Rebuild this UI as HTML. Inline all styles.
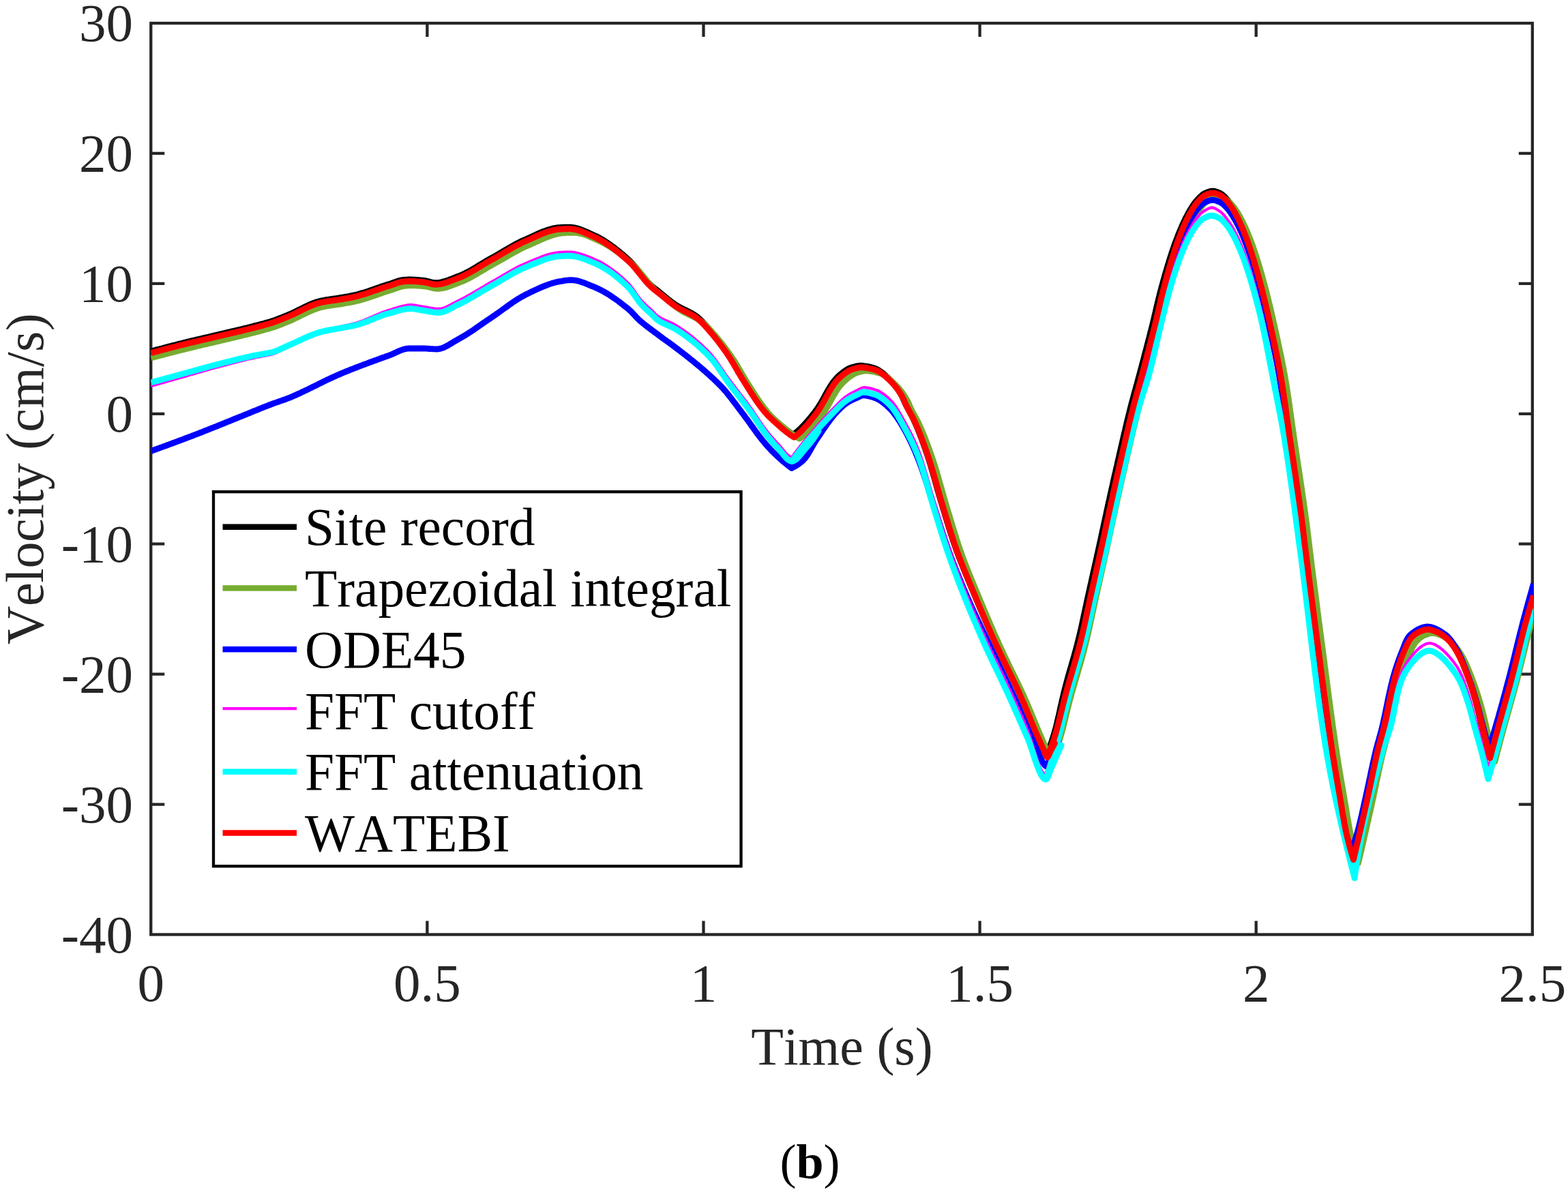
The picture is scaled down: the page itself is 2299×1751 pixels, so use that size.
<!DOCTYPE html>
<html lang="en">
<head>
<meta charset="utf-8">
<title>Velocity comparison (b)</title>
<style>
html,body{margin:0;padding:0;background:#fff}
body{width:2299px;height:1751px;overflow:hidden}
svg{display:block}
</style>
</head>
<body>
<svg xmlns="http://www.w3.org/2000/svg" width="2299" height="1751" viewBox="0 0 2299 1751">
<rect width="2299" height="1751" fill="#fff"/>
<defs><clipPath id="c"><rect x="221.25" y="34.00" width="2027.05" height="1336.50"/></clipPath></defs>
<g fill="none" stroke="#262626" stroke-width="4.3" stroke-linecap="butt">
<rect x="221.25" y="34.00" width="2025.55" height="1336.50"/>
<path d="M626.36 1370.50v-20.0M626.36 34.00v20.0M1031.47 1370.50v-20.0M1031.47 34.00v20.0M1436.58 1370.50v-20.0M1436.58 34.00v20.0M1841.69 1370.50v-20.0M1841.69 34.00v20.0M221.25 224.93h20.0M2246.80 224.93h-20.0M221.25 415.86h20.0M2246.80 415.86h-20.0M221.25 606.79h20.0M2246.80 606.79h-20.0M221.25 797.71h20.0M2246.80 797.71h-20.0M221.25 988.64h20.0M2246.80 988.64h-20.0M221.25 1179.57h20.0M2246.80 1179.57h-20.0"/>
</g>
<g fill="none" stroke-linejoin="round" stroke-linecap="butt" clip-path="url(#c)">
<path stroke="#000000" stroke-width="8.9" d="M221.3 515.2L223.7 514.5L226.1 513.9L228.5 513.2L231 512.6L233.4 512L235.8 511.3L238.2 510.7L240.6 510L243.1 509.4L245.5 508.8L247.9 508.1L250.3 507.5L252.7 506.9L255.2 506.3L257.6 505.7L260 505L262.4 504.4L264.9 503.8L267.3 503.2L269.7 502.6L272.2 502L274.6 501.4L277 500.8L279.4 500.2L281.9 499.7L284.3 499.1L286.7 498.5L289.2 497.9L291.6 497.4L294.1 496.8L296.5 496.2L298.9 495.7L301.4 495.1L303.8 494.5L306.2 494L308.7 493.4L311.1 492.8L313.5 492.2L316 491.7L318.4 491.1L320.9 490.5L323.3 489.9L325.7 489.4L328.2 488.8L330.6 488.2L333 487.7L335.5 487.1L337.9 486.5L340.3 485.9L342.8 485.4L345.2 484.8L347.6 484.2L350.1 483.6L352.5 483.1L354.9 482.5L357.4 481.9L359.8 481.3L362.2 480.7L364.7 480.1L367.1 479.5L369.5 478.9L371.9 478.2L374.4 477.6L376.8 477L379.2 476.4L381.6 475.7L384.1 475.1L386.5 474.5L388.9 473.8L391.3 473.1L393.7 472.4L396.1 471.7L398.5 471L400.8 470.2L403.2 469.4L405.6 468.5L407.9 467.6L410.2 466.7L412.6 465.8L414.9 464.8L417.2 463.9L419.5 463L421.8 462L424.1 461L426.4 460L428.7 459L431 457.9L433.3 456.8L435.6 455.7L437.8 454.5L440.1 453.4L442.4 452.3L444.7 451.2L446.9 450.1L449.2 449L451.5 447.9L453.8 446.9L456.1 445.9L458.4 445L460.7 444.1L463 443.3L465.4 442.6L467.8 441.9L470.1 441.3L472.5 440.7L475 440.3L477.4 439.8L479.9 439.4L482.3 439.1L484.8 438.7L487.3 438.4L489.8 438L492.3 437.7L494.8 437.3L497.3 436.9L499.8 436.5L502.2 436.1L504.7 435.7L507.2 435.2L509.6 434.8L512.1 434.3L514.5 433.8L517 433.3L519.4 432.8L521.9 432.3L524.3 431.7L526.7 431L529.1 430.3L531.5 429.6L533.9 428.9L536.2 428.2L538.6 427.4L541 426.6L543.4 425.8L545.7 424.9L548.1 424.1L550.5 423.3L552.8 422.5L555.2 421.6L557.6 420.8L560 420L562.3 419.2L564.7 418.4L567.1 417.6L569.5 416.9L571.9 416.2L574.3 415.4L576.7 414.5L579.1 413.7L581.4 412.8L583.8 412.1L586.3 411.4L588.7 410.8L591.1 410.4L593.6 410.3L596.1 410.1L598.6 410L601.1 410L603.6 410L606.1 410.1L608.6 410.2L611.1 410.4L613.6 410.6L616.1 410.8L618.6 411.1L621.1 411.3L623.5 411.7L626 412.3L628.5 412.9L630.9 413.5L633.4 414.1L635.8 414.5L638.3 414.7L640.7 414.6L643.1 414.4L645.6 414.1L648 413.6L650.5 412.9L652.9 412.2L655.3 411.4L657.7 410.6L660.1 409.7L662.5 408.8L664.9 407.8L667.3 406.9L669.6 406L671.9 405.2L674.2 404.3L676.5 403.3L678.7 402.3L681 401.2L683.2 400.1L685.4 399L687.6 397.8L689.8 396.6L692 395.4L694.2 394.1L696.3 392.8L698.5 391.5L700.7 390.2L702.8 388.9L705 387.6L707.2 386.3L709.3 385L711.5 383.7L713.6 382.4L715.8 381.2L718 379.9L720.2 378.7L722.4 377.5L724.6 376.3L726.8 375L728.9 373.8L731.1 372.5L733.3 371.2L735.4 370L737.6 368.7L739.8 367.4L741.9 366.1L744.1 364.9L746.3 363.6L748.5 362.3L750.6 361.1L752.8 359.9L755 358.7L757.2 357.5L759.4 356.3L761.7 355.2L763.9 354.1L766.1 353L768.4 352L770.7 351L772.9 350L775.2 349L777.5 348L779.8 346.9L782.1 345.8L784.5 344.8L786.8 343.7L789.1 342.7L791.5 341.7L793.8 340.7L796.2 339.7L798.6 338.8L801 337.9L803.3 337.1L805.7 336.4L808.1 335.7L810.5 335.1L813 334.6L815.4 334.2L817.8 333.8L820.3 333.6L822.7 333.5L825.2 333.4L827.7 333.2L830.3 333.2L832.8 333.1L835.2 333.1L837.7 333.3L840.1 333.6L842.6 334L845 334.6L847.5 335.3L849.9 336L852.3 336.9L854.7 337.8L857.1 338.8L859.4 339.8L861.8 340.9L864.1 341.9L866.4 343L868.6 344L870.9 345L873.1 346L875.3 347.1L877.5 348.2L879.6 349.4L881.8 350.6L884 351.9L886.1 353.2L888.2 354.6L890.4 356L892.5 357.4L894.5 358.8L896.6 360.3L898.7 361.8L900.7 363.4L902.7 364.9L904.7 366.5L906.7 368.1L908.7 369.7L910.6 371.3L912.6 373L914.5 374.6L916.4 376.2L918.2 377.9L920.1 379.5L921.9 381.2L923.6 382.9L925.4 384.6L927.1 386.5L928.7 388.3L930.4 390.2L932 392.1L933.6 394.1L935.2 396L936.7 398L938.3 400L939.9 402L941.5 404L943.1 405.9L944.7 407.9L946.3 409.8L947.9 411.7L949.6 413.5L951.4 415.4L953.1 417.1L954.9 418.8L956.8 420.4L958.7 422L960.7 423.6L962.7 425.1L964.7 426.6L966.6 428.2L968.6 429.8L970.5 431.4L972.5 433L974.4 434.6L976.3 436.2L978.3 437.8L980.2 439.4L982.2 440.9L984.2 442.5L986.2 443.9L988.2 445.4L990.2 446.8L992.3 448.1L994.5 449.4L996.7 450.6L998.9 451.7L1001.2 452.9L1003.5 454L1005.8 455.1L1008 456.2L1010.3 457.3L1012.5 458.5L1014.7 459.7L1016.8 461L1018.9 462.3L1020.9 463.7L1022.8 465.2L1024.7 466.8L1026.5 468.5L1028.3 470.3L1030.1 472L1031.8 473.9L1033.5 475.8L1035.2 477.6L1036.9 479.5L1038.6 481.4L1040.2 483.3L1041.8 485.2L1043.5 487.1L1045.1 489L1046.7 490.9L1048.2 492.9L1049.8 494.8L1051.4 496.8L1052.9 498.8L1054.4 500.8L1055.9 502.8L1057.4 504.8L1058.9 506.8L1060.4 508.9L1061.8 510.9L1063.3 513L1064.7 515L1066.1 517.1L1067.5 519.2L1068.9 521.2L1070.2 523.3L1071.6 525.5L1072.8 527.6L1074.1 529.7L1075.4 531.9L1076.6 534.1L1077.9 536.3L1079.1 538.4L1080.4 540.6L1081.6 542.8L1082.9 544.9L1084.2 547.1L1085.5 549.2L1086.8 551.4L1088.1 553.5L1089.5 555.6L1090.8 557.7L1092.1 559.9L1093.5 562L1094.8 564.1L1096.1 566.3L1097.5 568.4L1098.8 570.5L1100.2 572.7L1101.5 574.7L1102.9 576.8L1104.2 578.9L1105.6 581L1107 583L1108.4 585.1L1109.8 587.1L1111.3 589.1L1112.7 591.1L1114.2 593.1L1115.7 595L1117.2 596.9L1118.7 598.8L1120.3 600.7L1121.9 602.5L1123.5 604.3L1125.2 606.1L1127 607.8L1128.7 609.5L1130.5 611.2L1132.4 612.9L1134.2 614.6L1136.1 616.2L1137.9 617.8L1139.8 619.5L1141.7 621.1L1143.5 622.7L1145.4 624.3L1147.3 625.9L1149.2 627.5L1151.1 629L1153.1 630.5L1155 631.9L1157.1 633.3L1159.1 634.7L1161.2 636L1163.3 637.3L1165.2 635.8L1167.2 634.2L1169.1 632.6L1170.9 631L1172.7 629.4L1174.5 627.7L1176.2 625.9L1177.9 624.2L1179.6 622.4L1181.3 620.6L1182.9 618.7L1184.5 616.8L1186.1 614.9L1187.7 613L1189.3 611.1L1190.8 609.2L1192.4 607.2L1193.9 605.3L1195.4 603.3L1196.8 601.4L1198.3 599.4L1199.7 597.3L1201 595.2L1202.3 593.1L1203.6 590.9L1204.9 588.7L1206.2 586.5L1207.4 584.3L1208.6 582.1L1209.8 579.8L1211.1 577.6L1212.3 575.4L1213.5 573.2L1214.8 571L1216.1 568.9L1217.3 566.7L1218.7 564.7L1220 562.6L1221.4 560.7L1222.9 558.8L1224.4 556.9L1225.9 555.2L1227.5 553.5L1229.2 551.8L1231 550.2L1232.9 548.5L1234.9 546.9L1236.9 545.3L1239 543.8L1241.2 542.4L1243.4 541.1L1245.7 540L1248 539.1L1250.3 538.4L1252.7 537.7L1255.1 537.1L1257.6 536.6L1260.1 536.3L1262.6 536.3L1265.1 536.5L1267.7 536.8L1270.2 537.2L1272.7 537.6L1275.2 538.2L1277.7 538.8L1280 539.4L1282.3 540.1L1284.5 540.9L1286.7 542L1288.8 543.3L1291 544.7L1293 546.3L1295.1 547.9L1297 549.6L1299 551.4L1300.8 553.1L1302.7 554.8L1304.4 556.5L1306.1 558.3L1307.8 560.1L1309.5 562L1311.1 563.9L1312.7 565.9L1314.2 567.9L1315.7 570L1317.2 572.1L1318.6 574.2L1319.9 576.3L1321.2 578.4L1322.3 580.6L1323.4 582.9L1324.4 585.1L1325.4 587.5L1326.4 589.8L1327.5 592.1L1328.6 594.3L1329.7 596.5L1330.9 598.7L1332.1 600.9L1333.3 603.1L1334.5 605.3L1335.7 607.5L1336.9 609.7L1338 612L1339.1 614.2L1340.1 616.5L1341.1 618.7L1342.1 621L1343.1 623.3L1344.1 625.6L1345.1 627.9L1346 630.2L1347 632.6L1347.9 634.9L1348.8 637.2L1349.7 639.6L1350.6 641.9L1351.5 644.2L1352.4 646.6L1353.2 648.9L1354.1 651.3L1354.9 653.7L1355.8 656L1356.6 658.4L1357.4 660.7L1358.3 663.1L1359.1 665.5L1359.9 667.8L1360.6 670.2L1361.4 672.6L1362.2 674.9L1362.9 677.3L1363.7 679.7L1364.4 682.1L1365.1 684.5L1365.8 686.9L1366.5 689.3L1367.2 691.7L1367.9 694.1L1368.6 696.5L1369.3 698.9L1370 701.3L1370.7 703.7L1371.3 706.1L1372 708.5L1372.7 711L1373.4 713.4L1374 715.8L1374.7 718.2L1375.4 720.6L1376.1 723L1376.8 725.4L1377.5 727.8L1378.2 730.2L1378.9 732.6L1379.6 735L1380.4 737.4L1381.1 739.8L1381.8 742.2L1382.5 744.6L1383.2 747L1384 749.4L1384.7 751.8L1385.4 754.2L1386.1 756.6L1386.8 759L1387.6 761.3L1388.3 763.7L1389 766.1L1389.8 768.5L1390.5 770.9L1391.2 773.3L1392 775.7L1392.7 778.1L1393.5 780.5L1394.2 782.9L1395 785.2L1395.8 787.6L1396.6 790L1397.3 792.4L1398.1 794.7L1398.9 797.1L1399.8 799.4L1400.6 801.8L1401.4 804.2L1402.2 806.5L1403.1 808.9L1404 811.2L1404.8 813.5L1405.7 815.9L1406.6 818.2L1407.5 820.5L1408.4 822.9L1409.3 825.2L1410.3 827.5L1411.2 829.8L1412.1 832.2L1413.1 834.5L1414 836.8L1414.9 839.1L1415.9 841.4L1416.9 843.7L1417.8 846.1L1418.8 848.4L1419.7 850.7L1420.7 853L1421.7 855.3L1422.6 857.6L1423.6 859.9L1424.6 862.2L1425.5 864.5L1426.5 866.8L1427.5 869.1L1428.4 871.5L1429.4 873.8L1430.4 876.1L1431.3 878.4L1432.3 880.7L1433.3 883L1434.2 885.3L1435.2 887.6L1436.2 889.9L1437.1 892.2L1438.1 894.5L1439.1 896.8L1440.1 899.1L1441.1 901.4L1442 903.7L1443 906L1444 908.3L1445 910.6L1446 912.9L1447 915.2L1448 917.5L1449 919.8L1450 922.1L1451 924.3L1452.1 926.6L1453.1 928.9L1454.1 931.2L1455.1 933.5L1456.1 935.8L1457.2 938L1458.2 940.3L1459.2 942.6L1460.3 944.9L1461.4 947.1L1462.4 949.4L1463.5 951.6L1464.6 953.9L1465.6 956.2L1466.7 958.4L1467.8 960.7L1468.9 962.9L1470 965.2L1471.1 967.4L1472.2 969.7L1473.3 971.9L1474.4 974.2L1475.5 976.4L1476.6 978.7L1477.7 980.9L1478.8 983.2L1479.9 985.4L1481 987.7L1482.1 989.9L1483.2 992.2L1484.2 994.4L1485.3 996.7L1486.4 998.9L1487.5 1001.2L1488.5 1003.4L1489.6 1005.7L1490.7 1008L1491.7 1010.2L1492.7 1012.5L1493.8 1014.8L1494.8 1017.1L1495.8 1019.4L1496.8 1021.6L1497.8 1023.9L1498.8 1026.2L1499.8 1028.4L1500.9 1030.6L1501.9 1032.7L1502.9 1034.9L1503.9 1037L1504.9 1039.2L1505.9 1041.4L1506.9 1043.5L1507.9 1045.7L1508.9 1047.9L1510 1050L1511 1052.2L1512 1054.4L1513 1056.5L1514 1058.7L1515 1060.9L1516 1063L1517.1 1065.2L1518.1 1067.3L1519.1 1069.5L1520.2 1071.6L1521.2 1073.7L1522.3 1075.9L1523.4 1078L1524.5 1080.1L1525.5 1082.2L1526.6 1084.4L1527.7 1086.5L1528.9 1088.6L1530 1090.7L1531.1 1093L1532.2 1095.8L1533.4 1098.6L1534.5 1100.9L1535.7 1102.3L1536.8 1102.4L1537.9 1101.3L1538.9 1099.2L1539.9 1096.5L1540.9 1094L1541.9 1091.9L1543 1090L1544 1088L1545 1086.1L1546.1 1084.2L1537.4 1100.3L1538.2 1098.1L1538.9 1096L1539.7 1093.8L1540.5 1091.6L1541.3 1089.5L1542 1087.3L1542.7 1085.1L1543.4 1082.9L1544.1 1080.7L1544.8 1078.5L1545.5 1076.3L1546.1 1074.1L1546.8 1071.8L1547.4 1069.6L1548 1067.3L1548.6 1065L1549.1 1062.8L1549.7 1060.5L1550.2 1058.2L1550.8 1055.9L1551.3 1053.6L1551.8 1051.3L1552.4 1049L1552.9 1046.7L1553.4 1044.4L1553.9 1042.1L1554.4 1039.7L1554.9 1037.4L1555.4 1035.1L1556 1032.8L1556.5 1030.5L1557 1028.2L1557.5 1025.9L1558.1 1023.6L1558.6 1021.3L1559.2 1019L1559.7 1016.7L1560.3 1014.4L1560.9 1012.2L1561.4 1009.9L1562 1007.6L1562.6 1005.3L1563.2 1003.1L1563.8 1000.8L1564.4 998.5L1565 996.3L1565.6 994L1566.2 991.8L1566.9 989.4L1567.6 987L1568.3 984.6L1569 982.2L1569.7 979.8L1570.4 977.4L1571.1 975L1571.8 972.6L1572.5 970.2L1573.2 967.8L1573.9 965.4L1574.6 963L1575.3 960.6L1575.9 958.2L1576.6 955.7L1577.3 953.3L1577.9 950.9L1578.6 948.5L1579.2 946.1L1579.8 943.7L1580.4 941.2L1581 938.8L1581.6 936.4L1582.2 934L1582.8 931.5L1583.4 929.1L1583.9 926.7L1584.5 924.2L1585.1 921.8L1585.6 919.3L1586.2 916.9L1586.7 914.5L1587.2 912L1587.8 909.6L1588.3 907.1L1588.8 904.7L1589.3 902.2L1589.9 899.8L1590.4 897.3L1590.9 894.9L1591.4 892.4L1592 890L1592.5 887.5L1593 885.1L1593.5 882.6L1594.1 880.2L1594.6 877.7L1595.1 875.3L1595.7 872.8L1596.2 870.4L1596.7 868L1597.3 865.5L1597.8 863.1L1598.4 860.6L1598.9 858.2L1599.5 855.7L1600 853.3L1600.6 850.9L1601.1 848.4L1601.6 846L1602.2 843.5L1602.7 841.1L1603.3 838.6L1603.8 836.2L1604.4 833.8L1604.9 831.3L1605.5 828.9L1606 826.4L1606.6 824L1607.1 821.6L1607.7 819.1L1608.2 816.7L1608.7 814.2L1609.3 811.8L1609.8 809.3L1610.4 806.9L1610.9 804.4L1611.4 802L1612 799.6L1612.5 797.1L1613 794.7L1613.6 792.2L1614.1 789.8L1614.6 787.3L1615.2 784.9L1615.7 782.4L1616.2 780L1616.7 777.5L1617.3 775.1L1617.8 772.6L1618.3 770.2L1618.8 767.8L1619.4 765.3L1619.9 762.9L1620.4 760.4L1620.9 758L1621.5 755.5L1622 753.1L1622.5 750.6L1623.1 748.2L1623.6 745.7L1624.1 743.3L1624.7 740.8L1625.2 738.4L1625.7 736L1626.3 733.5L1626.8 731.1L1627.4 728.6L1627.9 726.2L1628.4 723.7L1629 721.3L1629.5 718.9L1630.1 716.4L1630.6 714L1631.2 711.5L1631.7 709.1L1632.2 706.6L1632.8 704.2L1633.3 701.8L1633.9 699.3L1634.4 696.9L1635 694.4L1635.6 692L1636.1 689.6L1636.7 687.1L1637.2 684.7L1637.8 682.2L1638.3 679.8L1638.9 677.4L1639.4 674.9L1640 672.5L1640.6 670L1641.1 667.6L1641.7 665.2L1642.2 662.7L1642.8 660.3L1643.4 657.8L1643.9 655.4L1644.5 653L1645 650.5L1645.6 648.1L1646.2 645.6L1646.7 643.2L1647.3 640.8L1647.8 638.3L1648.4 635.9L1649 633.5L1649.6 631L1650.1 628.6L1650.7 626.1L1651.3 623.7L1651.8 621.3L1652.4 618.8L1653 616.4L1653.6 614L1654.2 611.5L1654.8 609.1L1655.4 606.7L1656 604.2L1656.6 601.8L1657.2 599.4L1657.8 597L1658.4 594.5L1659.1 592.1L1659.7 589.7L1660.4 587.3L1661 584.9L1661.7 582.5L1662.3 580L1663 577.6L1663.6 575.2L1664.3 572.8L1665 570.4L1665.6 568L1666.3 565.6L1667 563.2L1667.6 560.7L1668.3 558.3L1668.9 555.9L1669.6 553.5L1670.2 551.1L1670.9 548.7L1671.5 546.2L1672.2 543.8L1672.8 541.4L1673.5 539L1674.1 536.6L1674.7 534.1L1675.4 531.7L1676 529.3L1676.7 526.9L1677.3 524.5L1677.9 522L1678.6 519.6L1679.2 517.2L1679.8 514.8L1680.5 512.4L1681.1 509.9L1681.7 507.5L1682.4 505.1L1683 502.7L1683.6 500.2L1684.2 497.8L1684.9 495.4L1685.5 493L1686.1 490.5L1686.7 488.1L1687.3 485.7L1688 483.3L1688.6 480.8L1689.2 478.4L1689.8 476L1690.4 473.6L1691 471.1L1691.6 468.7L1692.2 466.3L1692.7 463.8L1693.3 461.4L1693.9 459L1694.4 456.5L1695 454.1L1695.6 451.6L1696.1 449.2L1696.7 446.8L1697.3 444.3L1697.9 441.8L1698.5 439.4L1699.1 436.9L1699.7 434.5L1700.3 432.1L1700.9 429.6L1701.5 427.2L1702.2 424.7L1702.8 422.3L1703.5 419.8L1704.2 417.4L1704.8 415L1705.5 412.5L1706.2 410.1L1706.9 407.7L1707.5 405.2L1708.2 402.8L1708.9 400.4L1709.6 398L1710.4 395.5L1711.1 393.1L1711.8 390.7L1712.5 388.3L1713.3 385.8L1714 383.4L1714.8 381L1715.5 378.6L1716.3 376.2L1717.1 373.8L1717.8 371.4L1718.6 369L1719.5 366.6L1720.3 364.2L1721.1 361.8L1721.9 359.4L1722.8 357L1723.7 354.6L1724.6 352.2L1725.5 349.9L1726.4 347.5L1727.3 345.1L1728.2 342.8L1729.2 340.4L1730.2 338.1L1731.2 335.7L1732.2 333.4L1733.2 331.1L1734.2 328.7L1735.3 326.4L1736.4 324.1L1737.5 321.8L1738.6 319.5L1739.8 317.3L1741 315L1742.2 312.8L1743.4 310.5L1744.7 308.3L1746.1 306.1L1747.4 304L1748.8 301.8L1750.3 299.7L1751.8 297.6L1753.4 295.6L1755.1 293.6L1756.8 291.7L1758.6 289.8L1760.5 288L1762.5 286.2L1764.6 284.7L1766.8 283.4L1769.2 282.4L1771.7 281.4L1774.3 280.6L1776.8 280.1L1779.3 280.1L1781.8 280.6L1784.2 281.4L1786.6 282.4L1788.9 283.4L1791 284.6L1793 286.2L1794.9 287.9L1796.7 289.8L1798.4 291.6L1800.1 293.5L1801.6 295.5L1803.2 297.5L1804.6 299.6L1806 301.7L1807.4 303.8L1808.7 305.9L1809.9 308.1L1811.2 310.3L1812.4 312.5L1813.5 314.8L1814.7 317L1815.8 319.3L1816.8 321.5L1817.9 323.8L1818.9 326.1L1820 328.4L1821 330.7L1821.9 333.1L1822.9 335.4L1823.8 337.7L1824.8 340L1825.7 342.4L1826.6 344.7L1827.5 347.1L1828.4 349.4L1829.2 351.8L1830.1 354.2L1830.9 356.6L1831.7 358.9L1832.5 361.3L1833.3 363.7L1834.1 366.1L1834.9 368.5L1835.6 370.9L1836.4 373.3L1837.1 375.7L1837.9 378.1L1838.6 380.5L1839.3 382.9L1840 385.3L1840.7 387.7L1841.4 390.1L1842.1 392.5L1842.8 394.9L1843.5 397.4L1844.1 399.8L1844.8 402.2L1845.5 404.6L1846.1 407L1846.8 409.5L1847.4 411.9L1848.1 414.3L1848.7 416.8L1849.4 419.2L1850 421.6L1850.6 424L1851.2 426.5L1851.8 428.9L1852.4 431.3L1853 433.7L1853.6 436.2L1854.2 438.6L1854.8 441L1855.4 443.5L1855.9 445.9L1856.5 448.3L1857.1 450.8L1857.6 453.2L1858.2 455.7L1858.8 458.1L1859.3 460.5L1859.8 463L1860.4 465.4L1860.9 467.9L1861.5 470.3L1862 472.7L1862.5 475.2L1863.1 477.6L1863.6 480.1L1864.2 482.5L1864.7 485L1865.2 487.4L1865.8 489.8L1866.3 492.3L1866.8 494.7L1867.4 497.2L1867.9 499.6L1868.4 502.1L1868.9 504.5L1869.5 507L1870 509.4L1870.5 511.9L1871 514.3L1871.5 516.8L1872 519.2L1872.5 521.7L1873 524.1L1873.5 526.6L1873.9 529L1874.4 531.5L1874.9 533.9L1875.3 536.4L1875.8 538.9L1876.2 541.3L1876.7 543.8L1877.1 546.2L1877.5 548.7L1877.9 551.2L1878.4 553.6L1878.8 556.1L1879.2 558.6L1879.6 561L1880 563.5L1880.3 566L1880.7 568.4L1881.1 570.9L1881.5 573.4L1881.8 575.9L1882.2 578.3L1882.6 580.8L1882.9 583.3L1883.3 585.8L1883.6 588.2L1884 590.7L1884.3 593.2L1884.7 595.7L1885 598.1L1885.4 600.6L1885.7 603.1L1886.1 605.6L1886.4 608.1L1886.8 610.5L1887.1 613L1887.4 615.5L1887.8 618L1888.1 620.5L1888.5 622.9L1888.8 625.4L1889.2 627.9L1889.5 630.4L1889.9 632.8L1890.2 635.3L1890.6 637.8L1891 640.3L1891.3 642.8L1891.7 645.2L1892.1 647.7L1892.4 650.2L1892.8 652.6L1893.2 655.1L1893.5 657.6L1893.9 660.1L1894.3 662.5L1894.7 665L1895 667.5L1895.4 670L1895.8 672.4L1896.2 674.9L1896.5 677.4L1896.9 679.9L1897.3 682.3L1897.7 684.8L1898 687.3L1898.4 689.8L1898.8 692.2L1899.1 694.7L1899.5 697.2L1899.9 699.6L1900.2 702.1L1900.6 704.6L1901 707.1L1901.3 709.5L1901.7 712L1902.1 714.5L1902.4 717L1902.8 719.4L1903.1 721.9L1903.5 724.4L1903.9 726.9L1904.2 729.4L1904.6 731.8L1904.9 734.3L1905.3 736.8L1905.6 739.3L1906 741.7L1906.3 744.2L1906.7 746.7L1907 749.2L1907.4 751.6L1907.7 754.1L1908 756.6L1908.3 759.1L1908.7 761.6L1909 764L1909.3 766.5L1909.6 769L1909.9 771.5L1910.2 774L1910.5 776.5L1910.8 778.9L1911.1 781.4L1911.4 783.9L1911.7 786.4L1912 788.9L1912.3 791.4L1912.6 793.9L1912.9 796.3L1913.2 798.8L1913.5 801.3L1913.8 803.8L1914.1 806.3L1914.4 808.7L1914.7 811.2L1915 813.7L1915.4 816.2L1915.7 818.7L1916 821.2L1916.3 823.6L1916.6 826.1L1916.9 828.6L1917.2 831.1L1917.5 833.6L1917.9 836.1L1918.2 838.5L1918.5 841L1918.8 843.5L1919.1 846L1919.4 848.5L1919.7 850.9L1920.1 853.4L1920.4 855.9L1920.7 858.4L1921 860.9L1921.3 863.4L1921.6 865.8L1922 868.3L1922.3 870.8L1922.6 873.3L1922.9 875.8L1923.2 878.2L1923.6 880.7L1923.9 883.2L1924.2 885.7L1924.5 888.2L1924.8 890.6L1925.2 893.1L1925.5 895.6L1925.8 898.1L1926.1 900.6L1926.4 903.1L1926.8 905.5L1927.1 908L1927.4 910.5L1927.7 913L1928.1 915.5L1928.4 917.9L1928.7 920.4L1929 922.9L1929.4 925.4L1929.7 927.9L1930 930.3L1930.3 932.8L1930.7 935.3L1931 937.8L1931.3 940.3L1931.6 942.7L1932 945.2L1932.3 947.7L1932.6 950.2L1932.9 952.7L1933.3 955.1L1933.6 957.6L1933.9 960.1L1934.2 962.6L1934.6 965.1L1934.9 967.5L1935.2 970L1935.5 972.5L1935.9 975L1936.2 977.5L1936.5 980L1936.8 982.4L1937.1 984.9L1937.5 987.4L1937.8 989.9L1938.1 992.4L1938.4 994.8L1938.8 997.3L1939.1 999.8L1939.4 1002.3L1939.7 1004.8L1940.1 1007.2L1940.4 1009.7L1940.7 1012.2L1941.1 1014.7L1941.4 1017.2L1941.7 1019.6L1942 1022.1L1942.4 1024.6L1942.7 1027.1L1943 1029.6L1943.4 1032L1943.7 1034.5L1944 1037L1944.4 1039.5L1944.7 1042L1945.1 1044.4L1945.4 1046.9L1945.7 1049.4L1946.1 1051.9L1946.4 1054.3L1946.8 1056.8L1947.1 1059.3L1947.5 1061.8L1947.8 1064.3L1948.2 1066.7L1948.5 1069.2L1948.9 1071.7L1949.2 1074.2L1949.6 1076.6L1949.9 1079.1L1950.3 1081.6L1950.7 1084.1L1951 1086.5L1951.4 1089L1951.8 1091.5L1952.1 1094L1952.5 1096.4L1952.9 1098.9L1953.3 1101.4L1953.7 1103.8L1954 1106.3L1954.4 1108.8L1954.8 1111.3L1955.2 1113.7L1955.6 1116.2L1956 1118.7L1956.4 1121.1L1956.8 1123.6L1957.2 1126.1L1957.7 1128.5L1958.1 1131L1958.5 1133.5L1958.9 1135.9L1959.3 1138.4L1959.7 1140.9L1960.2 1143.3L1960.6 1145.8L1961 1148.3L1961.4 1150.7L1961.9 1153.2L1962.3 1155.7L1962.7 1158.1L1963.1 1160.6L1963.6 1163.1L1964 1165.5L1964.4 1168L1964.8 1170.5L1965.2 1172.9L1965.6 1175.4L1966 1177.9L1966.5 1180.3L1966.9 1182.8L1967.3 1185.3L1967.7 1187.7L1968.1 1190.2L1968.5 1192.7L1968.9 1195.2L1969.3 1197.6L1969.8 1200.1L1970.2 1202.5L1970.7 1205L1971.1 1207.5L1971.6 1209.9L1972.1 1212.4L1972.6 1214.8L1973.1 1217.2L1973.6 1219.7L1974.2 1222.1L1974.7 1224.6L1975.3 1227L1975.9 1229.4L1976.5 1231.8L1977.1 1234.3L1977.7 1236.7L1978.4 1239.1L1979 1241.5L1979.7 1243.9L1980.4 1246.3L1981.1 1248.8L1981.8 1251.2L1982.5 1253.6L1983.2 1256L1983.9 1258.4L1984.5 1255.9L1985.1 1253.5L1985.6 1251L1986.2 1248.6L1986.8 1246.2L1987.3 1243.7L1987.9 1241.3L1988.5 1238.8L1989.1 1236.4L1989.6 1233.9L1990.2 1231.5L1990.8 1229.1L1991.3 1226.6L1991.9 1224.2L1992.4 1221.7L1993 1219.3L1993.6 1216.8L1994.1 1214.4L1994.7 1211.9L1995.2 1209.5L1995.8 1207.1L1996.3 1204.6L1996.9 1202.2L1997.4 1199.7L1998 1197.3L1998.5 1194.8L1999.1 1192.4L1999.6 1189.9L2000.2 1187.5L2000.7 1185L2001.3 1182.6L2001.8 1180.1L2002.4 1177.7L2002.9 1175.2L2003.4 1172.8L2004 1170.3L2004.5 1167.9L2005 1165.4L2005.6 1163L2006.1 1160.5L2006.6 1158.1L2007.1 1155.6L2007.7 1153.2L2008.2 1150.7L2008.7 1148.3L2009.2 1145.8L2009.7 1143.3L2010.2 1140.9L2010.7 1138.4L2011.2 1136L2011.7 1133.5L2012.3 1131.1L2012.8 1128.6L2013.3 1126.2L2013.8 1123.7L2014.3 1121.3L2014.9 1118.8L2015.4 1116.3L2015.9 1113.9L2016.5 1111.5L2017 1109L2017.6 1106.6L2018.1 1104.1L2018.7 1101.7L2019.3 1099.2L2019.8 1096.8L2020.5 1094.4L2021.1 1091.9L2021.7 1089.5L2022.4 1087.1L2023 1084.7L2023.7 1082.2L2024.3 1079.8L2025 1077.4L2025.7 1075L2026.3 1072.6L2026.9 1070.1L2027.5 1067.7L2028.1 1065.3L2028.7 1062.8L2029.3 1060.4L2029.9 1057.9L2030.4 1055.5L2030.9 1053L2031.5 1050.6L2032 1048.1L2032.5 1045.7L2033 1043.2L2033.5 1040.7L2034 1038.3L2034.5 1035.8L2035 1033.4L2035.5 1030.9L2036 1028.4L2036.5 1026L2037.1 1023.5L2037.6 1021.1L2038.1 1018.6L2038.6 1016.1L2039.1 1013.7L2039.7 1011.2L2040.2 1008.8L2040.8 1006.4L2041.4 1003.9L2042 1001.5L2042.6 999.1L2043.2 996.6L2043.8 994.2L2044.4 991.8L2045.1 989.4L2045.8 987L2046.5 984.6L2047.2 982.2L2047.9 979.8L2048.7 977.4L2049.5 975L2050.3 972.6L2051.1 970.2L2051.9 967.8L2052.8 965.4L2053.6 963.1L2054.5 960.7L2055.4 958.4L2056.4 956.1L2057.3 953.8L2058.3 951.5L2059.3 949.2L2060.4 946.9L2061.5 944.5L2062.6 942.2L2063.8 939.9L2065 937.7L2066.4 935.6L2067.8 933.7L2069.3 931.9L2071.1 930.2L2073 928.5L2075.1 926.9L2077.2 925.5L2079.4 924.3L2081.7 923.3L2084 922.4L2086.4 921.5L2088.9 920.8L2091.4 920.5L2093.8 920.4L2096.3 920.8L2098.7 921.4L2101.1 922.3L2103.5 923.1L2105.8 924L2108 925.1L2110.3 926.3L2112.5 927.6L2114.6 929L2116.6 930.6L2118.5 932.1L2120.3 933.7L2122.1 935.4L2123.8 937.2L2125.4 939.2L2127 941.1L2128.6 943.2L2130.1 945.3L2131.5 947.4L2132.8 949.5L2134.1 951.6L2135.4 953.7L2136.6 955.8L2137.7 958L2138.9 960.2L2140 962.5L2141 964.8L2142.1 967L2143.1 969.4L2144.1 971.7L2145.1 974L2146 976.4L2147 978.7L2147.9 981.1L2148.8 983.4L2149.7 985.8L2150.6 988.1L2151.5 990.4L2152.3 992.8L2153.2 995.1L2154 997.5L2154.8 999.8L2155.7 1002.2L2156.5 1004.6L2157.2 1007L2158 1009.4L2158.8 1011.8L2159.5 1014.2L2160.3 1016.6L2161 1019L2161.7 1021.4L2162.4 1023.8L2163.1 1026.2L2163.8 1028.6L2164.4 1031L2165.1 1033.4L2165.7 1035.8L2166.3 1038.2L2166.9 1040.7L2167.5 1043.1L2168.1 1045.5L2168.7 1048L2169.3 1050.4L2169.9 1052.9L2170.5 1055.3L2171 1057.7L2171.6 1060.2L2172.2 1062.6L2172.8 1065L2173.4 1067.5L2174 1069.9L2174.6 1072.3L2175.2 1074.8L2175.8 1077.2L2176.4 1079.6L2177 1082.1L2177.6 1084.5L2178.2 1086.9L2178.7 1089.4L2179.3 1091.8L2179.9 1094.3L2180.5 1096.7L2181.1 1099.1L2181.7 1101.6L2182.3 1104L2182.9 1106.4L2183.4 1108.9L2184.1 1106.4L2184.7 1104L2185.3 1101.5L2186 1099.1L2186.6 1096.7L2187.3 1094.2L2187.9 1091.8L2188.5 1089.3L2189.2 1086.9L2189.8 1084.5L2190.5 1082L2191.1 1079.6L2191.8 1077.1L2192.4 1074.7L2193.1 1072.3L2193.7 1069.8L2194.4 1067.4L2195 1065L2195.7 1062.5L2196.3 1060.1L2197 1057.7L2197.7 1055.2L2198.3 1052.8L2199 1050.4L2199.7 1047.9L2200.3 1045.5L2201 1043.1L2201.7 1040.6L2202.4 1038.2L2203.1 1035.8L2203.7 1033.3L2204.4 1030.9L2205.1 1028.5L2205.8 1026.1L2206.4 1023.6L2207.1 1021.2L2207.8 1018.8L2208.5 1016.3L2209.1 1013.9L2209.8 1011.5L2210.5 1009L2211.1 1006.6L2211.8 1004.2L2212.5 1001.7L2213.1 999.3L2213.8 996.9L2214.4 994.4L2215.1 992L2215.7 989.6L2216.3 987.1L2217 984.7L2217.6 982.2L2218.2 979.8L2218.8 977.3L2219.4 974.9L2220 972.4L2220.6 970L2221.2 967.5L2221.8 965.1L2222.4 962.6L2223 960.2L2223.6 957.7L2224.2 955.3L2224.8 952.8L2225.4 950.4L2226 947.9L2226.5 945.5L2227.1 943L2227.7 940.6L2228.3 938.1L2228.9 935.7L2229.5 933.2L2230.1 930.8L2230.8 928.3L2231.4 925.9L2232 923.4L2232.6 921L2233.3 918.5L2233.9 916.1L2234.5 913.7L2235.2 911.2L2235.9 908.8L2236.5 906.4L2237.2 903.9L2237.9 901.5L2238.5 899.1L2239.2 896.6L2239.9 894.2L2240.6 891.8L2241.3 889.4L2242 886.9L2242.7 884.5L2243.4 882.1L2244.1 879.7L2244.8 877.3L2245.6 874.8L2246.3 872.4L2247 870.0"/>
<path stroke="#77AC30" stroke-width="8.9" d="M221.3 525L223.7 524.3L226.2 523.7L228.6 523L231 522.4L233.5 521.7L235.9 521.1L238.3 520.4L240.8 519.8L243.2 519.1L245.6 518.5L248.1 517.9L250.5 517.2L253 516.6L255.4 516L257.8 515.4L260.3 514.7L262.7 514.1L265.2 513.5L267.6 512.9L270.1 512.3L272.5 511.7L274.9 511.1L277.4 510.5L279.8 509.9L282.3 509.3L284.7 508.7L287.2 508.1L289.6 507.5L292.1 507L294.6 506.4L297 505.8L299.5 505.2L301.9 504.7L304.4 504.1L306.8 503.5L309.3 502.9L311.7 502.4L314.2 501.8L316.6 501.2L319.1 500.6L321.5 500.1L324 499.5L326.4 498.9L328.9 498.3L331.3 497.7L333.8 497.1L336.2 496.6L338.7 496L341.2 495.4L343.6 494.8L346.1 494.3L348.5 493.7L351 493.1L353.4 492.5L355.9 491.9L358.3 491.3L360.8 490.7L363.2 490.1L365.6 489.5L368.1 488.9L370.5 488.3L373 487.6L375.4 487L377.8 486.4L380.3 485.7L382.7 485.1L385.2 484.5L387.6 483.8L390 483.1L392.5 482.4L394.9 481.7L397.3 481L399.7 480.3L402.1 479.5L404.5 478.7L406.8 477.8L409.2 476.9L411.5 476L413.9 475.1L416.2 474.1L418.5 473.2L420.9 472.2L423.2 471.3L425.5 470.3L427.8 469.3L430.2 468.2L432.5 467.1L434.7 466L437 464.9L439.3 463.8L441.6 462.6L443.9 461.5L446.2 460.4L448.5 459.3L450.8 458.2L453.1 457.1L455.4 456.1L457.7 455.1L460 454.2L462.4 453.3L464.7 452.5L467.1 451.7L469.4 451L471.8 450.4L474.2 449.9L476.7 449.4L479.1 448.9L481.6 448.5L484.1 448.1L486.6 447.8L489.1 447.4L491.6 447.1L494.2 446.7L496.7 446.4L499.2 446L501.7 445.6L504.1 445.1L506.6 444.7L509.1 444.2L511.6 443.8L514.1 443.3L516.6 442.8L519 442.3L521.5 441.8L523.9 441.2L526.3 440.6L528.8 440L531.2 439.3L533.6 438.6L536 437.9L538.4 437.1L540.8 436.3L543.2 435.5L545.6 434.7L548 433.9L550.3 433L552.7 432.2L555.1 431.4L557.5 430.5L559.9 429.7L562.3 428.9L564.7 428.1L567.1 427.3L569.5 426.5L571.9 425.7L574.3 425L576.7 424.2L579.1 423.4L581.5 422.5L583.9 421.7L586.3 420.9L588.8 420.2L591.2 419.6L593.6 419.2L596.1 419L598.6 418.9L601.2 418.8L603.7 418.8L606.2 418.8L608.7 418.8L611.2 419L613.8 419.1L616.3 419.3L618.8 419.6L621.3 419.8L623.8 420L626.3 420.4L628.8 421L631.2 421.6L633.7 422.2L636.2 422.8L638.7 423.2L641.1 423.4L643.6 423.3L646 423.1L648.5 422.7L650.9 422.2L653.4 421.6L655.9 420.9L658.3 420.1L660.7 419.2L663.2 418.3L665.6 417.4L667.9 416.4L670.3 415.5L672.7 414.6L675 413.7L677.3 412.8L679.6 411.9L681.8 410.8L684.1 409.8L686.3 408.7L688.6 407.5L690.8 406.3L693 405.1L695.2 403.9L697.4 402.6L699.6 401.3L701.8 400L704 398.7L706.2 397.4L708.4 396.1L710.6 394.8L712.8 393.5L715 392.2L717.3 390.9L719.5 389.6L721.7 388.3L724 387.1L726.2 385.9L728.4 384.7L730.7 383.4L732.9 382.2L735.1 380.9L737.3 379.6L739.6 378.3L741.8 377L744 375.8L746.2 374.5L748.4 373.2L750.7 371.9L752.9 370.7L755.1 369.4L757.4 368.2L759.6 367L761.9 365.8L764.1 364.6L766.4 363.5L768.7 362.4L771 361.3L773.3 360.3L775.6 359.3L778 358.3L780.3 357.3L782.7 356.2L785 355.1L787.4 354.1L789.8 353L792.1 351.9L794.5 350.9L796.9 349.9L799.4 348.9L801.8 347.9L804.2 347L806.6 346.1L809.1 345.3L811.5 344.5L814 343.8L816.5 343.2L818.9 342.7L821.4 342.3L823.9 341.9L826.4 341.7L828.9 341.6L831.5 341.4L834.1 341.3L836.7 341.2L839.2 341.2L841.7 341.2L844.2 341.3L846.8 341.6L849.3 342L851.8 342.6L854.3 343.3L856.7 344L859.2 344.9L861.6 345.8L864 346.8L866.3 347.8L868.7 348.8L871 349.9L873.3 350.9L875.6 352L877.8 353L880 354L882.2 355L884.4 356.2L886.6 357.3L888.8 358.6L890.9 359.8L893.1 361.1L895.2 362.5L897.3 363.9L899.4 365.3L901.5 366.7L903.6 368.2L905.6 369.7L907.7 371.3L909.7 372.8L911.7 374.4L913.7 376L915.7 377.6L917.6 379.2L919.6 380.8L921.5 382.5L923.4 384.1L925.3 385.7L927.1 387.4L928.9 389L930.7 390.7L932.4 392.5L934.1 394.3L935.8 396.2L937.4 398L939 400L940.6 401.9L942.2 403.9L943.8 405.9L945.4 407.8L947 409.8L948.6 411.8L950.2 413.8L951.8 415.7L953.4 417.6L955.1 419.5L956.7 421.3L958.5 423.1L960.2 424.9L962 426.6L963.9 428.2L965.9 429.8L967.8 431.3L969.8 432.9L971.8 434.4L973.8 436L975.8 437.5L977.7 439.1L979.6 440.7L981.6 442.3L983.5 443.9L985.5 445.5L987.4 447.1L989.4 448.7L991.4 450.2L993.4 451.7L995.4 453.1L997.4 454.5L999.5 455.8L1001.7 457.1L1003.9 458.3L1006.2 459.4L1008.4 460.6L1010.7 461.7L1013 462.8L1015.3 463.9L1017.6 465L1019.8 466.2L1022 467.4L1024.1 468.6L1026.2 470L1028.2 471.4L1030.1 472.9L1032 474.5L1033.8 476.2L1035.6 477.9L1037.4 479.7L1039.1 481.5L1040.9 483.4L1042.6 485.3L1044.2 487.2L1045.9 489.1L1047.6 491L1049.2 492.8L1050.8 494.7L1052.4 496.6L1054 498.5L1055.6 500.5L1057.2 502.4L1058.7 504.4L1060.3 506.4L1061.8 508.4L1063.3 510.4L1064.8 512.4L1066.3 514.4L1067.8 516.5L1069.2 518.5L1070.7 520.5L1072.1 522.6L1073.5 524.7L1074.9 526.7L1076.3 528.8L1077.7 530.9L1079 533L1080.3 535.1L1081.6 537.3L1082.8 539.5L1084.1 541.6L1085.3 543.8L1086.6 546L1087.8 548.1L1089.1 550.3L1090.4 552.5L1091.6 554.6L1092.9 556.8L1094.3 558.9L1095.6 561L1096.9 563.1L1098.3 565.2L1099.6 567.4L1100.9 569.5L1102.3 571.6L1103.6 573.8L1105 575.9L1106.3 578L1107.7 580.1L1109.1 582.2L1110.4 584.3L1111.8 586.3L1113.2 588.3L1114.7 590.4L1116.1 592.4L1117.6 594.4L1119 596.3L1120.5 598.3L1122 600.2L1123.6 602.1L1125.1 604L1126.7 605.9L1128.3 607.7L1129.9 609.5L1131.6 611.3L1133.3 613L1135.1 614.7L1136.9 616.4L1138.8 618L1140.6 619.6L1142.5 621.2L1144.4 622.8L1146.3 624.4L1148.2 626L1150.1 627.6L1152 629.2L1154 630.7L1155.9 632.3L1157.8 633.8L1159.8 635.3L1161.8 636.7L1163.8 638.1L1165.9 639.5L1168 640.8L1170.1 642.1L1172.3 643.3L1174.2 641.8L1176.1 640.3L1178 638.7L1179.9 637.2L1181.7 635.6L1183.4 633.9L1185.1 632.2L1186.8 630.5L1188.5 628.7L1190.1 627L1191.8 625.1L1193.4 623.3L1195 621.5L1196.5 619.6L1198.1 617.7L1199.6 615.8L1201.1 613.9L1202.6 612L1204.1 610.1L1205.6 608.1L1207 606.2L1208.4 604.2L1209.7 602.1L1211 600L1212.3 597.9L1213.6 595.7L1214.8 593.5L1216.1 591.3L1217.3 589.1L1218.5 586.9L1219.7 584.7L1220.9 582.5L1222.1 580.3L1223.4 578.2L1224.6 576.1L1225.9 574L1227.2 571.9L1228.6 569.9L1230 568L1231.4 566.1L1232.9 564.3L1234.4 562.6L1236 560.9L1237.7 559.3L1239.5 557.7L1241.4 556L1243.4 554.4L1245.4 552.8L1247.5 551.3L1249.7 549.9L1251.9 548.6L1254.2 547.5L1256.4 546.6L1258.7 545.9L1261.1 545.2L1263.6 544.6L1266.1 544.1L1268.6 543.8L1271.1 543.8L1273.6 544L1276.1 544.3L1278.6 544.7L1281.2 545.2L1283.6 545.7L1286.1 546.3L1288.4 546.9L1290.7 547.6L1292.9 548.5L1295.1 549.5L1297.2 550.8L1299.3 552.3L1301.4 553.8L1303.4 555.5L1305.4 557.2L1307.3 558.9L1309.2 560.7L1311 562.4L1312.8 564.1L1314.5 565.8L1316.2 567.7L1317.8 569.5L1319.5 571.5L1321.1 573.5L1322.6 575.5L1324.1 577.5L1325.5 579.6L1326.9 581.7L1328.2 583.9L1329.5 586L1330.7 588.2L1331.7 590.4L1332.8 592.7L1333.7 595L1334.7 597.3L1335.8 599.6L1336.9 601.8L1338 604.1L1339.2 606.3L1340.4 608.5L1341.6 610.7L1342.8 612.9L1344 615.1L1345.2 617.3L1346.3 619.5L1347.4 621.8L1348.4 624L1349.4 626.3L1350.4 628.6L1351.4 630.9L1352.4 633.2L1353.4 635.5L1354.3 637.8L1355.2 640.1L1356.2 642.4L1357.1 644.8L1358 647.1L1358.9 649.5L1359.8 651.8L1360.6 654.2L1361.5 656.5L1362.4 658.9L1363.2 661.2L1364 663.6L1364.9 665.9L1365.7 668.3L1366.5 670.7L1367.3 673L1368.1 675.4L1368.9 677.8L1369.7 680.1L1370.4 682.5L1371.2 684.9L1371.9 687.3L1372.6 689.7L1373.4 692.1L1374.1 694.5L1374.8 696.9L1375.5 699.3L1376.2 701.7L1376.9 704.1L1377.5 706.5L1378.2 708.9L1378.9 711.3L1379.6 713.7L1380.2 716.1L1380.9 718.5L1381.6 720.9L1382.3 723.3L1383 725.8L1383.6 728.2L1384.3 730.6L1385 733L1385.7 735.4L1386.4 737.8L1387.1 740.2L1387.8 742.6L1388.6 745L1389.3 747.4L1390 749.8L1390.7 752.1L1391.5 754.5L1392.2 756.9L1392.9 759.3L1393.6 761.7L1394.3 764.1L1395.1 766.5L1395.8 768.9L1396.5 771.3L1397.2 773.7L1398 776.1L1398.7 778.5L1399.4 780.9L1400.2 783.3L1400.9 785.7L1401.7 788.1L1402.4 790.4L1403.2 792.8L1404 795.2L1404.7 797.6L1405.5 799.9L1406.3 802.3L1407.1 804.7L1407.9 807L1408.8 809.4L1409.6 811.7L1410.4 814.1L1411.3 816.4L1412.1 818.8L1413 821.1L1413.9 823.5L1414.8 825.8L1415.7 828.1L1416.6 830.5L1417.5 832.8L1418.4 835.1L1419.3 837.4L1420.3 839.8L1421.2 842.1L1422.2 844.4L1423.1 846.7L1424.1 849L1425 851.3L1426 853.7L1426.9 856L1427.9 858.3L1428.8 860.6L1429.8 862.9L1430.8 865.2L1431.7 867.5L1432.7 869.8L1433.7 872.1L1434.6 874.4L1435.6 876.7L1436.6 879.1L1437.5 881.4L1438.5 883.7L1439.4 886L1440.4 888.3L1441.4 890.6L1442.3 892.9L1443.3 895.2L1444.3 897.5L1445.3 899.8L1446.2 902.1L1447.2 904.4L1448.2 906.7L1449.2 909L1450.2 911.3L1451.1 913.6L1452.1 915.9L1453.1 918.2L1454.1 920.5L1455.1 922.8L1456.1 925.1L1457.1 927.4L1458.1 929.7L1459.1 932L1460.1 934.2L1461.2 936.5L1462.2 938.8L1463.2 941.1L1464.2 943.4L1465.2 945.7L1466.3 947.9L1467.3 950.2L1468.4 952.5L1469.4 954.7L1470.5 957L1471.6 959.3L1472.6 961.5L1473.7 963.8L1474.8 966L1475.9 968.3L1477 970.5L1478 972.8L1479.1 975L1480.2 977.3L1481.3 979.5L1482.4 981.8L1483.5 984L1484.6 986.3L1485.7 988.5L1486.8 990.8L1487.9 993L1489 995.3L1490.1 997.5L1491.2 999.8L1492.3 1002L1493.3 1004.3L1494.4 1006.5L1495.5 1008.8L1496.6 1011.1L1497.6 1013.3L1498.7 1015.6L1499.7 1017.9L1500.8 1020.1L1501.8 1022.4L1502.8 1024.7L1503.8 1027L1504.8 1029.3L1505.8 1031.6L1506.8 1033.9L1507.8 1036.2L1508.8 1038.5L1509.7 1040.8L1510.7 1043.1L1511.7 1045.4L1512.6 1047.7L1513.6 1050L1514.5 1052.3L1515.5 1054.6L1516.4 1056.9L1517.4 1059.3L1518.3 1061.6L1519.3 1063.9L1520.2 1066.2L1521.2 1068.5L1522.2 1070.8L1523.1 1073.1L1524.1 1075.4L1525.1 1077.7L1526.1 1080L1527.1 1082.3L1528.1 1084.6L1529.1 1086.9L1530.1 1089.2L1531.1 1091.5L1532.2 1093.7L1533.2 1096L1534.2 1098.3L1535.3 1100.5L1536.3 1102.8L1537.4 1105.3L1538.5 1108.3L1539.5 1111.2L1540.6 1113.7L1541.7 1115.3L1542.8 1115.6L1544 1114.3L1545.1 1111.9L1546.3 1109L1547.5 1106.2L1548.7 1103.9L1549.9 1101.7L1551.1 1099.5L1552.3 1097.3L1553.5 1095.2L1543.4 1113.3L1544.3 1111L1545.2 1108.6L1546.1 1106.3L1547 1104L1547.9 1101.6L1548.8 1099.3L1549.6 1096.9L1550.4 1094.5L1551.2 1092.2L1552 1089.8L1552.8 1087.4L1553.5 1085L1554.3 1082.7L1555 1080.3L1555.6 1077.9L1556.3 1075.5L1557 1073.1L1557.6 1070.6L1558.3 1068.2L1558.9 1065.8L1559.5 1063.4L1560.1 1060.9L1560.7 1058.5L1561.3 1056.1L1561.9 1053.6L1562.5 1051.2L1563.1 1048.8L1563.7 1046.3L1564.3 1043.9L1564.9 1041.5L1565.4 1039L1566.1 1036.6L1566.7 1034.2L1567.3 1031.7L1567.9 1029.3L1568.5 1026.9L1569.2 1024.5L1569.8 1022.1L1570.5 1019.7L1571.2 1017.2L1571.8 1014.8L1572.5 1012.4L1573.2 1010L1573.9 1007.6L1574.6 1005.2L1575.3 1002.8L1576 1000.4L1576.7 998L1577.4 995.6L1578.1 993.2L1578.8 990.8L1579.5 988.4L1580.2 986L1580.9 983.6L1581.6 981.2L1582.3 978.8L1583 976.4L1583.7 974L1584.4 971.6L1585.1 969.1L1585.8 966.7L1586.4 964.3L1587.1 961.9L1587.8 959.5L1588.4 957.1L1589.1 954.7L1589.7 952.3L1590.3 949.8L1590.9 947.4L1591.5 945L1592.1 942.6L1592.7 940.1L1593.3 937.7L1593.9 935.3L1594.4 932.8L1595 930.4L1595.6 928L1596.1 925.5L1596.7 923.1L1597.2 920.6L1597.7 918.2L1598.3 915.7L1598.8 913.3L1599.3 910.8L1599.8 908.4L1600.4 905.9L1600.9 903.5L1601.4 901.1L1601.9 898.6L1602.5 896.2L1603 893.7L1603.5 891.3L1604 888.8L1604.6 886.4L1605.1 883.9L1605.6 881.5L1606.2 879L1606.7 876.6L1607.2 874.1L1607.8 871.7L1608.3 869.3L1608.9 866.8L1609.4 864.4L1610 861.9L1610.5 859.5L1611.1 857L1611.6 854.6L1612.1 852.2L1612.7 849.7L1613.2 847.3L1613.8 844.8L1614.3 842.4L1614.9 839.9L1615.4 837.5L1616 835.1L1616.5 832.6L1617.1 830.2L1617.6 827.7L1618.2 825.3L1618.7 822.9L1619.2 820.4L1619.8 818L1620.3 815.5L1620.9 813.1L1621.4 810.6L1621.9 808.2L1622.5 805.7L1623 803.3L1623.5 800.9L1624.1 798.4L1624.6 796L1625.1 793.5L1625.7 791.1L1626.2 788.6L1626.7 786.2L1627.2 783.7L1627.8 781.3L1628.3 778.8L1628.8 776.4L1629.3 773.9L1629.9 771.5L1630.4 769.1L1630.9 766.6L1631.4 764.2L1632 761.7L1632.5 759.3L1633 756.8L1633.6 754.4L1634.1 751.9L1634.6 749.5L1635.2 747L1635.7 744.6L1636.2 742.2L1636.8 739.7L1637.3 737.3L1637.9 734.8L1638.4 732.4L1638.9 729.9L1639.5 727.5L1640 725.1L1640.6 722.6L1641.1 720.2L1641.7 717.7L1642.2 715.3L1642.7 712.8L1643.3 710.4L1643.8 708L1644.4 705.5L1644.9 703.1L1645.5 700.6L1646.1 698.2L1646.6 695.8L1647.2 693.3L1647.7 690.9L1648.3 688.4L1648.8 686L1649.4 683.6L1649.9 681.1L1650.5 678.7L1651.1 676.2L1651.6 673.8L1652.2 671.4L1652.7 668.9L1653.3 666.5L1653.9 664L1654.4 661.6L1655 659.2L1655.5 656.7L1656.1 654.3L1656.7 651.8L1657.2 649.4L1657.8 647L1658.3 644.5L1658.9 642.1L1659.5 639.7L1660.1 637.2L1660.6 634.8L1661.2 632.3L1661.8 629.9L1662.3 627.5L1662.9 625L1663.5 622.6L1664.1 620.2L1664.7 617.7L1665.3 615.3L1665.9 612.9L1666.5 610.5L1667.1 608L1667.7 605.6L1668.3 603.2L1668.9 600.8L1669.6 598.3L1670.2 595.9L1670.9 593.5L1671.5 591.1L1672.2 588.7L1672.8 586.3L1673.5 583.8L1674.1 581.4L1674.8 579L1675.5 576.6L1676.1 574.2L1676.8 571.8L1677.5 569.4L1678.1 567L1678.8 564.5L1679.4 562.1L1680.1 559.7L1680.7 557.3L1681.4 554.9L1682 552.5L1682.7 550L1683.3 547.6L1684 545.2L1684.6 542.8L1685.2 540.4L1685.9 537.9L1686.5 535.5L1687.2 533.1L1687.8 530.7L1688.4 528.3L1689.1 525.8L1689.7 523.4L1690.3 521L1691 518.6L1691.6 516.2L1692.2 513.7L1692.9 511.3L1693.5 508.9L1694.1 506.5L1694.7 504L1695.4 501.6L1696 499.2L1696.6 496.8L1697.2 494.3L1697.8 491.9L1698.5 489.5L1699.1 487.1L1699.7 484.6L1700.3 482.2L1700.9 479.8L1701.5 477.4L1702.1 474.9L1702.7 472.5L1703.2 470.1L1703.8 467.6L1704.4 465.2L1704.9 462.8L1705.5 460.3L1706.1 457.9L1706.6 455.4L1707.2 453L1707.7 450.6L1708.3 448.1L1708.9 445.7L1709.4 443.2L1710 440.8L1710.6 438.4L1711.2 435.9L1711.8 433.5L1712.4 431.1L1713.1 428.7L1713.7 426.3L1714.3 423.8L1715 421.4L1715.6 419L1716.3 416.6L1716.9 414.2L1717.6 411.7L1718.2 409.3L1718.9 406.9L1719.6 404.5L1720.3 402.1L1721 399.7L1721.6 397.3L1722.3 394.9L1723.1 392.5L1723.8 390.1L1724.5 387.7L1725.2 385.3L1725.9 382.9L1726.7 380.5L1727.4 378.1L1728.2 375.7L1729 373.4L1729.8 371L1730.5 368.6L1731.4 366.2L1732.2 363.9L1733 361.5L1733.9 359.2L1734.7 356.8L1735.6 354.5L1736.5 352.1L1737.4 349.8L1738.3 347.5L1739.2 345.1L1740.2 342.8L1741.1 340.5L1742.1 338.2L1743.1 335.9L1744.1 333.6L1745.2 331.3L1746.2 329.1L1747.3 326.8L1748.4 324.6L1749.6 322.4L1750.7 320.1L1751.9 317.9L1753.2 315.7L1754.4 313.6L1755.7 311.5L1757.1 309.4L1758.5 307.3L1760 305.2L1761.5 303.2L1763.1 301.3L1764.7 299.4L1766.4 297.6L1768.2 295.8L1770.2 294.1L1772.2 292.6L1774.3 291.4L1776.5 290.4L1778.9 289.5L1781.4 288.7L1783.9 288.3L1786.3 288.3L1788.8 288.8L1791.2 289.6L1793.6 290.5L1795.9 291.5L1798 292.7L1800 294.2L1801.9 296L1803.7 297.8L1805.4 299.6L1807.1 301.4L1808.6 303.4L1810.2 305.4L1811.6 307.5L1813 309.6L1814.4 311.6L1815.7 313.8L1816.9 315.9L1818.2 318.1L1819.4 320.3L1820.5 322.6L1821.7 324.8L1822.8 327L1823.8 329.3L1824.9 331.6L1825.9 333.8L1827 336.1L1828 338.4L1828.9 340.7L1829.9 343L1830.8 345.4L1831.8 347.7L1832.7 350L1833.6 352.3L1834.5 354.7L1835.4 357L1836.2 359.4L1837.1 361.8L1837.9 364.1L1838.7 366.5L1839.5 368.8L1840.3 371.2L1841.1 373.6L1841.9 376L1842.6 378.4L1843.4 380.7L1844.1 383.1L1844.9 385.5L1845.6 387.9L1846.3 390.3L1847 392.7L1847.7 395.1L1848.4 397.5L1849.1 399.9L1849.8 402.3L1850.5 404.8L1851.1 407.2L1851.8 409.6L1852.5 412L1853.1 414.4L1853.8 416.8L1854.4 419.2L1855.1 421.7L1855.7 424.1L1856.4 426.5L1857 428.9L1857.6 431.4L1858.2 433.8L1858.8 436.2L1859.4 438.6L1860 441.1L1860.6 443.5L1861.2 445.9L1861.8 448.4L1862.4 450.8L1863 453.2L1863.5 455.7L1864.1 458.1L1864.7 460.5L1865.2 463L1865.8 465.4L1866.3 467.9L1866.9 470.3L1867.4 472.7L1868 475.2L1868.5 477.6L1869.1 480.1L1869.6 482.5L1870.1 485L1870.7 487.4L1871.2 489.9L1871.8 492.3L1872.3 494.7L1872.8 497.2L1873.4 499.6L1873.9 502.1L1874.4 504.5L1875 507L1875.5 509.4L1876 511.9L1876.5 514.3L1877 516.8L1877.6 519.2L1878.1 521.7L1878.6 524.1L1879.1 526.6L1879.6 529L1880.1 531.5L1880.5 534L1881 536.4L1881.5 538.9L1882 541.3L1882.4 543.8L1882.9 546.2L1883.3 548.7L1883.8 551.2L1884.2 553.6L1884.6 556.1L1885.1 558.6L1885.5 561L1885.9 563.5L1886.3 566L1886.7 568.4L1887.1 570.9L1887.5 573.4L1887.8 575.8L1888.2 578.3L1888.6 580.8L1889 583.3L1889.3 585.7L1889.7 588.2L1890.1 590.7L1890.4 593.2L1890.8 595.6L1891.1 598.1L1891.5 600.6L1891.8 603.1L1892.2 605.6L1892.5 608L1892.9 610.5L1893.2 613L1893.5 615.5L1893.9 618L1894.2 620.4L1894.6 622.9L1894.9 625.4L1895.3 627.9L1895.6 630.4L1896 632.8L1896.3 635.3L1896.7 637.8L1897 640.3L1897.4 642.8L1897.7 645.2L1898.1 647.7L1898.5 650.2L1898.8 652.7L1899.2 655.1L1899.6 657.6L1900 660.1L1900.3 662.6L1900.7 665L1901.1 667.5L1901.5 670L1901.8 672.5L1902.2 674.9L1902.6 677.4L1903 679.9L1903.3 682.4L1903.7 684.8L1904.1 687.3L1904.5 689.8L1904.8 692.3L1905.2 694.7L1905.6 697.2L1906 699.7L1906.3 702.2L1906.7 704.6L1907.1 707.1L1907.4 709.6L1907.8 712.1L1908.2 714.5L1908.5 717L1908.9 719.5L1909.3 722L1909.6 724.4L1910 726.9L1910.3 729.4L1910.7 731.9L1911.1 734.3L1911.4 736.8L1911.8 739.3L1912.1 741.8L1912.5 744.3L1912.8 746.7L1913.2 749.2L1913.5 751.7L1913.9 754.2L1914.2 756.6L1914.6 759.1L1914.9 761.6L1915.2 764.1L1915.6 766.6L1915.9 769L1916.2 771.5L1916.5 774L1916.8 776.5L1917.1 779L1917.4 781.5L1917.7 784L1918 786.4L1918.3 788.9L1918.6 791.4L1918.9 793.9L1919.2 796.4L1919.5 798.9L1919.8 801.3L1920.1 803.8L1920.4 806.3L1920.7 808.8L1921 811.3L1921.4 813.8L1921.7 816.2L1922 818.7L1922.3 821.2L1922.6 823.7L1922.9 826.2L1923.2 828.7L1923.5 831.1L1923.9 833.6L1924.2 836.1L1924.5 838.6L1924.8 841.1L1925.1 843.6L1925.4 846L1925.7 848.5L1926.1 851L1926.4 853.5L1926.7 856L1927 858.5L1927.3 860.9L1927.6 863.4L1928 865.9L1928.3 868.4L1928.6 870.9L1928.9 873.4L1929.2 875.8L1929.6 878.3L1929.9 880.8L1930.2 883.3L1930.5 885.8L1930.8 888.2L1931.2 890.7L1931.5 893.2L1931.8 895.7L1932.1 898.2L1932.4 900.7L1932.8 903.1L1933.1 905.6L1933.4 908.1L1933.7 910.6L1934.1 913.1L1934.4 915.5L1934.7 918L1935 920.5L1935.4 923L1935.7 925.5L1936 928L1936.3 930.4L1936.7 932.9L1937 935.4L1937.3 937.9L1937.6 940.4L1938 942.8L1938.3 945.3L1938.6 947.8L1939 950.3L1939.3 952.8L1939.6 955.2L1939.9 957.7L1940.3 960.2L1940.6 962.7L1940.9 965.2L1941.2 967.7L1941.6 970.1L1941.9 972.6L1942.2 975.1L1942.5 977.6L1942.9 980.1L1943.2 982.6L1943.5 985L1943.8 987.5L1944.1 990L1944.5 992.5L1944.8 995L1945.1 997.4L1945.4 999.9L1945.8 1002.4L1946.1 1004.9L1946.4 1007.4L1946.8 1009.9L1947.1 1012.3L1947.4 1014.8L1947.7 1017.3L1948.1 1019.8L1948.4 1022.3L1948.7 1024.7L1949.1 1027.2L1949.4 1029.7L1949.7 1032.2L1950.1 1034.7L1950.4 1037.1L1950.7 1039.6L1951.1 1042.1L1951.4 1044.6L1951.7 1047.1L1952.1 1049.5L1952.4 1052L1952.8 1054.5L1953.1 1057L1953.4 1059.5L1953.8 1061.9L1954.1 1064.4L1954.5 1066.9L1954.8 1069.4L1955.2 1071.9L1955.5 1074.3L1955.9 1076.8L1956.2 1079.3L1956.6 1081.8L1957 1084.2L1957.3 1086.7L1957.7 1089.2L1958.1 1091.7L1958.4 1094.1L1958.8 1096.6L1959.2 1099.1L1959.5 1101.6L1959.9 1104L1960.3 1106.5L1960.7 1109L1961 1111.5L1961.4 1113.9L1961.8 1116.4L1962.2 1118.9L1962.6 1121.3L1963 1123.8L1963.4 1126.3L1963.8 1128.8L1964.2 1131.2L1964.6 1133.7L1965.1 1136.2L1965.5 1138.6L1965.9 1141.1L1966.3 1143.6L1966.7 1146L1967.2 1148.5L1967.6 1151L1968 1153.4L1968.4 1155.9L1968.9 1158.4L1969.3 1160.8L1969.7 1163.3L1970.1 1165.8L1970.6 1168.2L1971 1170.7L1971.4 1173.2L1971.8 1175.6L1972.2 1178.1L1972.7 1180.6L1973.1 1183L1973.5 1185.5L1973.9 1188L1974.3 1190.5L1974.7 1192.9L1975.1 1195.4L1975.5 1197.9L1975.9 1200.3L1976.4 1202.8L1976.8 1205.3L1977.2 1207.7L1977.7 1210.2L1978.1 1212.7L1978.6 1215.1L1979 1217.6L1979.5 1220L1980 1222.5L1980.6 1224.9L1981.1 1227.4L1981.6 1229.8L1982.2 1232.2L1982.8 1234.7L1983.4 1237.1L1984 1239.5L1984.6 1241.9L1985.2 1244.4L1985.9 1246.8L1986.5 1249.2L1987.2 1251.6L1987.9 1254L1988.6 1256.4L1989.3 1258.9L1990 1261.3L1990.7 1263.7L1991.4 1266.1L1992 1263.6L1992.6 1261.2L1993.1 1258.8L1993.7 1256.3L1994.3 1253.9L1994.9 1251.4L1995.4 1249L1996 1246.6L1996.6 1244.1L1997.1 1241.7L1997.7 1239.2L1998.3 1236.8L1998.9 1234.3L1999.4 1231.9L2000 1229.5L2000.5 1227L2001.1 1224.6L2001.7 1222.1L2002.2 1219.7L2002.8 1217.2L2003.3 1214.8L2003.9 1212.4L2004.4 1209.9L2005 1207.5L2005.5 1205L2006.1 1202.6L2006.6 1200.1L2007.2 1197.7L2007.7 1195.2L2008.3 1192.8L2008.8 1190.3L2009.4 1187.9L2009.9 1185.4L2010.5 1183L2011 1180.6L2011.6 1178.1L2012.1 1175.7L2012.6 1173.2L2013.2 1170.8L2013.7 1168.3L2014.2 1165.9L2014.7 1163.4L2015.3 1161L2015.8 1158.5L2016.3 1156L2016.8 1153.6L2017.3 1151.1L2017.8 1148.7L2018.3 1146.2L2018.8 1143.8L2019.3 1141.3L2019.9 1138.9L2020.4 1136.4L2020.9 1134L2021.4 1131.5L2021.9 1129L2022.5 1126.6L2023 1124.1L2023.5 1121.7L2024.1 1119.3L2024.6 1116.8L2025.2 1114.4L2025.8 1111.9L2026.3 1109.5L2026.9 1107L2027.5 1104.6L2028.1 1102.2L2028.7 1099.8L2029.4 1097.3L2030 1094.9L2030.7 1092.5L2031.3 1090.1L2032 1087.7L2032.7 1085.2L2033.3 1082.8L2034 1080.4L2034.6 1078L2035.2 1075.5L2035.8 1073.1L2036.4 1070.7L2037 1068.2L2037.5 1065.8L2038.1 1063.3L2038.6 1060.9L2039.2 1058.4L2039.7 1056L2040.2 1053.5L2040.7 1051.1L2041.2 1048.6L2041.7 1046.1L2042.2 1043.7L2042.7 1041.2L2043.2 1038.8L2043.7 1036.3L2044.3 1033.8L2044.8 1031.4L2045.3 1028.9L2045.8 1026.5L2046.3 1024L2046.9 1021.6L2047.4 1019.1L2047.9 1016.7L2048.5 1014.2L2049.1 1011.8L2049.7 1009.4L2050.3 1006.9L2050.9 1004.5L2051.5 1002.1L2052.2 999.7L2052.8 997.3L2053.5 994.9L2054.2 992.5L2055 990.1L2055.7 987.7L2056.4 985.3L2057.2 982.9L2058 980.5L2058.8 978.1L2059.7 975.7L2060.5 973.4L2061.4 971L2062.3 968.7L2063.2 966.3L2064.2 964L2065.1 961.7L2066.1 959.4L2067.1 957.1L2068.2 954.8L2069.3 952.5L2070.4 950.1L2071.6 947.9L2072.9 945.7L2074.2 943.6L2075.6 941.7L2077.2 939.9L2078.9 938.1L2080.9 936.4L2082.9 934.8L2085.1 933.4L2087.3 932.2L2089.5 931.3L2091.9 930.4L2094.3 929.5L2096.8 928.9L2099.3 928.5L2101.7 928.5L2104.2 928.8L2106.6 929.5L2109.1 930.3L2111.5 931.2L2113.7 932.1L2116 933.2L2118.3 934.4L2120.4 935.7L2122.6 937.1L2124.6 938.7L2126.5 940.2L2128.3 941.8L2130.1 943.5L2131.8 945.4L2133.5 947.3L2135.1 949.3L2136.6 951.3L2138.1 953.4L2139.5 955.5L2140.9 957.6L2142.2 959.7L2143.4 961.9L2144.6 964L2145.8 966.2L2147 968.4L2148.1 970.7L2149.1 972.9L2150.2 975.2L2151.2 977.5L2152.2 979.9L2153.2 982.2L2154.1 984.5L2155.1 986.9L2156 989.3L2156.9 991.6L2157.8 994L2158.7 996.3L2159.6 998.6L2160.5 1001L2161.3 1003.3L2162.2 1005.7L2163 1008.1L2163.8 1010.4L2164.6 1012.8L2165.4 1015.2L2166.2 1017.6L2166.9 1020L2167.7 1022.4L2168.4 1024.8L2169.1 1027.2L2169.9 1029.6L2170.6 1032L2171.3 1034.4L2171.9 1036.8L2172.6 1039.2L2173.3 1041.7L2173.9 1044.1L2174.5 1046.5L2175.1 1048.9L2175.7 1051.4L2176.3 1053.8L2176.9 1056.2L2177.5 1058.7L2178.1 1061.1L2178.7 1063.6L2179.2 1066L2179.8 1068.4L2180.4 1070.9L2181 1073.3L2181.6 1075.8L2182.2 1078.2L2182.8 1080.6L2183.4 1083.1L2184 1085.5L2184.6 1087.9L2185.2 1090.4L2185.8 1092.8L2186.4 1095.2L2187 1097.7L2187.6 1100.1L2188.2 1102.5L2188.8 1105L2189.3 1107.4L2189.9 1109.9L2190.5 1112.3L2191.1 1114.7L2191.7 1117.2L2192.3 1114.7L2193 1112.3L2193.6 1109.8L2194.2 1107.4L2194.9 1105L2195.5 1102.5L2196.2 1100.1L2196.8 1097.7L2197.5 1095.2L2198.1 1092.8L2198.7 1090.3L2199.4 1087.9L2200 1085.5L2200.7 1083L2201.3 1080.6L2202 1078.2L2202.7 1075.7L2203.3 1073.3L2204 1070.9L2204.6 1068.4L2205.3 1066L2206 1063.6L2206.6 1061.1L2207.3 1058.7L2208 1056.3L2208.7 1053.9L2209.3 1051.4L2210 1049L2210.7 1046.6L2211.4 1044.1L2212.1 1041.7L2212.7 1039.3L2213.4 1036.9L2214.1 1034.4L2214.8 1032L2215.5 1029.6L2216.1 1027.1L2216.8 1024.7L2217.5 1022.3L2218.2 1019.9L2218.8 1017.4L2219.5 1015L2220.2 1012.6L2220.8 1010.1L2221.5 1007.7L2222.1 1005.3L2222.8 1002.8L2223.4 1000.4L2224.1 998L2224.7 995.5L2225.3 993.1L2226 990.6L2226.6 988.2L2227.2 985.7L2227.8 983.3L2228.4 980.8L2229 978.4L2229.6 976L2230.2 973.5L2230.8 971.1L2231.4 968.6L2232 966.1L2232.6 963.7L2233.2 961.2L2233.8 958.8L2234.4 956.3L2235 953.9L2235.6 951.4L2236.2 949L2236.8 946.5L2237.4 944.1L2238 941.6L2238.6 939.2L2239.2 936.8L2239.8 934.3L2240.4 931.9L2241.1 929.4L2241.7 927L2242.3 924.6L2243 922.1L2243.6 919.7L2244.3 917.3L2245 914.8L2245.6 912.4L2246.3 910L2247 907.5L2247.7 905.1L2248.4 902.7L2249.1 900.3L2249.8 897.8L2250.5 895.4L2251.2 893L2251.9 890.6L2252.6 888.2L2253.3 885.7L2254.1 883.3L2254.8 880.9L2255.5 878.5"/>
<path stroke="#0000FF" stroke-width="8.9" d="M221.3 661.5L223.7 660.7L226 659.8L228.4 659L230.7 658.1L233.1 657.3L235.4 656.4L237.8 655.6L240.1 654.7L242.5 653.9L244.8 653L247.2 652.1L249.5 651.3L251.9 650.4L254.2 649.5L256.5 648.7L258.9 647.8L261.2 646.9L263.6 646L265.9 645.2L268.3 644.3L270.6 643.4L272.9 642.5L275.3 641.6L277.6 640.7L280 639.9L282.3 639L284.6 638.1L287 637.2L289.3 636.3L291.6 635.4L294 634.5L296.3 633.6L298.6 632.7L300.9 631.7L303.3 630.8L305.6 629.9L307.9 629L310.2 628L312.6 627.1L314.9 626.2L317.2 625.3L319.5 624.3L321.8 623.4L324.2 622.5L326.5 621.5L328.8 620.6L331.1 619.6L333.4 618.7L335.7 617.8L338.1 616.8L340.4 615.9L342.7 614.9L345 614L347.3 613.1L349.7 612.1L352 611.2L354.3 610.3L356.6 609.3L358.9 608.4L361.3 607.5L363.6 606.5L365.9 605.6L368.2 604.6L370.5 603.7L372.8 602.7L375.2 601.8L377.5 600.9L379.8 599.9L382.1 599L384.4 598L386.7 597.1L389.1 596.2L391.4 595.3L393.7 594.4L396.1 593.5L398.4 592.6L400.7 591.7L403.1 590.9L405.5 590.1L407.8 589.3L410.2 588.4L412.6 587.6L414.9 586.8L417.3 586L419.6 585.1L422 584.2L424.3 583.3L426.6 582.3L428.9 581.4L431.2 580.4L433.5 579.4L435.7 578.4L438 577.3L440.3 576.3L442.5 575.2L444.8 574.2L447.1 573.1L449.3 572L451.6 570.9L453.8 569.8L456.1 568.7L458.3 567.6L460.6 566.5L462.8 565.4L465.1 564.3L467.3 563.1L469.6 562L471.8 560.9L474 559.8L476.3 558.7L478.6 557.6L480.8 556.5L483.1 555.5L485.3 554.4L487.6 553.4L489.9 552.3L492.2 551.3L494.4 550.3L496.7 549.3L499 548.3L501.3 547.3L503.6 546.4L506 545.4L508.3 544.5L510.6 543.6L512.9 542.6L515.2 541.7L517.6 540.8L519.9 539.9L522.2 539L524.5 538.1L526.9 537.2L529.2 536.3L531.6 535.4L533.9 534.5L536.2 533.7L538.6 532.8L540.9 531.9L543.3 531L545.6 530.2L548 529.3L550.3 528.5L552.7 527.6L555 526.8L557.4 525.9L559.7 525L562.1 524.2L564.4 523.4L566.8 522.5L569.2 521.7L571.5 520.8L573.9 519.9L576.2 518.9L578.5 517.8L580.9 516.7L583.2 515.7L585.6 514.6L587.9 513.7L590.3 512.8L592.7 512.1L595 511.5L597.5 511.1L599.9 511L602.3 511L604.8 511L607.3 511L609.8 511L612.3 511L614.8 511L617.4 511L619.9 511L622.4 511L624.9 511.1L627.4 511.3L630 511.5L632.5 511.6L635 511.8L637.4 511.9L639.9 512L642.2 511.9L644.6 511.5L647 510.9L649.3 510.1L651.6 509.1L653.9 508L656.2 506.8L658.4 505.5L660.7 504.1L662.9 502.8L665.1 501.4L667.3 500.1L669.6 498.8L671.7 497.6L673.9 496.4L676.1 495.2L678.2 493.9L680.4 492.7L682.5 491.4L684.6 490L686.7 488.7L688.8 487.3L690.9 486L693 484.6L695.1 483.2L697.1 481.7L699.2 480.3L701.3 478.9L703.3 477.4L705.4 476L707.4 474.6L709.5 473.1L711.6 471.7L713.6 470.3L715.7 468.9L717.8 467.5L719.8 466.1L721.9 464.7L724 463.3L726.1 461.9L728.1 460.4L730.2 459L732.2 457.5L734.3 456L736.3 454.5L738.4 453L740.4 451.6L742.5 450.1L744.5 448.6L746.5 447.1L748.6 445.7L750.7 444.3L752.7 442.8L754.8 441.5L756.9 440.1L759 438.8L761.1 437.5L763.2 436.2L765.4 435L767.6 433.8L769.7 432.6L771.9 431.5L774.2 430.4L776.4 429.3L778.6 428.2L780.9 427.2L783.2 426.1L785.5 425L787.8 423.9L790.1 422.9L792.4 421.9L794.7 420.9L797.1 419.9L799.4 419L801.8 418.1L804.2 417.2L806.6 416.4L808.9 415.6L811.3 414.9L813.7 414.3L816.2 413.7L818.6 413.2L821 412.7L823.4 412.3L825.9 411.8L828.4 411.4L830.9 411.1L833.4 410.9L835.9 410.7L838.3 410.7L840.8 410.9L843.2 411.2L845.7 411.7L848.1 412.2L850.6 412.9L853 413.7L855.4 414.5L857.8 415.4L860.2 416.4L862.6 417.3L864.9 418.3L867.3 419.3L869.5 420.2L871.8 421.1L874.1 422.1L876.3 423.1L878.5 424.2L880.7 425.3L882.9 426.4L885.1 427.6L887.3 428.9L889.5 430.2L891.7 431.5L893.8 432.8L895.9 434.2L898 435.6L900.1 437.1L902.2 438.5L904.3 440L906.4 441.5L908.4 443L910.4 444.6L912.4 446.1L914.4 447.7L916.3 449.2L918.3 450.8L920.2 452.3L922.1 453.9L923.9 455.6L925.7 457.3L927.4 459.1L929.2 461L930.9 462.8L932.6 464.7L934.3 466.5L936.1 468.2L937.9 469.9L939.8 471.6L941.7 473.2L943.6 474.8L945.6 476.3L947.5 477.9L949.5 479.4L951.5 480.9L953.5 482.4L955.5 483.9L957.5 485.4L959.5 486.9L961.6 488.4L963.6 489.9L965.6 491.4L967.6 492.9L969.6 494.4L971.6 495.9L973.6 497.3L975.7 498.8L977.7 500.3L979.7 501.7L981.8 503.2L983.8 504.6L985.8 506.1L987.8 507.6L989.8 509.1L991.8 510.6L993.8 512.1L995.8 513.6L997.8 515.2L999.7 516.7L1001.7 518.2L1003.7 519.8L1005.7 521.3L1007.6 522.9L1009.6 524.4L1011.5 526L1013.5 527.6L1015.4 529.1L1017.4 530.7L1019.3 532.3L1021.2 533.9L1023.2 535.5L1025.1 537.1L1027 538.7L1028.9 540.3L1030.8 541.9L1032.7 543.6L1034.6 545.2L1036.4 546.9L1038.3 548.5L1040.2 550.2L1042 551.9L1043.8 553.6L1045.7 555.3L1047.5 557L1049.3 558.7L1051.1 560.5L1052.9 562.2L1054.7 564L1056.5 565.8L1058.2 567.6L1059.9 569.4L1061.5 571.3L1063.2 573.1L1064.8 575L1066.4 577L1067.9 578.9L1069.5 580.8L1071 582.8L1072.6 584.8L1074.1 586.8L1075.6 588.8L1077.1 590.8L1078.7 592.8L1080.2 594.8L1081.7 596.8L1083.2 598.8L1084.7 600.8L1086.2 602.8L1087.7 604.8L1089.2 606.8L1090.7 608.7L1092.2 610.8L1093.7 612.8L1095.2 614.8L1096.7 616.8L1098.1 618.9L1099.6 620.9L1101 623L1102.5 625L1104 627L1105.4 629.1L1106.9 631.1L1108.4 633.1L1109.8 635.2L1111.3 637.2L1112.8 639.2L1114.4 641.1L1115.9 643.1L1117.4 645.1L1119 647L1120.6 648.9L1122.2 650.8L1123.8 652.7L1125.5 654.6L1127.2 656.4L1128.9 658.2L1130.6 660.1L1132.3 661.9L1134.1 663.6L1135.9 665.4L1137.7 667.1L1139.5 668.8L1141.3 670.5L1143.2 672.2L1145.1 673.9L1146.9 675.5L1148.8 677.1L1150.8 678.8L1152.7 680.3L1154.6 681.9L1156.6 683.5L1158.6 685L1160.6 686.5L1162.9 685.3L1165.2 684.1L1167.4 682.8L1169.6 681.4L1171.6 680L1173.6 678.5L1175.5 676.9L1177.3 675.3L1178.9 673.6L1180.5 671.8L1181.9 669.9L1183.4 667.9L1184.7 665.8L1186 663.7L1187.3 661.5L1188.6 659.3L1189.8 657L1191.1 654.8L1192.4 652.5L1193.6 650.3L1195 648.1L1196.3 646L1197.7 643.9L1199.1 641.9L1200.5 639.8L1201.9 637.7L1203.3 635.6L1204.7 633.5L1206.1 631.4L1207.5 629.3L1208.9 627.2L1210.4 625.1L1211.8 623.1L1213.2 621L1214.7 619L1216.2 617L1217.7 615L1219.2 613L1220.8 611.1L1222.4 609.2L1224 607.3L1225.7 605.5L1227.3 603.7L1229.1 601.9L1230.8 600.1L1232.7 598.3L1234.5 596.6L1236.4 594.9L1238.4 593.3L1240.4 591.8L1242.4 590.4L1244.4 589.1L1246.6 587.9L1248.8 586.8L1251.1 585.7L1253.4 584.7L1255.7 583.7L1258 582.7L1260.3 581.6L1262.6 580.4L1265 579.7L1267.4 579.8L1269.8 580.1L1272.4 580.6L1274.9 581.1L1277.4 581.8L1279.8 582.5L1282.1 583.3L1284.4 584.1L1286.6 585.1L1288.8 586.2L1290.9 587.6L1293 589L1295.1 590.6L1297.1 592.2L1299.1 593.9L1301 595.6L1302.8 597.4L1304.6 599.1L1306.3 600.8L1307.9 602.6L1309.5 604.5L1311.1 606.5L1312.6 608.5L1314.1 610.5L1315.5 612.6L1316.9 614.7L1318.3 616.9L1319.7 619L1321 621.2L1322.3 623.3L1323.6 625.4L1324.8 627.6L1326 629.7L1327.2 631.9L1328.4 634.1L1329.6 636.3L1330.8 638.6L1331.9 640.8L1333 643L1334.1 645.3L1335.2 647.6L1336.3 649.8L1337.3 652.1L1338.4 654.4L1339.4 656.7L1340.4 659L1341.4 661.3L1342.4 663.6L1343.3 665.9L1344.3 668.2L1345.2 670.5L1346.1 672.9L1347 675.2L1347.9 677.5L1348.8 679.8L1349.7 682.2L1350.5 684.5L1351.3 686.9L1352.2 689.2L1353 691.6L1353.8 694L1354.6 696.3L1355.4 698.7L1356.1 701.1L1356.9 703.5L1357.7 705.9L1358.5 708.3L1359.2 710.6L1360 713L1360.7 715.4L1361.5 717.8L1362.2 720.2L1363 722.6L1363.8 725L1364.5 727.4L1365.3 729.8L1366.1 732.1L1366.8 734.5L1367.6 736.9L1368.4 739.3L1369.2 741.6L1370 744L1370.8 746.4L1371.5 748.8L1372.3 751.2L1373.1 753.5L1373.8 755.9L1374.6 758.3L1375.3 760.7L1376.1 763.1L1376.9 765.5L1377.6 767.9L1378.4 770.2L1379.1 772.6L1379.9 775L1380.7 777.4L1381.4 779.8L1382.2 782.1L1383 784.5L1383.8 786.9L1384.6 789.3L1385.3 791.6L1386.2 794L1387 796.4L1387.8 798.7L1388.6 801.1L1389.4 803.4L1390.3 805.8L1391.1 808.1L1392 810.5L1392.9 812.8L1393.7 815.2L1394.6 817.5L1395.5 819.9L1396.4 822.2L1397.3 824.5L1398.2 826.9L1399.1 829.2L1400 831.5L1400.9 833.8L1401.9 836.2L1402.8 838.5L1403.7 840.8L1404.7 843.1L1405.6 845.5L1406.6 847.8L1407.5 850.1L1408.5 852.4L1409.4 854.7L1410.4 857L1411.3 859.3L1412.3 861.6L1413.3 863.9L1414.3 866.2L1415.2 868.5L1416.2 870.8L1417.2 873.1L1418.2 875.4L1419.2 877.7L1420.2 880L1421.2 882.3L1422.2 884.6L1423.2 886.9L1424.2 889.2L1425.3 891.4L1426.3 893.7L1427.3 896L1428.4 898.3L1429.4 900.5L1430.5 902.8L1431.5 905.1L1432.6 907.3L1433.7 909.6L1434.7 911.9L1435.8 914.1L1436.9 916.4L1437.9 918.7L1439 920.9L1440.1 923.2L1441.1 925.4L1442.2 927.7L1443.3 930L1444.4 932.2L1445.4 934.5L1446.5 936.8L1447.5 939L1448.6 941.3L1449.7 943.6L1450.7 945.8L1451.8 948.1L1452.9 950.3L1453.9 952.6L1455 954.9L1456.1 957.1L1457.2 959.4L1458.2 961.6L1459.3 963.9L1460.4 966.1L1461.5 968.4L1462.6 970.6L1463.7 972.9L1464.7 975.2L1465.8 977.4L1466.9 979.7L1468 981.9L1469.1 984.2L1470.2 986.4L1471.2 988.7L1472.3 990.9L1473.4 993.2L1474.5 995.5L1475.5 997.7L1476.6 1000L1477.7 1002.2L1478.8 1004.5L1479.8 1006.8L1480.9 1009L1481.9 1011.3L1483 1013.6L1484.1 1015.8L1485.1 1018.1L1486.2 1020.4L1487.2 1022.6L1488.2 1024.9L1489.3 1027.2L1490.3 1029.5L1491.3 1031.7L1492.3 1034L1493.4 1036.3L1494.4 1038.6L1495.4 1040.9L1496.4 1043.2L1497.4 1045.5L1498.4 1047.8L1499.4 1050L1500.4 1052.3L1501.4 1054.6L1502.5 1056.9L1503.5 1059.2L1504.5 1061.5L1505.5 1063.8L1506.5 1066L1507.6 1068.3L1508.6 1070.6L1509.7 1072.9L1510.7 1075.1L1511.8 1077.4L1512.8 1079.7L1513.9 1082L1515 1084.5L1516.1 1087.2L1517.2 1090L1518.4 1092.9L1519.5 1095.9L1520.7 1098.9L1521.8 1101.8L1523 1104.8L1524.1 1107.6L1525.3 1110.3L1526.4 1112.9L1527.5 1115.3L1528.7 1117.5L1529.8 1119.4L1530.9 1121L1532 1122.3L1533.1 1123.3L1534.1 1123.9L1535.2 1124L1536.2 1123.1L1537.2 1121.1L1538.2 1118.4L1539.1 1115.3L1540.1 1112.4L1541.1 1109.8L1542.1 1107.5L1543.1 1105.2L1544 1102.9L1545 1100.6L1546 1098.3L1547 1096L1535.9 1121.6L1536.7 1119.3L1537.6 1116.9L1538.4 1114.6L1539.2 1112.2L1540.1 1109.8L1540.9 1107.5L1541.7 1105.1L1542.5 1102.7L1543.3 1100.4L1544 1098L1544.8 1095.6L1545.6 1093.2L1546.3 1090.8L1547 1088.4L1547.8 1086L1548.5 1083.6L1549.1 1081.2L1549.8 1078.8L1550.5 1076.4L1551.1 1074L1551.8 1071.6L1552.4 1069.2L1553 1066.8L1553.6 1064.3L1554.2 1061.9L1554.7 1059.5L1555.3 1057L1555.9 1054.6L1556.4 1052.1L1557 1049.7L1557.6 1047.3L1558.1 1044.8L1558.7 1042.4L1559.2 1039.9L1559.8 1037.5L1560.3 1035.1L1560.9 1032.6L1561.5 1030.2L1562.1 1027.7L1562.7 1025.3L1563.3 1022.9L1563.9 1020.5L1564.5 1018L1565.1 1015.6L1565.8 1013.2L1566.4 1010.8L1567.1 1008.4L1567.7 1006L1568.4 1003.5L1569.1 1001.1L1569.8 998.7L1570.4 996.3L1571.1 993.9L1571.8 991.5L1572.5 989.1L1573.2 986.7L1573.9 984.3L1574.5 981.9L1575.2 979.5L1575.9 977.1L1576.6 974.7L1577.3 972.2L1578 969.8L1578.7 967.4L1579.3 965L1580 962.6L1580.7 960.2L1581.3 957.8L1582 955.4L1582.6 953L1583.3 950.5L1583.9 948.1L1584.6 945.7L1585.2 943.3L1585.8 940.9L1586.4 938.4L1587 936L1587.6 933.6L1588.2 931.1L1588.8 928.7L1589.3 926.3L1589.9 923.9L1590.5 921.4L1591.1 919L1591.6 916.5L1592.2 914.1L1592.8 911.7L1593.3 909.2L1593.9 906.8L1594.4 904.4L1595 901.9L1595.5 899.5L1596.1 897L1596.6 894.6L1597.1 892.2L1597.7 889.7L1598.2 887.3L1598.8 884.8L1599.3 882.4L1599.8 879.9L1600.4 877.5L1600.9 875L1601.4 872.6L1601.9 870.1L1602.5 867.7L1603 865.3L1603.5 862.8L1604 860.4L1604.6 857.9L1605.1 855.5L1605.6 853L1606.1 850.6L1606.7 848.1L1607.2 845.7L1607.7 843.2L1608.2 840.8L1608.8 838.3L1609.3 835.9L1609.8 833.4L1610.3 831L1610.9 828.5L1611.4 826.1L1611.9 823.7L1612.4 821.2L1613 818.8L1613.5 816.3L1614 813.9L1614.6 811.4L1615.1 809L1615.7 806.5L1616.2 804.1L1616.7 801.7L1617.3 799.2L1617.8 796.8L1618.4 794.3L1618.9 791.9L1619.5 789.4L1620 787L1620.5 784.6L1621.1 782.1L1621.6 779.7L1622.2 777.2L1622.7 774.8L1623.2 772.3L1623.8 769.9L1624.3 767.5L1624.9 765L1625.4 762.6L1625.9 760.1L1626.5 757.7L1627 755.2L1627.6 752.8L1628.1 750.4L1628.6 747.9L1629.2 745.5L1629.7 743L1630.3 740.6L1630.8 738.1L1631.3 735.7L1631.9 733.3L1632.4 730.8L1633 728.4L1633.5 725.9L1634 723.5L1634.6 721L1635.1 718.6L1635.7 716.2L1636.2 713.7L1636.8 711.3L1637.3 708.8L1637.8 706.4L1638.4 704L1638.9 701.5L1639.5 699.1L1640 696.6L1640.6 694.2L1641.1 691.7L1641.7 689.3L1642.2 686.9L1642.8 684.4L1643.3 682L1643.9 679.5L1644.4 677.1L1645 674.7L1645.5 672.2L1646.1 669.8L1646.6 667.3L1647.1 664.9L1647.7 662.5L1648.2 660L1648.8 657.6L1649.3 655.1L1649.9 652.7L1650.4 650.2L1650.9 647.8L1651.5 645.3L1652 642.9L1652.6 640.5L1653.1 638L1653.6 635.6L1654.2 633.1L1654.7 630.7L1655.3 628.2L1655.8 625.8L1656.4 623.4L1657 620.9L1657.5 618.5L1658.1 616.1L1658.7 613.6L1659.3 611.2L1659.8 608.8L1660.4 606.3L1661 603.9L1661.6 601.5L1662.2 599.1L1662.9 596.6L1663.5 594.2L1664.1 591.8L1664.8 589.4L1665.4 587L1666.1 584.6L1666.8 582.1L1667.4 579.7L1668.1 577.3L1668.8 574.9L1669.5 572.5L1670.2 570.1L1670.9 567.7L1671.5 565.3L1672.2 562.9L1672.9 560.5L1673.6 558.1L1674.2 555.6L1674.9 553.2L1675.6 550.8L1676.2 548.4L1676.9 546L1677.5 543.6L1678.2 541.2L1678.8 538.8L1679.5 536.3L1680.2 533.9L1680.8 531.5L1681.5 529.1L1682.1 526.7L1682.8 524.3L1683.4 521.8L1684.1 519.4L1684.7 517L1685.3 514.6L1686 512.2L1686.6 509.8L1687.3 507.3L1687.9 504.9L1688.6 502.5L1689.2 500.1L1689.8 497.7L1690.5 495.2L1691.1 492.8L1691.7 490.4L1692.4 488L1693 485.6L1693.6 483.1L1694.3 480.7L1694.9 478.3L1695.5 475.9L1696.1 473.4L1696.7 471L1697.4 468.6L1698 466.2L1698.6 463.7L1699.2 461.3L1699.7 458.9L1700.3 456.4L1700.9 454L1701.5 451.6L1702.1 449.1L1702.7 446.7L1703.2 444.3L1703.8 441.8L1704.4 439.4L1705 437L1705.6 434.6L1706.2 432.1L1706.9 429.7L1707.5 427.3L1708.1 424.9L1708.8 422.5L1709.4 420L1710.1 417.6L1710.7 415.2L1711.4 412.8L1712.1 410.4L1712.7 408L1713.4 405.6L1714.1 403.2L1714.8 400.8L1715.5 398.4L1716.2 396L1716.9 393.6L1717.7 391.2L1718.4 388.8L1719.2 386.4L1719.9 384L1720.7 381.6L1721.5 379.3L1722.3 376.9L1723.1 374.5L1723.9 372.1L1724.7 369.8L1725.5 367.4L1726.4 365.1L1727.2 362.7L1728.1 360.4L1729 358L1729.9 355.7L1730.8 353.3L1731.7 351L1732.6 348.7L1733.6 346.4L1734.5 344.1L1735.5 341.8L1736.5 339.5L1737.6 337.2L1738.6 334.9L1739.7 332.7L1740.8 330.4L1742 328.2L1743.1 326L1744.3 323.8L1745.6 321.6L1746.8 319.5L1748.1 317.3L1749.5 315.2L1750.9 313.1L1752.3 311L1753.8 309L1755.4 307.1L1757 305.2L1758.7 303.3L1760.5 301.4L1762.3 299.7L1764.3 298.2L1766.4 297L1768.6 295.9L1771 294.9L1773.5 294L1775.9 293.5L1778.3 293.3L1780.8 293.6L1783.2 294.3L1785.7 295.2L1788 296.2L1790.2 297.4L1792.3 298.6L1794.2 300.2L1796.1 302L1797.8 303.9L1799.5 305.8L1801.1 307.6L1802.6 309.6L1804.1 311.6L1805.5 313.7L1806.9 315.8L1808.3 317.9L1809.5 320.1L1810.8 322.2L1812 324.4L1813.2 326.6L1814.4 328.8L1815.5 331.1L1816.6 333.3L1817.7 335.6L1818.7 337.9L1819.8 340.1L1820.8 342.4L1821.8 344.7L1822.7 347L1823.7 349.3L1824.6 351.7L1825.5 354L1826.4 356.3L1827.3 358.7L1828.2 361L1829 363.4L1829.9 365.7L1830.7 368.1L1831.5 370.5L1832.4 372.8L1833.2 375.2L1834 377.6L1834.7 379.9L1835.5 382.3L1836.3 384.7L1837.1 387.1L1837.8 389.5L1838.5 391.9L1839.3 394.3L1840 396.6L1840.7 399L1841.4 401.4L1842.1 403.8L1842.8 406.3L1843.5 408.7L1844.1 411.1L1844.8 413.5L1845.5 415.9L1846.1 418.3L1846.8 420.7L1847.4 423.2L1848 425.6L1848.7 428L1849.3 430.4L1849.9 432.8L1850.6 435.3L1851.2 437.7L1851.8 440.1L1852.4 442.5L1853 445L1853.6 447.4L1854.2 449.8L1854.8 452.2L1855.4 454.7L1856 457.1L1856.6 459.5L1857.2 462L1857.7 464.4L1858.3 466.9L1858.8 469.3L1859.4 471.7L1859.9 474.2L1860.5 476.6L1861 479.1L1861.6 481.5L1862.1 483.9L1862.7 486.4L1863.2 488.8L1863.7 491.3L1864.3 493.7L1864.8 496.2L1865.3 498.6L1865.9 501.1L1866.4 503.5L1866.9 505.9L1867.4 508.4L1867.9 510.8L1868.4 513.3L1868.9 515.8L1869.4 518.2L1869.9 520.7L1870.4 523.1L1870.9 525.6L1871.4 528L1871.9 530.5L1872.4 532.9L1872.8 535.4L1873.3 537.8L1873.7 540.3L1874.2 542.8L1874.6 545.2L1875.1 547.7L1875.5 550.1L1876 552.6L1876.4 555.1L1876.8 557.5L1877.2 560L1877.6 562.5L1878 564.9L1878.4 567.4L1878.8 569.9L1879.2 572.3L1879.6 574.8L1880 577.3L1880.4 579.8L1880.8 582.2L1881.2 584.7L1881.5 587.2L1881.9 589.6L1882.3 592.1L1882.7 594.6L1883 597.1L1883.4 599.5L1883.8 602L1884.1 604.5L1884.5 607L1884.8 609.5L1885.2 611.9L1885.6 614.4L1885.9 616.9L1886.3 619.4L1886.6 621.8L1887 624.3L1887.3 626.8L1887.7 629.3L1888.1 631.7L1888.4 634.2L1888.8 636.7L1889.1 639.2L1889.5 641.7L1889.9 644.1L1890.2 646.6L1890.6 649.1L1891 651.6L1891.3 654L1891.7 656.5L1892.1 659L1892.4 661.5L1892.8 663.9L1893.1 666.4L1893.5 668.9L1893.9 671.4L1894.2 673.8L1894.6 676.3L1894.9 678.8L1895.3 681.3L1895.6 683.7L1896 686.2L1896.4 688.7L1896.7 691.2L1897.1 693.6L1897.4 696.1L1897.8 698.6L1898.1 701.1L1898.5 703.5L1898.8 706L1899.2 708.5L1899.6 711L1899.9 713.5L1900.3 715.9L1900.6 718.4L1901 720.9L1901.3 723.4L1901.7 725.8L1902 728.3L1902.4 730.8L1902.7 733.3L1903.1 735.8L1903.4 738.2L1903.8 740.7L1904.1 743.2L1904.4 745.7L1904.8 748.1L1905.1 750.6L1905.5 753.1L1905.8 755.6L1906.2 758L1906.5 760.5L1906.9 763L1907.2 765.5L1907.6 768L1907.9 770.4L1908.3 772.9L1908.6 775.4L1908.9 777.9L1909.3 780.4L1909.6 782.8L1910 785.3L1910.3 787.8L1910.7 790.3L1911 792.7L1911.3 795.2L1911.7 797.7L1912 800.2L1912.4 802.7L1912.7 805.1L1913 807.6L1913.4 810.1L1913.7 812.6L1914.1 815.1L1914.4 817.5L1914.7 820L1915.1 822.5L1915.4 825L1915.7 827.4L1916.1 829.9L1916.4 832.4L1916.7 834.9L1917 837.4L1917.4 839.9L1917.7 842.3L1918 844.8L1918.3 847.3L1918.7 849.8L1919 852.3L1919.3 854.7L1919.6 857.2L1920 859.7L1920.3 862.2L1920.6 864.7L1920.9 867.1L1921.2 869.6L1921.6 872.1L1921.9 874.6L1922.2 877.1L1922.5 879.6L1922.8 882L1923.2 884.5L1923.5 887L1923.8 889.5L1924.1 892L1924.4 894.4L1924.7 896.9L1925.1 899.4L1925.4 901.9L1925.7 904.4L1926 906.9L1926.3 909.3L1926.6 911.8L1926.9 914.3L1927.3 916.8L1927.6 919.3L1927.9 921.8L1928.2 924.2L1928.5 926.7L1928.8 929.2L1929.1 931.7L1929.5 934.2L1929.8 936.6L1930.1 939.1L1930.4 941.6L1930.7 944.1L1931 946.6L1931.4 949.1L1931.7 951.5L1932 954L1932.3 956.5L1932.6 959L1932.9 961.5L1933.3 964L1933.6 966.4L1933.9 968.9L1934.2 971.4L1934.5 973.9L1934.9 976.4L1935.2 978.8L1935.5 981.3L1935.8 983.8L1936.1 986.3L1936.5 988.8L1936.8 991.2L1937.1 993.7L1937.4 996.2L1937.8 998.7L1938.1 1001.2L1938.4 1003.7L1938.8 1006.1L1939.1 1008.6L1939.4 1011.1L1939.7 1013.6L1940.1 1016L1940.4 1018.5L1940.7 1021L1941.1 1023.5L1941.4 1026L1941.7 1028.4L1942.1 1030.9L1942.4 1033.4L1942.8 1035.9L1943.1 1038.4L1943.4 1040.8L1943.8 1043.3L1944.1 1045.8L1944.5 1048.3L1944.8 1050.7L1945.2 1053.2L1945.5 1055.7L1945.9 1058.2L1946.2 1060.7L1946.6 1063.1L1946.9 1065.6L1947.3 1068.1L1947.6 1070.6L1948 1073L1948.4 1075.5L1948.7 1078L1949.1 1080.5L1949.4 1082.9L1949.8 1085.4L1950.2 1087.9L1950.5 1090.4L1950.9 1092.8L1951.3 1095.3L1951.7 1097.8L1952 1100.2L1952.4 1102.7L1952.8 1105.2L1953.1 1107.7L1953.5 1110.1L1953.9 1112.6L1954.2 1115.1L1954.6 1117.6L1955 1120.1L1955.3 1122.6L1955.7 1125L1956 1127.5L1956.4 1130L1956.7 1132.5L1957.1 1135L1957.5 1137.5L1957.8 1140L1958.2 1142.5L1958.5 1144.9L1958.9 1147.4L1959.3 1149.9L1959.7 1152.4L1960 1154.9L1960.4 1157.4L1960.8 1159.8L1961.2 1162.3L1961.6 1164.8L1962 1167.3L1962.4 1169.7L1962.8 1172.2L1963.2 1174.7L1963.6 1177.2L1964.1 1179.6L1964.5 1182.1L1965 1184.5L1965.4 1187L1965.9 1189.5L1966.3 1191.9L1966.8 1194.4L1967.3 1196.8L1967.8 1199.2L1968.3 1201.7L1968.8 1204.1L1969.4 1206.5L1969.9 1209L1970.5 1211.4L1971 1213.8L1971.6 1216.2L1972.2 1218.6L1972.8 1221L1973.5 1223.4L1974.2 1225.8L1975 1228.2L1975.8 1230.5L1976.7 1232.9L1977.5 1235.3L1978.4 1237.6L1979.3 1240L1980.2 1242.3L1981.1 1244.7L1982 1247L1982.8 1244.6L1983.6 1242.3L1984.4 1239.9L1985.2 1237.5L1985.9 1235.1L1986.7 1232.7L1987.4 1230.3L1988.1 1227.9L1988.9 1225.5L1989.5 1223.1L1990.2 1220.7L1990.9 1218.3L1991.5 1215.9L1992.2 1213.5L1992.8 1211.1L1993.4 1208.6L1994 1206.2L1994.6 1203.8L1995.1 1201.3L1995.7 1198.9L1996.3 1196.5L1996.8 1194L1997.4 1191.6L1997.9 1189.1L1998.4 1186.7L1999 1184.2L1999.5 1181.8L2000.1 1179.4L2000.6 1176.9L2001.2 1174.5L2001.7 1172L2002.3 1169.6L2002.8 1167.1L2003.3 1164.7L2003.9 1162.3L2004.4 1159.8L2004.9 1157.4L2005.5 1154.9L2006 1152.5L2006.5 1150L2007 1147.6L2007.5 1145.1L2008 1142.7L2008.6 1140.2L2009.1 1137.8L2009.6 1135.3L2010.1 1132.9L2010.6 1130.4L2011.1 1128L2011.7 1125.5L2012.2 1123.1L2012.7 1120.6L2013.3 1118.2L2013.8 1115.8L2014.4 1113.3L2014.9 1110.9L2015.5 1108.4L2016.1 1106L2016.6 1103.6L2017.2 1101.2L2017.8 1098.7L2018.4 1096.3L2019.1 1093.9L2019.7 1091.5L2020.4 1089.1L2021.1 1086.6L2021.8 1084.2L2022.4 1081.8L2023.1 1079.4L2023.8 1077L2024.4 1074.6L2025.1 1072.2L2025.7 1069.8L2026.3 1067.3L2026.9 1064.9L2027.5 1062.5L2028 1060L2028.6 1057.6L2029.1 1055.1L2029.7 1052.7L2030.2 1050.2L2030.7 1047.8L2031.2 1045.3L2031.7 1042.9L2032.2 1040.4L2032.7 1038L2033.2 1035.5L2033.7 1033L2034.2 1030.6L2034.7 1028.1L2035.2 1025.7L2035.7 1023.2L2036.2 1020.8L2036.8 1018.3L2037.3 1015.9L2037.8 1013.4L2038.4 1011L2038.9 1008.6L2039.5 1006.1L2040.1 1003.7L2040.7 1001.3L2041.3 998.9L2041.9 996.4L2042.6 994L2043.2 991.6L2043.9 989.2L2044.6 986.8L2045.3 984.4L2046 982L2046.8 979.6L2047.6 977.3L2048.4 974.9L2049.2 972.5L2050 970.1L2050.8 967.8L2051.7 965.4L2052.6 963.1L2053.4 960.7L2054.4 958.4L2055.3 956.1L2056.2 953.8L2057.2 951.4L2058.1 948.9L2059.1 946.5L2060.1 944L2061.1 941.5L2062.2 939.2L2063.4 937L2064.6 935L2066 933.1L2067.4 931.6L2069.1 930L2071 928.5L2073 926.9L2075.3 925.4L2077.6 924L2080 922.7L2082.5 921.5L2085 920.6L2087.5 919.8L2089.9 919.3L2092.3 919L2094.5 919.1L2096.9 919.4L2099.3 920L2101.7 920.8L2104.1 921.7L2106.5 922.8L2108.9 924.1L2111.3 925.4L2113.5 926.8L2115.7 928.2L2117.7 929.7L2119.6 931.1L2121.4 932.5L2123.1 934.2L2124.8 936L2126.4 938L2128 940L2129.5 942.2L2130.9 944.3L2132.3 946.5L2133.6 948.7L2134.9 950.9L2136.1 953L2137.3 955.1L2138.4 957.3L2139.6 959.6L2140.6 961.8L2141.7 964.1L2142.7 966.4L2143.7 968.7L2144.7 971L2145.6 973.4L2146.6 975.7L2147.5 978.1L2148.4 980.4L2149.3 982.8L2150.2 985.1L2151.1 987.5L2151.9 989.8L2152.8 992.2L2153.7 994.5L2154.5 996.9L2155.3 999.2L2156.2 1001.6L2157 1004L2157.8 1006.3L2158.5 1008.7L2159.3 1011.1L2160.1 1013.5L2160.8 1015.9L2161.6 1018.3L2162.3 1020.7L2163 1023.1L2163.8 1025.5L2164.5 1027.9L2165.2 1030.3L2165.8 1032.7L2166.5 1035.1L2167.1 1037.5L2167.8 1039.9L2168.4 1042.3L2169.1 1044.7L2169.7 1047.2L2170.3 1049.6L2170.9 1052L2171.5 1054.4L2172.1 1056.9L2172.8 1059.3L2173.4 1061.7L2174 1064.1L2174.6 1066.6L2175.3 1069L2175.9 1071.4L2176.6 1073.8L2177.2 1076.2L2177.9 1078.7L2178.5 1081.1L2179.1 1083.5L2179.8 1085.9L2180.4 1088.3L2181.1 1090.7L2181.7 1093.2L2182.4 1095.6L2183 1098L2183.8 1095.6L2184.5 1093.2L2185.3 1090.8L2186 1088.4L2186.7 1086L2187.5 1083.6L2188.2 1081.2L2188.9 1078.8L2189.7 1076.4L2190.4 1074L2191.1 1071.6L2191.8 1069.2L2192.5 1066.8L2193.2 1064.4L2193.9 1062L2194.6 1059.6L2195.3 1057.2L2196 1054.8L2196.7 1052.4L2197.4 1050L2198 1047.5L2198.7 1045.1L2199.4 1042.7L2200.1 1040.3L2200.7 1037.9L2201.4 1035.5L2202.1 1033.1L2202.8 1030.6L2203.4 1028.2L2204.1 1025.8L2204.7 1023.4L2205.4 1021L2206.1 1018.5L2206.7 1016.1L2207.4 1013.7L2208 1011.3L2208.7 1008.8L2209.3 1006.4L2209.9 1004L2210.6 1001.6L2211.2 999.2L2211.9 996.7L2212.5 994.3L2213.1 991.9L2213.8 989.5L2214.4 987L2215 984.6L2215.6 982.2L2216.2 979.7L2216.9 977.3L2217.5 974.9L2218.1 972.4L2218.7 970L2219.3 967.6L2219.9 965.1L2220.5 962.7L2221.1 960.3L2221.6 957.8L2222.2 955.4L2222.8 952.9L2223.4 950.5L2224 948.1L2224.6 945.6L2225.2 943.2L2225.8 940.8L2226.4 938.3L2227 935.9L2227.6 933.5L2228.2 931L2228.8 928.6L2229.4 926.2L2230.1 923.7L2230.7 921.3L2231.3 918.9L2231.9 916.5L2232.6 914L2233.2 911.6L2233.8 909.2L2234.5 906.8L2235.1 904.3L2235.8 901.9L2236.4 899.5L2237.1 897.1L2237.7 894.7L2238.4 892.2L2239.1 889.8L2239.7 887.4L2240.4 885L2241 882.6L2241.7 880.1L2242.4 877.7L2243.1 875.3L2243.7 872.9L2244.4 870.5L2245.1 868.1L2245.8 865.7L2246.4 863.2L2247.1 860.8L2247.8 858.4L2248.5 856.0"/>
<path stroke="#FF00FF" stroke-width="4.2" d="M221.3 566.2L223.7 565.5L226.1 564.8L228.5 564.1L231 563.4L233.4 562.7L235.8 562L238.2 561.4L240.6 560.7L243 560L245.4 559.3L247.9 558.6L250.3 557.9L252.7 557.2L255.1 556.5L257.5 555.8L259.9 555.1L262.3 554.5L264.8 553.8L267.2 553.1L269.6 552.4L272 551.7L274.4 551L276.8 550.3L279.2 549.6L281.7 548.9L284.1 548.2L286.5 547.5L288.9 546.8L291.3 546.1L293.7 545.4L296.1 544.7L298.5 544L301 543.3L303.4 542.7L305.8 542L308.2 541.3L310.6 540.6L313 539.9L315.5 539.3L317.9 538.6L320.3 538L322.7 537.3L325.2 536.7L327.6 536L330 535.4L332.4 534.7L334.9 534.1L337.3 533.4L339.7 532.8L342.2 532.2L344.6 531.6L347 530.9L349.5 530.3L351.9 529.7L354.3 529.1L356.8 528.5L359.2 527.9L361.7 527.3L364.1 526.7L366.5 526.2L369 525.6L371.4 525.1L373.9 524.5L376.4 524L378.8 523.6L381.3 523.1L383.8 522.7L386.3 522.2L388.8 521.8L391.2 521.3L393.7 520.8L396.1 520.2L398.5 519.6L400.9 518.9L403.3 518L405.6 517L407.9 515.9L410.2 514.8L412.5 513.6L414.8 512.4L417.1 511.2L419.4 510L421.7 508.9L424 507.8L426.3 506.6L428.6 505.5L430.9 504.3L433.2 503.1L435.5 501.9L437.7 500.7L440 499.5L442.3 498.3L444.6 497.1L446.9 495.9L449.2 494.7L451.5 493.6L453.8 492.5L456.1 491.5L458.4 490.4L460.8 489.5L463.1 488.5L465.5 487.7L467.8 486.8L470.2 486L472.6 485.3L475 484.7L477.4 484L479.9 483.4L482.3 482.8L484.8 482.2L487.3 481.7L489.8 481.1L492.2 480.6L494.7 480.1L497.2 479.5L499.7 478.9L502.1 478.4L504.6 477.8L507.1 477.3L509.5 476.7L512 476.2L514.5 475.6L516.9 475L519.4 474.4L521.8 473.8L524.2 473.1L526.6 472.3L528.9 471.5L531.3 470.6L533.7 469.7L536 468.8L538.4 467.8L540.7 466.8L543 465.8L545.4 464.8L547.7 463.7L550 462.7L552.4 461.7L554.7 460.7L557.1 459.7L559.4 458.8L561.8 457.8L564.1 457L566.5 456.1L568.9 455.3L571.3 454.6L573.7 453.9L576.2 453.1L578.6 452.3L581 451.6L583.5 450.8L585.9 450.1L588.4 449.4L590.8 448.8L593.3 448.2L595.8 447.8L598.2 447.4L600.7 447.2L603.2 447.2L605.6 447.4L608.1 447.7L610.6 448.1L613.1 448.5L615.6 449L618 449.4L620.5 449.8L623 450.2L625.5 450.6L628 451L630.5 451.5L633 451.9L635.5 452.3L638 452.6L640.4 452.8L642.8 452.9L645.2 452.7L647.6 452.3L650 451.7L652.3 450.9L654.7 450L657 448.9L659.3 447.7L661.6 446.5L663.9 445.2L666.2 444L668.5 442.8L670.7 441.7L673 440.6L675.2 439.5L677.4 438.4L679.6 437.2L681.9 436.1L684 434.9L686.2 433.7L688.4 432.4L690.6 431.2L692.8 429.9L694.9 428.7L697.1 427.4L699.3 426.1L701.4 424.8L703.6 423.5L705.7 422.2L707.9 421L710 419.7L712.2 418.4L714.4 417.1L716.5 415.9L718.7 414.6L720.9 413.4L723.1 412.2L725.3 411L727.5 409.7L729.6 408.4L731.8 407.2L734 405.9L736.1 404.6L738.3 403.3L740.5 402L742.7 400.7L744.8 399.5L747 398.2L749.2 397L751.4 395.7L753.6 394.5L755.8 393.3L758 392.2L760.2 391L762.5 389.9L764.7 388.9L767 387.9L769.2 386.9L771.5 385.9L773.8 385L776.1 384L778.4 383L780.8 382L783.1 381L785.5 380L787.8 379.1L790.2 378.1L792.6 377.2L794.9 376.3L797.3 375.4L799.7 374.6L802.1 373.8L804.6 373.1L807 372.4L809.4 371.8L811.8 371.3L814.3 370.8L816.7 370.5L819.2 370.2L821.6 370L824.1 369.9L826.6 369.8L829.1 369.7L831.7 369.6L834.1 369.6L836.6 369.6L839.1 369.8L841.6 370.1L844 370.6L846.5 371.1L849 371.7L851.4 372.5L853.9 373.2L856.3 374.1L858.7 375L861.1 375.9L863.4 376.8L865.8 377.8L868.1 378.7L870.3 379.7L872.5 380.6L874.8 381.6L877 382.6L879.2 383.7L881.4 384.9L883.6 386.1L885.7 387.4L887.9 388.7L890 390L892.2 391.5L894.3 392.9L896.4 394.4L898.5 395.9L900.5 397.4L902.5 399L904.6 400.6L906.5 402.3L908.5 403.9L910.4 405.6L912.3 407.2L914.2 408.9L916 410.6L917.8 412.3L919.6 414L921.3 415.7L923 417.5L924.6 419.4L926.2 421.3L927.7 423.3L929.1 425.3L930.6 427.4L932 429.5L933.5 431.6L934.9 433.7L936.4 435.7L937.9 437.7L939.5 439.7L941.2 441.5L942.9 443.3L944.6 445.1L946.4 446.8L948.3 448.5L950.2 450.2L952 451.9L953.9 453.6L955.7 455.3L957.5 457.1L959.3 458.9L961.1 460.7L962.9 462.3L964.8 463.9L966.9 465.2L969 466.5L971.2 467.6L973.4 468.7L975.7 469.8L978 470.8L980.4 471.8L982.7 472.9L985 473.9L987.3 475L989.5 476.2L991.6 477.5L993.7 478.8L995.7 480.1L997.8 481.5L999.9 482.9L1002 484.3L1004 485.7L1006.1 487.2L1008.1 488.7L1010.1 490.2L1012.1 491.8L1014.1 493.3L1016.1 494.9L1018.1 496.5L1020 498.2L1022 499.8L1023.9 501.5L1025.8 503.1L1027.7 504.8L1029.5 506.5L1031.3 508.3L1033.1 510L1034.9 511.8L1036.7 513.5L1038.4 515.3L1040.1 517.1L1041.7 518.9L1043.4 520.7L1044.9 522.6L1046.5 524.5L1048 526.5L1049.5 528.4L1051 530.5L1052.4 532.5L1053.9 534.6L1055.3 536.7L1056.7 538.7L1058.1 540.8L1059.6 542.9L1061 545L1062.4 547.1L1063.8 549.2L1065.3 551.3L1066.7 553.3L1068.2 555.3L1069.7 557.3L1071.2 559.3L1072.7 561.3L1074.2 563.3L1075.8 565.3L1077.3 567.3L1078.8 569.3L1080.3 571.3L1081.9 573.2L1083.4 575.2L1084.9 577.2L1086.5 579.2L1088 581.2L1089.5 583.2L1091 585.1L1092.5 587.1L1094 589.1L1095.5 591.1L1097 593.1L1098.5 595.2L1100 597.2L1101.5 599.2L1102.9 601.2L1104.3 603.3L1105.7 605.4L1107.1 607.4L1108.5 609.5L1109.9 611.6L1111.3 613.7L1112.7 615.8L1114.1 617.9L1115.5 620L1116.9 622L1118.3 624.1L1119.7 626.1L1121.2 628.1L1122.7 630.1L1124.3 632.1L1125.8 634L1127.4 636L1129 637.9L1130.6 639.8L1132.3 641.7L1133.9 643.6L1135.6 645.5L1137.3 647.3L1139 649.2L1140.7 651L1142.4 652.8L1144.2 654.8L1146 657L1147.8 659.3L1149.7 661.6L1151.5 663.7L1153.4 665.7L1155.2 667.4L1157.1 668.8L1159 669.7L1160.8 670.2L1162.7 670L1164.6 669.3L1166.5 668.1L1168.4 666.5L1170.3 664.6L1172.2 662.5L1174.1 660.3L1175.9 658L1177.7 655.8L1179.4 653.7L1181.1 651.8L1182.7 650L1184.4 648.1L1186 646.1L1187.5 644.2L1189.1 642.2L1190.6 640.2L1192.1 638.2L1193.6 636.2L1195 634.1L1196.5 632L1197.8 629.8L1199.2 627.7L1200.5 625.5L1162.8 668.1L1164.3 666.1L1165.8 664.1L1167.3 662L1168.8 660L1170.3 658L1171.9 656L1173.4 654L1175 652L1176.6 650.1L1178.1 648.1L1179.7 646.2L1181.3 644.2L1182.9 642.3L1184.5 640.3L1186.2 638.4L1187.8 636.5L1189.4 634.6L1191.1 632.7L1192.7 630.8L1194.4 628.9L1196 627L1197.7 625.1L1199.4 623.2L1201 621.4L1202.7 619.5L1204.4 617.7L1206.1 615.8L1207.8 614L1209.5 612.1L1211.2 610.3L1213 608.5L1214.7 606.7L1216.4 604.8L1218.1 603L1219.9 601.2L1221.6 599.4L1223.4 597.6L1225.1 595.8L1226.9 594L1228.6 592.1L1230.4 590.3L1232.2 588.5L1234 586.8L1235.9 585.1L1237.8 583.5L1239.8 582L1241.8 580.6L1243.9 579.2L1246 577.9L1248.2 576.7L1250.4 575.5L1252.7 574.3L1255 573.2L1257.3 572.1L1259.5 571L1261.8 569.9L1264.1 568.6L1266.4 568.2L1268.9 568.3L1271.4 568.6L1273.9 569.1L1276.5 569.6L1279 570.3L1281.4 571L1283.7 571.7L1286 572.5L1288.2 573.5L1290.4 574.7L1292.6 576L1294.7 577.5L1296.8 579L1298.9 580.6L1300.9 582.3L1302.7 584.1L1304.6 585.8L1306.3 587.5L1307.9 589.2L1309.5 591.1L1311 593L1312.5 595L1313.9 597L1315.2 599.1L1316.6 601.3L1317.9 603.5L1319.2 605.7L1320.4 607.9L1321.7 610.1L1322.9 612.3L1324.2 614.5L1325.4 616.6L1326.6 618.8L1327.8 621L1329 623.2L1330.2 625.4L1331.4 627.6L1332.5 629.8L1333.7 632L1334.8 634.2L1336 636.5L1337.1 638.7L1338.2 641L1339.2 643.2L1340.3 645.5L1341.3 647.8L1342.4 650L1343.4 652.3L1344.3 654.6L1345.3 656.9L1346.2 659.2L1347.1 661.5L1348 663.8L1348.9 666.2L1349.7 668.5L1350.5 670.8L1351.3 673.2L1352.1 675.5L1352.9 677.9L1353.6 680.3L1354.4 682.7L1355.1 685L1355.8 687.4L1356.5 689.8L1357.2 692.2L1357.9 694.6L1358.6 697L1359.3 699.4L1360 701.9L1360.6 704.3L1361.3 706.7L1362 709.1L1362.7 711.5L1363.3 713.9L1364 716.3L1364.7 718.7L1365.4 721.1L1366.1 723.5L1366.8 725.9L1367.6 728.3L1368.3 730.7L1369 733.1L1369.8 735.5L1370.5 737.9L1371.2 740.2L1372 742.6L1372.7 745L1373.4 747.4L1374.1 749.8L1374.9 752.2L1375.6 754.6L1376.3 757L1377.1 759.3L1377.8 761.7L1378.5 764.1L1379.3 766.5L1380 768.9L1380.8 771.3L1381.5 773.6L1382.3 776L1383 778.4L1383.8 780.8L1384.6 783.1L1385.3 785.5L1386.1 787.9L1386.9 790.2L1387.7 792.6L1388.5 795L1389.3 797.3L1390.1 799.7L1390.9 802L1391.7 804.4L1392.6 806.7L1393.4 809.1L1394.2 811.5L1395.1 813.8L1395.9 816.1L1396.8 818.5L1397.6 820.8L1398.5 823.2L1399.3 825.5L1400.2 827.9L1401.1 830.2L1402 832.5L1402.8 834.9L1403.7 837.2L1404.6 839.5L1405.5 841.9L1406.4 844.2L1407.3 846.5L1408.2 848.8L1409.1 851.2L1410 853.5L1410.9 855.8L1411.8 858.1L1412.7 860.5L1413.7 862.8L1414.6 865.1L1415.5 867.4L1416.4 869.7L1417.4 872L1418.3 874.3L1419.2 876.7L1420.2 879L1421.1 881.3L1422.1 883.6L1423 885.9L1424 888.2L1425 890.5L1425.9 892.8L1426.9 895.1L1427.9 897.4L1428.9 899.7L1429.8 902L1430.8 904.2L1431.8 906.5L1432.8 908.8L1433.8 911.1L1434.8 913.4L1435.8 915.7L1436.8 918L1437.8 920.2L1438.8 922.5L1439.8 924.8L1440.8 927.1L1441.9 929.4L1442.9 931.6L1443.9 933.9L1444.9 936.2L1446 938.4L1447 940.7L1448 943L1449.1 945.2L1450.1 947.5L1451.2 949.8L1452.3 952L1453.3 954.3L1454.4 956.5L1455.5 958.8L1456.5 961L1457.6 963.3L1458.7 965.5L1459.8 967.8L1460.9 970L1461.9 972.3L1463 974.5L1464.1 976.7L1465.2 979L1466.3 981.2L1467.4 983.5L1468.4 985.7L1469.5 988L1470.6 990.2L1471.7 992.5L1472.7 994.7L1473.8 997L1474.9 999.2L1475.9 1001.5L1477 1003.8L1478 1006L1479.1 1008.3L1480.1 1010.5L1481.2 1012.8L1482.2 1015.1L1483.2 1017.3L1484.3 1019.6L1485.3 1021.9L1486.3 1024.2L1487.3 1026.4L1488.4 1028.7L1489.4 1031L1490.4 1033.3L1491.4 1035.5L1492.4 1037.8L1493.4 1040.1L1494.4 1042.4L1495.5 1044.7L1496.5 1046.9L1497.5 1049.2L1498.5 1051.5L1499.5 1053.8L1500.5 1056.1L1501.5 1058.3L1502.5 1060.7L1503.4 1063L1504.4 1065.4L1505.3 1067.7L1506.3 1070L1507.2 1072.4L1508.2 1074.9L1509.1 1077.5L1510.1 1080.3L1511 1083.1L1512 1086L1512.9 1089L1513.9 1092.1L1514.8 1095.2L1515.7 1098.3L1516.7 1101.4L1517.6 1104.5L1518.6 1107.5L1519.5 1110.4L1520.5 1113.3L1521.4 1116.1L1522.4 1118.8L1523.3 1121.4L1524.3 1123.8L1525.2 1126L1526.2 1128.1L1527.1 1129.9L1528.1 1131.5L1529.1 1132.9L1530 1134L1531 1134.9L1532 1135.4L1533 1135.7L1534 1135.2L1535 1133.8L1536 1131.7L1537 1129L1538 1126.1L1539 1123.2L1540 1120.5L1541 1118.2L1542 1115.9L1542.9 1113.7L1543.9 1111.5L1544.8 1109.2L1545.8 1107L1546.7 1104.8L1547.7 1102.5L1548.6 1100.3L1549.6 1098L1550.5 1095.8L1551.4 1093.5L1552.4 1091.3L1553.3 1089L1554.2 1086.8L1533.8 1133.3L1534.5 1131L1535.2 1128.6L1536 1126.3L1536.7 1124L1537.4 1121.6L1538.1 1119.3L1538.8 1116.9L1539.5 1114.6L1540.2 1112.2L1540.9 1109.8L1541.6 1107.5L1542.3 1105.1L1543 1102.8L1543.6 1100.4L1544.3 1098L1545 1095.7L1545.6 1093.3L1546.3 1090.9L1546.9 1088.6L1547.6 1086.2L1548.2 1083.8L1548.9 1081.5L1549.5 1079.1L1550.1 1076.7L1550.8 1074.3L1551.4 1071.9L1552 1069.6L1552.6 1067.2L1553.2 1064.8L1553.8 1062.4L1554.3 1060L1554.9 1057.6L1555.5 1055.2L1556 1052.8L1556.6 1050.4L1557.1 1048L1557.7 1045.6L1558.3 1043.2L1558.8 1040.7L1559.4 1038.3L1560 1035.8L1560.6 1033.4L1561.2 1031L1561.8 1028.5L1562.4 1026.1L1563 1023.7L1563.6 1021.2L1564.3 1018.8L1564.9 1016.4L1565.5 1013.9L1566.2 1011.5L1566.8 1009.1L1567.5 1006.7L1568.2 1004.3L1568.9 1001.8L1569.6 999.4L1570.2 997L1570.9 994.6L1571.6 992.2L1572.4 989.8L1573.1 987.4L1573.8 985L1574.5 982.6L1575.2 980.2L1575.9 977.7L1576.6 975.3L1577.4 972.9L1578.1 970.5L1578.8 968.1L1579.5 965.7L1580.2 963.3L1580.9 960.9L1581.6 958.5L1582.3 956.1L1583 953.7L1583.7 951.2L1584.4 948.8L1585.1 946.4L1585.7 944L1586.4 941.6L1587 939.1L1587.7 936.7L1588.3 934.3L1588.9 931.9L1589.5 929.4L1590.1 927L1590.7 924.6L1591.3 922.1L1591.9 919.7L1592.5 917.2L1593.1 914.8L1593.6 912.4L1594.2 909.9L1594.8 907.5L1595.3 905L1595.9 902.6L1596.4 900.1L1597 897.7L1597.5 895.2L1598.1 892.8L1598.6 890.3L1599.2 887.9L1599.7 885.4L1600.3 883L1600.8 880.5L1601.4 878.1L1601.9 875.6L1602.5 873.2L1603.1 870.8L1603.6 868.3L1604.2 865.9L1604.8 863.4L1605.3 861L1605.9 858.5L1606.5 856.1L1607.1 853.7L1607.7 851.2L1608.3 848.8L1608.9 846.3L1609.4 843.9L1610 841.5L1610.6 839L1611.2 836.6L1611.8 834.1L1612.4 831.7L1613 829.3L1613.6 826.8L1614.2 824.4L1614.8 822L1615.4 819.5L1615.9 817.1L1616.5 814.6L1617.1 812.2L1617.7 809.8L1618.3 807.3L1618.8 804.9L1619.4 802.4L1620 800L1620.5 797.5L1621.1 795.1L1621.6 792.6L1622.2 790.2L1622.7 787.7L1623.2 785.3L1623.8 782.8L1624.3 780.4L1624.8 777.9L1625.4 775.5L1625.9 773L1626.4 770.6L1626.9 768.1L1627.5 765.7L1628 763.2L1628.5 760.8L1629 758.3L1629.6 755.9L1630.1 753.4L1630.6 751L1631.1 748.5L1631.7 746L1632.2 743.6L1632.7 741.1L1633.3 738.7L1633.8 736.2L1634.3 733.8L1634.9 731.3L1635.4 728.9L1636 726.4L1636.5 724L1637 721.5L1637.6 719.1L1638.1 716.7L1638.7 714.2L1639.2 711.8L1639.8 709.3L1640.3 706.9L1640.9 704.4L1641.4 702L1642 699.5L1642.5 697.1L1643.1 694.6L1643.6 692.2L1644.2 689.7L1644.8 687.3L1645.3 684.8L1645.9 682.4L1646.4 679.9L1647 677.5L1647.6 675.1L1648.1 672.6L1648.7 670.2L1649.3 667.7L1649.9 665.3L1650.4 662.8L1651 660.4L1651.6 658L1652.1 655.5L1652.7 653.1L1653.3 650.6L1653.9 648.2L1654.4 645.7L1655 643.3L1655.6 640.8L1656.1 638.4L1656.7 636L1657.3 633.5L1657.9 631.1L1658.5 628.6L1659 626.2L1659.6 623.8L1660.2 621.3L1660.8 618.9L1661.4 616.4L1662 614L1662.6 611.6L1663.3 609.1L1663.9 606.7L1664.5 604.3L1665.1 601.9L1665.8 599.4L1666.4 597L1667.1 594.6L1667.8 592.2L1668.4 589.8L1669.2 587.4L1669.9 584.9L1670.6 582.5L1671.4 580.2L1672.1 577.8L1672.9 575.4L1673.7 573L1674.5 570.6L1675.2 568.2L1676 565.8L1676.8 563.4L1677.6 561L1678.4 558.6L1679.1 556.2L1679.9 553.8L1680.6 551.4L1681.3 549L1682 546.6L1682.7 544.2L1683.4 541.8L1684 539.4L1684.7 537L1685.3 534.5L1685.9 532.1L1686.5 529.7L1687.2 527.2L1687.8 524.8L1688.3 522.4L1688.9 519.9L1689.5 517.5L1690.1 515.1L1690.7 512.6L1691.2 510.2L1691.8 507.7L1692.3 505.3L1692.9 502.8L1693.5 500.4L1694 497.9L1694.6 495.5L1695.1 493L1695.7 490.6L1696.2 488.1L1696.8 485.7L1697.3 483.2L1697.9 480.8L1698.5 478.3L1699 475.9L1699.6 473.5L1700.2 471L1700.8 468.6L1701.4 466.1L1702 463.7L1702.6 461.3L1703.2 458.8L1703.8 456.4L1704.4 453.9L1705 451.5L1705.6 449.1L1706.2 446.6L1706.8 444.2L1707.4 441.8L1708 439.3L1708.6 436.9L1709.3 434.5L1709.9 432.1L1710.5 429.6L1711.2 427.2L1711.9 424.8L1712.5 422.4L1713.2 419.9L1713.9 417.5L1714.5 415.1L1715.2 412.7L1715.9 410.3L1716.6 407.9L1717.3 405.5L1718.1 403.1L1718.8 400.6L1719.5 398.2L1720.3 395.8L1721 393.5L1721.8 391.1L1722.6 388.7L1723.4 386.3L1724.2 383.9L1725 381.5L1725.8 379.2L1726.7 376.8L1727.5 374.4L1728.4 372.1L1729.3 369.7L1730.2 367.4L1731.1 365L1732 362.7L1733 360.4L1733.9 358.1L1734.9 355.7L1735.9 353.4L1737 351.1L1738 348.8L1739.1 346.6L1740.2 344.3L1741.3 342L1742.5 339.8L1743.6 337.6L1744.9 335.4L1746.1 333.2L1747.4 331.1L1748.7 328.9L1750.2 326.6L1751.7 324.4L1753.2 322.1L1754.8 320L1756.5 317.9L1758.3 315.7L1760.2 313.6L1762.1 311.7L1764.2 310.2L1766.5 308.7L1769 307.3L1771.5 306L1774 305L1776.5 304.4L1779 304.6L1781.6 305.7L1784.1 307.1L1786.6 308.7L1788.9 310.2L1791 311.9L1793 313.9L1794.9 316L1796.7 318.3L1798.4 320.4L1800 322.7L1801.5 324.8L1803 326.9L1804.3 328.9L1805.7 331L1806.9 333.1L1808.2 335.2L1809.4 337.4L1810.5 339.5L1811.7 341.7L1812.8 344L1813.9 346.2L1814.9 348.4L1816 350.7L1817 352.9L1818 355.2L1818.9 357.5L1819.9 359.7L1820.8 362L1821.8 364.3L1822.7 366.6L1823.6 368.9L1824.4 371.2L1825.3 373.6L1826.1 375.9L1827 378.2L1827.8 380.6L1828.6 382.9L1829.4 385.3L1830.2 387.6L1830.9 390L1831.7 392.3L1832.4 394.7L1833.2 397L1833.9 399.4L1834.6 401.8L1835.3 404.2L1836 406.5L1836.7 408.9L1837.4 411.3L1838.1 413.7L1838.8 416.1L1839.5 418.5L1840.1 420.9L1840.8 423.2L1841.4 425.6L1842.1 428L1842.7 430.4L1843.4 432.8L1844 435.2L1844.6 437.6L1845.3 440L1845.9 442.4L1846.5 444.8L1847.1 447.3L1847.7 449.7L1848.3 452.1L1848.9 454.5L1849.4 456.9L1850 459.3L1850.5 461.7L1851.1 464.2L1851.6 466.6L1852.2 469L1852.7 471.4L1853.2 473.9L1853.7 476.3L1854.2 478.7L1854.7 481.2L1855.2 483.6L1855.7 486L1856.2 488.5L1856.7 490.9L1857.2 493.4L1857.7 495.8L1858.1 498.2L1858.6 500.7L1859.1 503.1L1859.6 505.6L1860 508L1860.5 510.5L1861 512.9L1861.4 515.3L1861.9 517.8L1862.4 520.2L1862.8 522.7L1863.3 525.1L1863.8 527.6L1864.2 530L1864.7 532.4L1865.2 534.9L1865.7 537.3L1866.1 539.8L1866.6 542.2L1867.1 544.7L1867.6 547.1L1868 549.5L1868.5 552L1869 554.4L1869.5 556.8L1870 559.3L1870.5 561.7L1870.9 564.2L1871.4 566.6L1871.9 569L1872.4 571.5L1872.9 573.9L1873.4 576.4L1873.8 578.8L1874.3 581.2L1874.8 583.7L1875.3 586.1L1875.8 588.6L1876.2 591L1876.7 593.5L1877.2 595.9L1877.6 598.3L1878.1 600.8L1878.6 603.2L1879 605.7L1879.5 608.1L1879.9 610.6L1880.4 613L1880.8 615.5L1881.2 617.9L1881.7 620.4L1882.1 622.8L1882.5 625.3L1883 627.7L1883.4 630.2L1883.8 632.6L1884.2 635.1L1884.6 637.5L1885 640L1885.4 642.4L1885.8 644.9L1886.1 647.4L1886.5 649.8L1886.9 652.3L1887.3 654.7L1887.7 657.2L1888 659.7L1888.4 662.1L1888.8 664.6L1889.1 667L1889.5 669.5L1889.9 672L1890.2 674.4L1890.6 676.9L1890.9 679.4L1891.3 681.8L1891.6 684.3L1892 686.8L1892.3 689.2L1892.7 691.7L1893 694.2L1893.4 696.6L1893.7 699.1L1894.1 701.6L1894.4 704L1894.7 706.5L1895.1 709L1895.4 711.4L1895.8 713.9L1896.1 716.4L1896.4 718.8L1896.8 721.3L1897.1 723.8L1897.4 726.3L1897.7 728.7L1898.1 731.2L1898.4 733.7L1898.7 736.1L1899.1 738.6L1899.4 741.1L1899.7 743.5L1900 746L1900.4 748.5L1900.7 751L1901 753.4L1901.4 755.9L1901.7 758.4L1902 760.8L1902.3 763.3L1902.7 765.8L1903 768.3L1903.3 770.7L1903.7 773.2L1904 775.7L1904.3 778.1L1904.7 780.6L1905 783.1L1905.3 785.5L1905.7 788L1906 790.5L1906.3 793L1906.7 795.4L1907 797.9L1907.3 800.4L1907.6 802.8L1908 805.3L1908.3 807.8L1908.6 810.2L1908.9 812.7L1909.2 815.2L1909.6 817.7L1909.9 820.1L1910.2 822.6L1910.5 825.1L1910.8 827.6L1911.1 830L1911.4 832.5L1911.7 835L1912 837.5L1912.4 839.9L1912.7 842.4L1913 844.9L1913.3 847.4L1913.6 849.8L1913.9 852.3L1914.2 854.8L1914.5 857.3L1914.8 859.8L1915.1 862.2L1915.4 864.7L1915.7 867.2L1916 869.7L1916.2 872.1L1916.5 874.6L1916.8 877.1L1917.1 879.6L1917.4 882.1L1917.7 884.5L1918 887L1918.3 889.5L1918.6 892L1918.9 894.4L1919.2 896.9L1919.5 899.4L1919.8 901.9L1920.1 904.4L1920.4 906.8L1920.6 909.3L1920.9 911.8L1921.2 914.3L1921.5 916.8L1921.8 919.2L1922.1 921.7L1922.4 924.2L1922.7 926.7L1923 929.1L1923.3 931.6L1923.6 934.1L1923.9 936.6L1924.2 939.1L1924.5 941.5L1924.8 944L1925.1 946.5L1925.4 949L1925.7 951.4L1926 953.9L1926.3 956.4L1926.6 958.9L1926.9 961.3L1927.2 963.8L1927.5 966.3L1927.8 968.8L1928.1 971.2L1928.4 973.7L1928.7 976.2L1929 978.7L1929.4 981.1L1929.7 983.6L1930 986.1L1930.3 988.6L1930.6 991L1930.9 993.5L1931.3 996L1931.6 998.4L1931.9 1000.9L1932.2 1003.4L1932.6 1005.8L1932.9 1008.3L1933.2 1010.8L1933.6 1013.2L1933.9 1015.7L1934.2 1018.2L1934.6 1020.6L1934.9 1023.1L1935.3 1025.6L1935.6 1028L1936 1030.5L1936.3 1033L1936.7 1035.4L1937 1037.9L1937.4 1040.4L1937.7 1042.8L1938.1 1045.3L1938.5 1047.7L1938.8 1050.2L1939.2 1052.6L1939.6 1055.1L1940 1057.6L1940.3 1060L1940.7 1062.5L1941.1 1064.9L1941.5 1067.4L1941.9 1069.8L1942.3 1072.3L1942.6 1074.7L1943 1077.2L1943.4 1079.6L1943.8 1082.1L1944.3 1084.5L1944.7 1087L1945.1 1089.4L1945.5 1091.9L1945.9 1094.3L1946.3 1096.8L1946.8 1099.2L1947.2 1101.7L1947.6 1104.1L1948.1 1106.5L1948.5 1109L1949 1111.4L1949.4 1113.9L1949.9 1116.3L1950.4 1118.7L1950.8 1121.2L1951.3 1123.6L1951.8 1126.1L1952.2 1128.5L1952.7 1130.9L1953.2 1133.4L1953.7 1135.8L1954.2 1138.2L1954.7 1140.7L1955.2 1143.1L1955.7 1145.5L1956.2 1148L1956.7 1150.4L1957.2 1152.8L1957.7 1155.3L1958.3 1157.7L1958.8 1160.1L1959.3 1162.6L1959.8 1165L1960.4 1167.4L1960.9 1169.8L1961.4 1172.3L1962 1174.7L1962.5 1177.1L1963.1 1179.5L1963.6 1182L1964.2 1184.4L1964.7 1186.8L1965.3 1189.2L1965.8 1191.7L1966.4 1194.1L1967 1196.5L1967.5 1198.9L1968.1 1201.3L1968.7 1203.8L1969.2 1206.2L1969.8 1208.6L1970.4 1211L1971 1213.4L1971.6 1215.9L1972.2 1218.3L1972.7 1220.7L1973.3 1223.1L1973.9 1225.5L1974.5 1227.9L1975.1 1230.4L1975.7 1232.8L1976.3 1235.2L1976.9 1237.6L1977.5 1240L1978.1 1242.4L1978.7 1244.8L1979.3 1247.3L1979.9 1249.7L1980.5 1252.1L1981.2 1254.5L1981.8 1256.9L1982.4 1259.3L1983 1261.7L1983.6 1264.1L1984.2 1266.5L1984.9 1268.9L1985.4 1271.5L1986 1274.2L1986.3 1271.8L1986.6 1269.4L1986.9 1267L1987.3 1264.6L1987.6 1262.2L1987.9 1259.8L1988.3 1257.4L1988.6 1255.1L1989 1252.7L1989.3 1250.3L1989.7 1248L1990.1 1245.6L1990.4 1243.3L1990.8 1240.9L1991.2 1238.6L1991.6 1236.2L1992 1233.9L1992.4 1231.6L1992.9 1229.2L1993.3 1226.9L1993.7 1224.6L1994.1 1222.3L1994.6 1220L1995 1217.6L1995.5 1215.3L1995.9 1213L1996.4 1210.7L1996.8 1208.4L1997.3 1206.1L1997.8 1203.9L1998.3 1201.6L1998.8 1199.3L1999.2 1197L1999.7 1194.7L2000.2 1192.5L2000.7 1190.2L2001.3 1187.9L2001.8 1185.6L2002.3 1183.4L2002.8 1181.1L2003.3 1178.9L2003.9 1176.6L2004.4 1174.4L2004.9 1172.1L2005.5 1169.9L2006 1167.6L2006.6 1165.4L2007.1 1163.1L2007.7 1160.9L2008.2 1158.6L2008.9 1156.1L2009.5 1153.6L2010.1 1151.2L2010.8 1148.7L2011.4 1146.3L2012 1143.8L2012.7 1141.3L2013.3 1138.9L2014 1136.4L2014.6 1134L2015.3 1131.5L2015.9 1129.1L2016.6 1126.6L2017.3 1124.2L2017.9 1121.7L2018.6 1119.3L2019.3 1116.8L2019.9 1114.4L2020.6 1111.9L2021.3 1109.5L2022 1107L2022.7 1104.6L2023.3 1102.1L2024 1099.7L2024.7 1097.2L2025.4 1094.8L2026.1 1092.4L2026.8 1089.9L2027.6 1087.5L2028.4 1085.1L2029.2 1082.7L2030.1 1080.2L2030.9 1077.8L2031.8 1075.4L2032.7 1073L2033.5 1070.6L2034.4 1068.2L2035.2 1065.7L2035.9 1063.3L2036.7 1060.9L2037.4 1058.4L2038.1 1055.9L2038.7 1053.4L2039.3 1050.9L2039.9 1048.4L2040.5 1045.8L2041 1043.2L2041.6 1040.7L2042.1 1038.1L2042.6 1035.5L2043.1 1032.9L2043.6 1030.3L2044.1 1027.7L2044.6 1025.1L2045.1 1022.5L2045.6 1020L2046.2 1017.4L2046.7 1014.9L2047.2 1012.3L2047.8 1009.8L2048.4 1007.3L2049 1004.9L2049.6 1002.4L2050.3 1000L2050.9 997.7L2051.7 995.3L2052.4 993L2053.2 990.8L2054 988.6L2054.9 986.4L2055.8 984.3L2056.8 982.2L2057.9 979.9L2059.2 977.6L2060.6 975.3L2062.1 972.8L2063.7 970.4L2065.5 967.9L2067.3 965.4L2069.1 963L2071.1 960.6L2073.1 958.3L2075.1 956.1L2077.2 954L2079.3 952L2081.4 950.2L2083.5 948.5L2085.6 947L2087.7 945.8L2089.7 944.8L2091.7 944L2093.6 943.5L2095.5 943.3L2097.3 943.3L2099.3 943.7L2101.2 944.2L2103.2 945L2105.2 946L2107.2 947.2L2109.3 948.5L2111.4 950L2113.4 951.6L2115.5 953.4L2117.5 955.3L2119.5 957.2L2121.5 959.2L2123.4 961.3L2125.3 963.5L2127.1 965.6L2128.9 967.8L2130.6 970L2132.2 972.1L2133.7 974.2L2135.2 976.2L2136.5 978.2L2137.7 980.2L2138.9 982.1L2140 984.2L2141.1 986.3L2142.1 988.5L2143.2 990.7L2144.1 993L2145.1 995.3L2146 997.7L2146.9 1000L2147.7 1002.4L2148.6 1004.8L2149.4 1007.2L2150.2 1009.6L2151 1012L2151.8 1014.3L2152.5 1016.7L2153.3 1019L2154 1021.4L2154.7 1023.7L2155.4 1026.1L2156.1 1028.5L2156.7 1030.8L2157.4 1033.2L2158 1035.6L2158.6 1038L2159.3 1040.4L2159.9 1042.8L2160.5 1045.2L2161.1 1047.6L2161.8 1050L2162.4 1052.4L2163.1 1054.8L2163.8 1057.1L2164.4 1059.5L2165.1 1061.9L2165.8 1064.3L2166.5 1066.6L2167.1 1069L2167.8 1071.4L2168.5 1073.8L2169.2 1076.1L2169.8 1078.5L2170.5 1080.9L2171.2 1083.3L2171.8 1085.7L2172.5 1088L2173.1 1090.4L2173.7 1092.8L2174.3 1095.2L2174.9 1097.6L2175.5 1100L2176.1 1102.4L2176.7 1104.8L2177.3 1107.2L2177.9 1109.6L2178.5 1112L2179.1 1114.4L2179.7 1116.8L2180.2 1119.2L2180.8 1121.6L2181.3 1124L2181.9 1126.5L2182.6 1124L2183.3 1121.8L2183.9 1119.7L2184.5 1117.6L2185.2 1115.5L2185.8 1113.5L2186.4 1111.4L2187 1109.3L2187.7 1107.2L2188.3 1105.2L2188.9 1103.1L2189.5 1101L2190.1 1098.9L2190.7 1096.8L2191.3 1094.7L2191.9 1092.6L2192.5 1090.5L2193.1 1088.4L2193.7 1086.3L2194.3 1084.2L2194.9 1082.1L2195.4 1080L2196 1077.9L2196.6 1075.8L2197.2 1073.7L2197.8 1071.6L2198.4 1069.3L2199.1 1066.8L2199.7 1064.4L2200.4 1062L2201.1 1059.5L2201.7 1057.1L2202.4 1054.6L2203.1 1052.2L2203.8 1049.7L2204.4 1047.3L2205.1 1044.9L2205.8 1042.4L2206.5 1040L2207.2 1037.5L2207.8 1035.1L2208.5 1032.7L2209.2 1030.2L2209.9 1027.8L2210.6 1025.3L2211.2 1022.9L2211.9 1020.5L2212.6 1018L2213.3 1015.6L2213.9 1013.1L2214.6 1010.7L2215.3 1008.2L2215.9 1005.8L2216.6 1003.4L2217.2 1000.9L2217.9 998.5L2218.5 996L2219.2 993.6L2219.8 991.1L2220.5 988.7L2221.1 986.2L2221.7 983.8L2222.3 981.3L2222.9 978.9L2223.5 976.4L2224.1 973.9L2224.7 971.5L2225.3 969L2225.9 966.6L2226.4 964.1L2227 961.6L2227.6 959.2L2228.1 956.7L2228.7 954.2L2229.3 951.8L2229.8 949.3L2230.4 946.8L2230.9 944.4L2231.5 941.9L2232 939.4L2232.6 937L2233.1 934.5L2233.7 932L2234.3 929.6L2234.9 927.1L2235.4 924.6L2236 922.2L2236.6 919.7L2237.2 917.3L2237.8 914.8L2238.4 912.4L2239 909.9L2239.7 907.4L2240.3 905L2241 902.6L2241.6 900.1L2242.3 897.7L2243 895.2L2243.7 892.8L2244.4 890.4L2245.1 887.9L2245.8 885.5L2246.5 883.1"/>
<path stroke="#00FFFF" stroke-width="8.9" d="M221.3 561L223.7 560.3L226.1 559.7L228.5 559L231 558.4L233.4 557.7L235.8 557L238.2 556.4L240.6 555.7L243 555L245.4 554.4L247.9 553.7L250.3 553.1L252.7 552.4L255.1 551.7L257.5 551.1L259.9 550.4L262.3 549.8L264.8 549.1L267.2 548.4L269.6 547.8L272 547.1L274.4 546.5L276.8 545.8L279.2 545.1L281.7 544.5L284.1 543.8L286.5 543.1L288.9 542.5L291.3 541.8L293.7 541.1L296.1 540.5L298.5 539.8L301 539.1L303.4 538.5L305.8 537.8L308.2 537.2L310.6 536.5L313 535.9L315.5 535.2L317.9 534.6L320.3 534L322.7 533.4L325.2 532.7L327.6 532.1L330 531.5L332.4 530.9L334.9 530.3L337.3 529.7L339.7 529.1L342.2 528.5L344.6 527.9L347 527.3L349.5 526.7L351.9 526.1L354.3 525.5L356.8 525L359.2 524.4L361.7 523.8L364.1 523.3L366.5 522.8L369 522.2L371.4 521.7L373.9 521.2L376.4 520.8L378.8 520.3L381.3 519.9L383.8 519.5L386.3 519.1L388.8 518.6L391.2 518.2L393.7 517.7L396.1 517.2L398.5 516.6L400.9 515.9L403.3 515.2L405.6 514.3L407.9 513.4L410.2 512.4L412.5 511.3L414.8 510.3L417.1 509.2L419.4 508.2L421.7 507.2L424 506.2L426.3 505.2L428.6 504.2L430.9 503.1L433.2 502.1L435.5 501L437.7 499.9L440 498.9L442.3 497.8L444.6 496.7L446.9 495.7L449.2 494.7L451.5 493.7L453.8 492.7L456.1 491.7L458.4 490.8L460.8 489.9L463.1 489.1L465.5 488.3L467.8 487.6L470.2 486.9L472.6 486.3L475 485.7L477.4 485.2L479.9 484.7L482.3 484.2L484.8 483.7L487.3 483.3L489.8 482.9L492.2 482.4L494.7 482L497.2 481.5L499.7 481.1L502.1 480.6L504.6 480.2L507.1 479.7L509.5 479.3L512 478.8L514.5 478.4L516.9 477.9L519.4 477.4L521.8 476.8L524.2 476.2L526.6 475.5L528.9 474.7L531.3 474L533.7 473.1L536 472.3L538.4 471.4L540.7 470.4L543 469.5L545.4 468.6L547.7 467.6L550 466.6L552.4 465.7L554.7 464.8L557.1 463.9L559.4 463L561.8 462.1L564.1 461.3L566.5 460.6L568.9 459.9L571.3 459.2L573.7 458.6L576.2 457.9L578.6 457.2L581 456.5L583.5 455.8L585.9 455.1L588.4 454.5L590.8 454L593.3 453.5L595.8 453.1L598.2 452.9L600.7 452.7L603.2 452.7L605.6 452.9L608.1 453.2L610.6 453.6L613.1 454L615.6 454.5L618 454.9L620.5 455.3L623 455.7L625.5 456.1L628 456.6L630.5 457L633 457.4L635.5 457.8L638 458.1L640.4 458.3L642.8 458.4L645.2 458.3L647.6 457.9L650 457.3L652.3 456.5L654.7 455.5L657 454.4L659.3 453.3L661.6 452L663.9 450.8L666.2 449.5L668.5 448.3L670.7 447.2L673 446.2L675.2 445.1L677.4 444L679.6 442.8L681.9 441.7L684 440.5L686.2 439.3L688.4 438L690.6 436.8L692.8 435.5L694.9 434.3L697.1 433L699.3 431.7L701.4 430.4L703.6 429.1L705.7 427.8L707.9 426.6L710 425.3L712.2 424L714.4 422.8L716.5 421.5L718.7 420.3L720.9 419L723.1 417.8L725.3 416.6L727.5 415.3L729.6 414.1L731.8 412.8L734 411.5L736.1 410.2L738.3 408.9L740.5 407.7L742.7 406.4L744.8 405.1L747 403.9L749.2 402.6L751.4 401.4L753.6 400.2L755.8 399L758 397.8L760.2 396.7L762.5 395.6L764.7 394.5L767 393.5L769.2 392.5L771.5 391.6L773.8 390.6L776.1 389.7L778.4 388.7L780.8 387.7L783.1 386.7L785.5 385.7L787.8 384.8L790.2 383.8L792.6 382.9L794.9 382L797.3 381.1L799.7 380.3L802.1 379.5L804.6 378.8L807 378.1L809.4 377.5L811.8 377L814.3 376.6L816.7 376.2L819.2 375.9L821.6 375.8L824.1 375.6L826.6 375.5L829.1 375.4L831.7 375.3L834.1 375.3L836.6 375.3L839.1 375.5L841.6 375.9L844 376.3L846.5 376.8L849 377.5L851.4 378.2L853.9 379L856.3 379.8L858.7 380.7L861.1 381.7L863.4 382.6L865.8 383.5L868.1 384.5L870.3 385.4L872.5 386.3L874.8 387.3L877 388.4L879.2 389.5L881.4 390.7L883.6 391.9L885.7 393.1L887.9 394.5L890 395.8L892.2 397.2L894.3 398.7L896.4 400.2L898.5 401.7L900.5 403.2L902.5 404.8L904.6 406.4L906.5 408.1L908.5 409.7L910.4 411.4L912.3 413L914.2 414.7L916 416.4L917.8 418.1L919.6 419.8L921.3 421.5L923 423.3L924.6 425.2L926.2 427.1L927.7 429.1L929.1 431.2L930.6 433.2L932 435.3L933.5 437.4L934.9 439.5L936.4 441.6L937.9 443.6L939.5 445.5L941.2 447.4L942.9 449.2L944.6 450.9L946.4 452.7L948.3 454.4L950.2 456.1L952 457.7L953.9 459.4L955.7 461.2L957.5 462.9L959.3 464.8L961.1 466.5L962.9 468.2L964.8 469.7L966.9 471.1L969 472.3L971.2 473.5L973.4 474.6L975.7 475.7L978 476.7L980.4 477.7L982.7 478.7L985 479.8L987.3 480.9L989.5 482.1L991.6 483.4L993.7 484.7L995.7 486L997.8 487.4L999.9 488.8L1002 490.2L1004 491.7L1006.1 493.1L1008.1 494.6L1010.1 496.1L1012.1 497.7L1014.1 499.3L1016.1 500.8L1018.1 502.5L1020 504.1L1022 505.7L1023.9 507.4L1025.8 509.1L1027.7 510.8L1029.5 512.5L1031.3 514.2L1033.1 515.9L1034.9 517.7L1036.7 519.4L1038.4 521.2L1040.1 523L1041.7 524.8L1043.4 526.6L1044.9 528.5L1046.5 530.4L1048 532.4L1049.5 534.4L1051 536.4L1052.4 538.5L1053.9 540.5L1055.3 542.6L1056.7 544.7L1058.1 546.8L1059.6 548.9L1061 551L1062.4 553.1L1063.8 555.2L1065.3 557.2L1066.7 559.3L1068.2 561.3L1069.7 563.3L1071.2 565.3L1072.7 567.3L1074.2 569.3L1075.8 571.3L1077.3 573.3L1078.8 575.2L1080.3 577.2L1081.9 579.2L1083.4 581.2L1084.9 583.2L1086.5 585.2L1088 587.2L1089.5 589.1L1091 591.1L1092.5 593.1L1094 595.1L1095.5 597.1L1097 599.1L1098.5 601.2L1100 603.2L1101.4 605.2L1102.9 607.3L1104.3 609.3L1105.7 611.4L1107.1 613.5L1108.5 615.6L1109.9 617.7L1111.2 619.8L1112.6 621.9L1114 624L1115.4 626L1116.8 628.1L1118.2 630.2L1119.7 632.2L1121.1 634.2L1122.6 636.2L1124.1 638.2L1125.7 640.2L1127.3 642.1L1128.8 644L1130.5 646L1132.1 647.9L1133.7 649.8L1135.4 651.6L1137.1 653.5L1138.8 655.3L1140.5 657.2L1142.2 659L1144 661.1L1145.8 663.3L1147.6 665.5L1149.4 667.8L1151.3 670L1153.1 672L1155 673.7L1156.8 675.1L1158.7 676L1160.5 676.5L1162.4 676.3L1164.2 675.6L1166.1 674.4L1168 672.9L1169.9 671L1171.8 668.9L1173.7 666.7L1175.5 664.4L1177.3 662.2L1179 660.1L1180.7 658.2L1182.3 656.4L1183.9 654.5L1185.5 652.6L1187.1 650.6L1188.7 648.7L1190.2 646.7L1191.7 644.7L1193.1 642.6L1194.6 640.5L1196 638.5L1197.3 636.3L1198.7 634.2L1200 632L1162.5 674.5L1164 672.4L1165.5 670.4L1167 668.4L1168.5 666.4L1170 664.4L1171.5 662.4L1173.1 660.4L1174.6 658.4L1176.2 656.5L1177.8 654.5L1179.3 652.5L1180.9 650.6L1182.5 648.7L1184.1 646.7L1185.7 644.8L1187.3 642.9L1189 641L1190.6 639.1L1192.2 637.2L1193.9 635.3L1195.5 633.5L1197.2 631.6L1198.9 629.7L1200.5 627.9L1202.2 626L1203.9 624.2L1205.6 622.3L1207.3 620.5L1209 618.7L1210.7 616.9L1212.4 615L1214.1 613.2L1215.8 611.4L1217.6 609.6L1219.3 607.8L1221 606L1222.7 604.2L1224.5 602.4L1226.2 600.6L1228 598.8L1229.7 597L1231.5 595.2L1233.4 593.4L1235.2 591.8L1237.1 590.2L1239.1 588.7L1241.1 587.3L1243.1 585.9L1245.3 584.7L1247.5 583.4L1249.7 582.2L1251.9 581.1L1254.2 580L1256.5 578.9L1258.7 577.8L1261 576.7L1263.3 575.4L1265.6 575L1268 575.2L1270.5 575.5L1273.1 575.9L1275.6 576.5L1278.1 577.2L1280.5 577.9L1282.8 578.6L1285 579.4L1287.3 580.4L1289.5 581.6L1291.6 583L1293.8 584.4L1295.9 586L1297.9 587.6L1299.9 589.3L1301.7 591.1L1303.6 592.8L1305.3 594.6L1306.9 596.3L1308.5 598.1L1310 600.1L1311.4 602.1L1312.8 604.2L1314.2 606.3L1315.6 608.5L1316.9 610.7L1318.1 612.9L1319.4 615.1L1320.6 617.3L1321.9 619.5L1323.1 621.7L1324.3 623.9L1325.5 626L1326.7 628.2L1327.9 630.4L1329.1 632.6L1330.3 634.9L1331.5 637.1L1332.6 639.3L1333.7 641.6L1334.9 643.8L1336 646.1L1337.1 648.3L1338.1 650.6L1339.2 652.9L1340.2 655.2L1341.3 657.5L1342.3 659.8L1343.2 662.1L1344.2 664.4L1345.1 666.7L1346 669L1346.9 671.3L1347.7 673.6L1348.6 676L1349.4 678.3L1350.2 680.7L1351 683L1351.7 685.4L1352.5 687.8L1353.2 690.2L1354 692.6L1354.7 695L1355.4 697.4L1356.1 699.8L1356.8 702.2L1357.4 704.6L1358.1 707L1358.8 709.4L1359.5 711.9L1360.2 714.3L1360.8 716.7L1361.5 719.1L1362.2 721.5L1362.9 724L1363.6 726.4L1364.2 728.8L1365 731.2L1365.7 733.6L1366.4 736L1367.1 738.4L1367.9 740.8L1368.6 743.2L1369.3 745.6L1370 747.9L1370.8 750.3L1371.5 752.7L1372.2 755.1L1373 757.5L1373.7 759.9L1374.4 762.3L1375.2 764.7L1375.9 767.1L1376.6 769.5L1377.4 771.9L1378.1 774.3L1378.8 776.7L1379.6 779.1L1380.3 781.4L1381.1 783.8L1381.8 786.2L1382.6 788.6L1383.4 791L1384.1 793.4L1384.9 795.7L1385.7 798.1L1386.5 800.5L1387.3 802.8L1388.1 805.2L1388.9 807.6L1389.7 809.9L1390.5 812.3L1391.3 814.7L1392.2 817L1393 819.4L1393.8 821.7L1394.7 824.1L1395.5 826.4L1396.4 828.8L1397.2 831.1L1398.1 833.5L1399 835.8L1399.8 838.2L1400.7 840.5L1401.6 842.9L1402.5 845.2L1403.4 847.6L1404.2 849.9L1405.1 852.2L1406 854.6L1406.9 856.9L1407.8 859.3L1408.7 861.6L1409.6 863.9L1410.6 866.2L1411.5 868.6L1412.4 870.9L1413.3 873.2L1414.2 875.6L1415.1 877.9L1416.1 880.2L1417 882.5L1417.9 884.8L1418.9 887.2L1419.8 889.5L1420.8 891.8L1421.7 894.1L1422.7 896.4L1423.7 898.7L1424.6 901L1425.6 903.3L1426.6 905.6L1427.5 907.9L1428.5 910.2L1429.5 912.5L1430.5 914.8L1431.5 917.1L1432.5 919.4L1433.5 921.7L1434.5 924L1435.5 926.3L1436.5 928.6L1437.5 930.9L1438.5 933.2L1439.5 935.5L1440.5 937.8L1441.5 940.1L1442.5 942.3L1443.6 944.6L1444.6 946.9L1445.6 949.2L1446.7 951.4L1447.7 953.7L1448.8 956L1449.8 958.3L1450.9 960.5L1452 962.8L1453 965L1454.1 967.3L1455.2 969.6L1456.2 971.8L1457.3 974.1L1458.4 976.3L1459.5 978.6L1460.5 980.9L1461.6 983.1L1462.7 985.4L1463.8 987.6L1464.9 989.9L1465.9 992.1L1467 994.4L1468.1 996.7L1469.2 998.9L1470.2 1001.2L1471.3 1003.4L1472.4 1005.7L1473.4 1008L1474.5 1010.2L1475.6 1012.5L1476.6 1014.8L1477.7 1017L1478.7 1019.3L1479.7 1021.6L1480.8 1023.9L1481.8 1026.2L1482.8 1028.4L1483.8 1030.7L1484.9 1033L1485.9 1035.3L1486.9 1037.6L1487.9 1039.9L1488.9 1042.1L1489.9 1044.4L1490.9 1046.7L1492 1049L1493 1051.3L1494 1053.6L1495 1055.9L1496 1058.2L1497 1060.5L1498 1062.8L1499 1065L1500 1067.3L1501 1069.6L1502 1071.9L1503 1074.2L1504 1076.5L1505.1 1078.8L1506.1 1081.1L1507.1 1083.5L1508.1 1086.1L1509.1 1088.8L1510.1 1091.6L1511.1 1094.5L1512.1 1097.4L1513.1 1100.4L1514.1 1103.5L1515.1 1106.5L1516.1 1109.6L1517.1 1112.6L1518.1 1115.6L1519.1 1118.5L1520.1 1121.3L1521.2 1124.1L1522.2 1126.7L1523.2 1129.2L1524.2 1131.6L1525.2 1133.7L1526.2 1135.7L1527.2 1137.5L1528.3 1139.1L1529.3 1140.4L1530.3 1141.5L1531.3 1142.3L1532.4 1142.8L1533.4 1143L1534.5 1142.5L1535.5 1141.1L1536.6 1138.9L1537.7 1136.2L1538.8 1133.2L1539.8 1130.2L1540.9 1127.4L1541.9 1125.1L1543 1122.8L1544 1120.5L1545 1118.2L1546 1115.9L1547 1113.6L1548 1111.4L1549 1109.1L1550 1106.8L1551 1104.5L1552 1102.2L1553 1099.9L1554 1097.6L1555 1095.3L1556 1093L1534.3 1140.6L1535.1 1138.2L1535.8 1135.9L1536.6 1133.5L1537.4 1131.1L1538.1 1128.7L1538.9 1126.3L1539.6 1123.9L1540.4 1121.5L1541.1 1119.1L1541.8 1116.7L1542.6 1114.4L1543.3 1112L1544 1109.6L1544.7 1107.2L1545.4 1104.8L1546.2 1102.4L1546.9 1100L1547.6 1097.6L1548.3 1095.2L1548.9 1092.8L1549.6 1090.3L1550.3 1087.9L1551 1085.5L1551.6 1083.1L1552.3 1080.7L1553 1078.3L1553.6 1075.9L1554.2 1073.5L1554.9 1071L1555.5 1068.6L1556.1 1066.2L1556.7 1063.8L1557.3 1061.3L1557.9 1058.9L1558.5 1056.5L1559.1 1054L1559.7 1051.6L1560.3 1049.2L1560.8 1046.7L1561.4 1044.3L1562 1041.9L1562.6 1039.4L1563.2 1037L1563.8 1034.6L1564.4 1032.1L1565 1029.7L1565.6 1027.3L1566.2 1024.9L1566.9 1022.4L1567.5 1020L1568.1 1017.6L1568.8 1015.2L1569.5 1012.8L1570.1 1010.4L1570.8 1008L1571.5 1005.6L1572.2 1003.1L1572.9 1000.7L1573.6 998.3L1574.3 995.9L1575 993.5L1575.7 991.1L1576.4 988.7L1577.1 986.3L1577.8 983.9L1578.6 981.5L1579.3 979.1L1580 976.7L1580.7 974.3L1581.4 971.9L1582.1 969.5L1582.8 967.1L1583.5 964.7L1584.2 962.3L1584.9 959.9L1585.6 957.5L1586.3 955.1L1586.9 952.7L1587.6 950.3L1588.2 947.9L1588.9 945.4L1589.5 943L1590.1 940.6L1590.8 938.2L1591.4 935.8L1592 933.3L1592.6 930.9L1593.2 928.5L1593.7 926L1594.3 923.6L1594.9 921.2L1595.4 918.7L1596 916.3L1596.6 913.9L1597.1 911.4L1597.7 909L1598.2 906.5L1598.8 904.1L1599.3 901.6L1599.9 899.2L1600.4 896.8L1601 894.3L1601.5 891.9L1602.1 889.4L1602.6 887L1603.2 884.5L1603.7 882.1L1604.3 879.7L1604.8 877.2L1605.4 874.8L1606 872.3L1606.5 869.9L1607.1 867.5L1607.7 865L1608.3 862.6L1608.8 860.2L1609.4 857.7L1610 855.3L1610.6 852.9L1611.2 850.4L1611.8 848L1612.4 845.6L1612.9 843.1L1613.5 840.7L1614.1 838.3L1614.7 835.8L1615.3 833.4L1615.9 831L1616.5 828.6L1617.1 826.1L1617.6 823.7L1618.2 821.2L1618.8 818.8L1619.4 816.4L1619.9 813.9L1620.5 811.5L1621.1 809.1L1621.6 806.6L1622.2 804.2L1622.7 801.7L1623.3 799.3L1623.8 796.9L1624.4 794.4L1624.9 792L1625.4 789.5L1626 787.1L1626.5 784.6L1627 782.2L1627.5 779.7L1628.1 777.3L1628.6 774.9L1629.1 772.4L1629.6 770L1630.1 767.5L1630.7 765.1L1631.2 762.6L1631.7 760.2L1632.2 757.7L1632.8 755.3L1633.3 752.8L1633.8 750.4L1634.3 747.9L1634.9 745.5L1635.4 743L1635.9 740.6L1636.5 738.1L1637 735.7L1637.5 733.3L1638.1 730.8L1638.6 728.4L1639.2 725.9L1639.7 723.5L1640.3 721L1640.8 718.6L1641.4 716.2L1641.9 713.7L1642.4 711.3L1643 708.8L1643.5 706.4L1644.1 704L1644.6 701.5L1645.2 699.1L1645.8 696.6L1646.3 694.2L1646.9 691.8L1647.4 689.3L1648 686.9L1648.5 684.4L1649.1 682L1649.7 679.6L1650.2 677.1L1650.8 674.7L1651.4 672.2L1651.9 669.8L1652.5 667.4L1653.1 664.9L1653.7 662.5L1654.2 660.1L1654.8 657.6L1655.4 655.2L1655.9 652.7L1656.5 650.3L1657.1 647.9L1657.6 645.4L1658.2 643L1658.8 640.6L1659.4 638.1L1659.9 635.7L1660.5 633.2L1661.1 630.8L1661.7 628.4L1662.3 626L1662.9 623.5L1663.5 621.1L1664.1 618.7L1664.7 616.2L1665.3 613.8L1666 611.4L1666.6 609L1667.2 606.6L1667.9 604.1L1668.5 601.7L1669.2 599.3L1669.9 596.9L1670.6 594.5L1671.3 592.1L1672 589.7L1672.8 587.3L1673.5 585L1674.3 582.6L1675.1 580.2L1675.8 577.8L1676.6 575.4L1677.4 573L1678.2 570.7L1679 568.3L1679.7 565.9L1680.5 563.5L1681.2 561.1L1682 558.7L1682.7 556.3L1683.4 553.9L1684.1 551.5L1684.7 549.1L1685.4 546.7L1686 544.3L1686.6 541.9L1687.3 539.5L1687.9 537L1688.5 534.6L1689.1 532.2L1689.7 529.7L1690.2 527.3L1690.8 524.9L1691.4 522.4L1692 520L1692.5 517.6L1693.1 515.1L1693.6 512.7L1694.2 510.2L1694.7 507.8L1695.3 505.4L1695.8 502.9L1696.4 500.5L1697 498L1697.5 495.6L1698.1 493.1L1698.6 490.7L1699.2 488.3L1699.7 485.8L1700.3 483.4L1700.9 480.9L1701.4 478.5L1702 476.1L1702.6 473.6L1703.2 471.2L1703.8 468.8L1704.4 466.3L1705 463.9L1705.6 461.5L1706.2 459.1L1706.8 456.6L1707.4 454.2L1708 451.8L1708.6 449.3L1709.2 446.9L1709.9 444.5L1710.5 442.1L1711.1 439.6L1711.7 437.2L1712.4 434.8L1713 432.4L1713.7 430L1714.4 427.6L1715 425.2L1715.7 422.7L1716.4 420.3L1717.1 417.9L1717.8 415.5L1718.5 413.1L1719.2 410.7L1720 408.3L1720.7 405.9L1721.4 403.5L1722.2 401.2L1723 398.8L1723.7 396.4L1724.5 394L1725.3 391.7L1726.1 389.3L1727 386.9L1727.8 384.6L1728.6 382.2L1729.5 379.9L1730.4 377.5L1731.3 375.2L1732.2 372.8L1733.1 370.5L1734.1 368.2L1735 365.9L1736 363.6L1737 361.3L1738 359L1739.1 356.7L1740.1 354.5L1741.2 352.2L1742.3 349.9L1743.5 347.7L1744.7 345.5L1745.9 343.3L1747.1 341.2L1748.4 339L1749.7 336.9L1751.1 334.8L1752.6 332.7L1754.1 330.7L1755.6 328.8L1757.3 326.9L1759 325L1760.8 323.2L1762.7 321.5L1764.7 320.3L1766.9 319.1L1769.3 318L1771.7 317.1L1774.2 316.4L1776.6 316.2L1779 316.5L1781.4 317.1L1783.9 318.1L1786.2 319.2L1788.4 320.3L1790.4 321.6L1792.3 323.3L1794.1 325.1L1795.8 327L1797.5 328.9L1799 330.8L1800.5 332.9L1802 334.9L1803.4 337L1804.7 339.2L1806 341.3L1807.2 343.5L1808.4 345.6L1809.6 347.9L1810.7 350.1L1811.8 352.3L1812.9 354.6L1814 356.9L1815 359.2L1816.1 361.5L1817.1 363.7L1818 366L1819 368.3L1819.9 370.7L1820.9 373L1821.8 375.3L1822.7 377.7L1823.6 380L1824.4 382.4L1825.3 384.7L1826.1 387.1L1826.9 389.4L1827.7 391.8L1828.5 394.2L1829.3 396.6L1830.1 398.9L1830.9 401.3L1831.6 403.7L1832.4 406.1L1833.1 408.5L1833.8 410.9L1834.5 413.3L1835.2 415.7L1835.9 418.1L1836.6 420.5L1837.3 422.9L1838 425.3L1838.7 427.7L1839.3 430.1L1840 432.5L1840.7 435L1841.3 437.4L1842 439.8L1842.6 442.2L1843.2 444.6L1843.9 447.1L1844.5 449.5L1845.1 451.9L1845.7 454.3L1846.3 456.8L1846.9 459.2L1847.5 461.6L1848.1 464.1L1848.7 466.5L1849.3 468.9L1849.8 471.4L1850.4 473.8L1850.9 476.2L1851.4 478.7L1852 481.1L1852.5 483.6L1853 486L1853.5 488.5L1854 490.9L1854.5 493.4L1855 495.8L1855.5 498.3L1856 500.7L1856.5 503.2L1857 505.6L1857.5 508.1L1857.9 510.6L1858.4 513L1858.9 515.5L1859.4 517.9L1859.8 520.4L1860.3 522.8L1860.8 525.3L1861.2 527.8L1861.7 530.2L1862.2 532.7L1862.6 535.1L1863.1 537.6L1863.6 540.1L1864.1 542.5L1864.5 545L1865 547.4L1865.5 549.9L1866 552.3L1866.4 554.8L1866.9 557.3L1867.4 559.7L1867.9 562.2L1868.4 564.6L1868.9 567.1L1869.4 569.5L1869.8 572L1870.3 574.4L1870.8 576.9L1871.3 579.4L1871.8 581.8L1872.3 584.3L1872.8 586.7L1873.2 589.2L1873.7 591.6L1874.2 594.1L1874.7 596.6L1875.2 599L1875.6 601.5L1876.1 603.9L1876.6 606.4L1877.1 608.8L1877.5 611.3L1878 613.8L1878.4 616.2L1878.9 618.7L1879.4 621.1L1879.8 623.6L1880.2 626.1L1880.7 628.5L1881.1 631L1881.6 633.5L1882 635.9L1882.4 638.4L1882.8 640.9L1883.2 643.3L1883.6 645.8L1884 648.3L1884.4 650.7L1884.8 653.2L1885.2 655.7L1885.6 658.1L1886 660.6L1886.4 663.1L1886.8 665.5L1887.1 668L1887.5 670.5L1887.9 673L1888.3 675.4L1888.6 677.9L1889 680.4L1889.3 682.9L1889.7 685.3L1890.1 687.8L1890.4 690.3L1890.8 692.8L1891.1 695.2L1891.5 697.7L1891.8 700.2L1892.2 702.7L1892.5 705.2L1892.9 707.6L1893.2 710.1L1893.6 712.6L1893.9 715.1L1894.3 717.6L1894.6 720L1894.9 722.5L1895.3 725L1895.6 727.5L1895.9 730L1896.3 732.4L1896.6 734.9L1896.9 737.4L1897.3 739.9L1897.6 742.4L1897.9 744.8L1898.3 747.3L1898.6 749.8L1898.9 752.3L1899.3 754.8L1899.6 757.3L1899.9 759.7L1900.2 762.2L1900.6 764.7L1900.9 767.2L1901.2 769.7L1901.6 772.1L1901.9 774.6L1902.2 777.1L1902.6 779.6L1902.9 782.1L1903.2 784.5L1903.5 787L1903.9 789.5L1904.2 792L1904.5 794.5L1904.9 796.9L1905.2 799.4L1905.6 801.9L1905.9 804.4L1906.2 806.9L1906.6 809.3L1906.9 811.8L1907.2 814.3L1907.5 816.8L1907.9 819.3L1908.2 821.8L1908.5 824.2L1908.8 826.7L1909.1 829.2L1909.5 831.7L1909.8 834.2L1910.1 836.7L1910.4 839.1L1910.7 841.6L1911 844.1L1911.3 846.6L1911.6 849.1L1912 851.6L1912.3 854.1L1912.6 856.5L1912.9 859L1913.2 861.5L1913.5 864L1913.8 866.5L1914.1 869L1914.4 871.5L1914.7 873.9L1915 876.4L1915.3 878.9L1915.6 881.4L1915.9 883.9L1916.2 886.4L1916.5 888.9L1916.8 891.4L1917.1 893.9L1917.4 896.3L1917.6 898.8L1917.9 901.3L1918.2 903.8L1918.5 906.3L1918.8 908.8L1919.1 911.3L1919.4 913.8L1919.7 916.2L1920 918.7L1920.3 921.2L1920.6 923.7L1920.9 926.2L1921.2 928.7L1921.5 931.2L1921.8 933.7L1922.1 936.1L1922.4 938.6L1922.7 941.1L1923 943.6L1923.3 946.1L1923.5 948.6L1923.8 951.1L1924.1 953.6L1924.4 956L1924.7 958.5L1925 961L1925.4 963.5L1925.7 966L1926 968.5L1926.3 971L1926.6 973.4L1926.9 975.9L1927.2 978.4L1927.5 980.9L1927.8 983.4L1928.1 985.9L1928.4 988.4L1928.7 990.8L1929.1 993.3L1929.4 995.8L1929.7 998.3L1930 1000.8L1930.3 1003.2L1930.7 1005.7L1931 1008.2L1931.3 1010.7L1931.6 1013.2L1932 1015.7L1932.3 1018.1L1932.6 1020.6L1933 1023.1L1933.3 1025.6L1933.6 1028L1934 1030.5L1934.3 1033L1934.7 1035.5L1935 1038L1935.3 1040.4L1935.7 1042.9L1936.1 1045.4L1936.4 1047.9L1936.8 1050.3L1937.1 1052.8L1937.5 1055.3L1937.8 1057.7L1938.2 1060.2L1938.6 1062.7L1939 1065.2L1939.3 1067.6L1939.7 1070.1L1940.1 1072.6L1940.5 1075L1940.9 1077.5L1941.2 1080L1941.6 1082.4L1942 1084.9L1942.4 1087.4L1942.8 1089.8L1943.2 1092.3L1943.6 1094.7L1944 1097.2L1944.4 1099.7L1944.9 1102.1L1945.3 1104.6L1945.7 1107.1L1946.1 1109.5L1946.6 1112L1947 1114.4L1947.4 1116.9L1947.9 1119.3L1948.3 1121.8L1948.8 1124.3L1949.2 1126.7L1949.7 1129.2L1950.2 1131.6L1950.6 1134.1L1951.1 1136.5L1951.6 1139L1952.1 1141.4L1952.6 1143.9L1953 1146.3L1953.5 1148.8L1954 1151.2L1954.5 1153.7L1955 1156.1L1955.5 1158.6L1956 1161L1956.6 1163.5L1957.1 1165.9L1957.6 1168.4L1958.1 1170.8L1958.6 1173.3L1959.2 1175.7L1959.7 1178.2L1960.2 1180.6L1960.8 1183.1L1961.3 1185.5L1961.9 1187.9L1962.4 1190.4L1962.9 1192.8L1963.5 1195.3L1964.1 1197.7L1964.6 1200.2L1965.2 1202.6L1965.7 1205L1966.3 1207.5L1966.9 1209.9L1967.4 1212.4L1968 1214.8L1968.6 1217.2L1969.2 1219.7L1969.7 1222.1L1970.3 1224.5L1970.9 1227L1971.5 1229.4L1972.1 1231.9L1972.7 1234.3L1973.3 1236.7L1973.9 1239.2L1974.5 1241.6L1975.1 1244L1975.7 1246.5L1976.3 1248.9L1976.9 1251.3L1977.5 1253.8L1978.1 1256.2L1978.7 1258.6L1979.3 1261.1L1979.9 1263.5L1980.5 1265.9L1981.1 1268.4L1981.7 1270.8L1982.4 1273.2L1983 1275.7L1983.6 1278.1L1984.2 1280.5L1984.9 1282.9L1985.5 1285.4L1986.1 1287.8L1986.4 1285.3L1986.8 1282.8L1987.1 1280.3L1987.4 1277.8L1987.8 1275.3L1988.2 1272.8L1988.5 1270.3L1988.9 1267.8L1989.3 1265.3L1989.7 1262.8L1990.1 1260.3L1990.5 1257.9L1990.9 1255.4L1991.3 1252.9L1991.8 1250.4L1992.2 1247.9L1992.6 1245.5L1993.1 1243L1993.5 1240.5L1994 1238L1994.5 1235.6L1994.9 1233.1L1995.4 1230.6L1995.9 1228.2L1996.4 1225.7L1996.9 1223.2L1997.4 1220.8L1997.9 1218.3L1998.4 1215.9L1998.9 1213.4L1999.4 1211L2000 1208.5L2000.5 1206L2001 1203.6L2001.6 1201.2L2002.1 1198.7L2002.7 1196.3L2003.2 1193.8L2003.8 1191.4L2004.3 1188.9L2004.9 1186.5L2005.5 1184.1L2006.1 1181.6L2006.7 1179.2L2007.2 1176.7L2007.8 1174.3L2008.4 1171.9L2009 1169.4L2009.6 1167L2010.2 1164.6L2010.8 1162.2L2011.5 1159.7L2012.1 1157.3L2012.7 1154.9L2013.3 1152.5L2013.9 1150L2014.6 1147.6L2015.2 1145.2L2015.8 1142.8L2016.5 1140.4L2017.1 1137.9L2017.8 1135.5L2018.4 1133.1L2019.1 1130.7L2019.7 1128.3L2020.4 1125.9L2021 1123.5L2021.7 1121.1L2022.3 1118.6L2023 1116.2L2023.7 1113.8L2024.3 1111.4L2025 1109L2025.7 1106.6L2026.3 1104.2L2027 1101.8L2027.7 1099.4L2028.4 1097L2029.1 1094.6L2029.9 1092.2L2030.7 1089.9L2031.6 1087.5L2032.4 1085.1L2033.3 1082.8L2034.1 1080.4L2034.9 1078L2035.8 1075.7L2036.5 1073.3L2037.3 1070.9L2038 1068.5L2038.7 1066.1L2039.4 1063.7L2040 1061.2L2040.6 1058.7L2041.2 1056.2L2041.7 1053.7L2042.3 1051.1L2042.8 1048.6L2043.3 1046L2043.8 1043.5L2044.3 1040.9L2044.8 1038.3L2045.3 1035.8L2045.8 1033.2L2046.3 1030.7L2046.8 1028.1L2047.3 1025.6L2047.8 1023.1L2048.3 1020.6L2048.9 1018.1L2049.5 1015.7L2050 1013.2L2050.7 1010.8L2051.3 1008.5L2052 1006.1L2052.7 1003.8L2053.4 1001.6L2054.2 999.4L2055 997.2L2055.8 995.1L2056.7 993L2057.7 991L2058.8 988.8L2060 986.6L2061.4 984.3L2062.9 981.9L2064.5 979.6L2066.1 977.2L2067.9 974.8L2069.7 972.5L2071.6 970.2L2073.6 968L2075.6 965.9L2077.6 963.9L2079.6 962.1L2081.7 960.4L2083.8 958.8L2085.8 957.5L2087.8 956.4L2089.8 955.5L2091.8 954.8L2093.7 954.4L2095.5 954.3L2097.3 954.5L2099.3 954.9L2101.2 955.6L2103.2 956.5L2105.2 957.6L2107.2 958.9L2109.3 960.3L2111.4 961.9L2113.4 963.7L2115.5 965.6L2117.5 967.5L2119.5 969.6L2121.5 971.7L2123.4 973.9L2125.3 976.2L2127.1 978.4L2128.9 980.7L2130.6 983L2132.2 985.2L2133.7 987.4L2135.2 989.5L2136.5 991.6L2137.7 993.6L2138.9 995.6L2140 997.8L2141.1 999.9L2142.1 1002.2L2143.2 1004.5L2144.1 1006.8L2145.1 1009.2L2146 1011.6L2146.9 1014L2147.7 1016.4L2148.6 1018.9L2149.4 1021.3L2150.2 1023.7L2151 1026.2L2151.8 1028.6L2152.5 1030.9L2153.3 1033.3L2154 1035.7L2154.7 1038.1L2155.4 1040.5L2156.1 1042.9L2156.7 1045.4L2157.4 1047.8L2158 1050.2L2158.6 1052.6L2159.3 1055.1L2159.9 1057.5L2160.5 1059.9L2161.1 1062.4L2161.8 1064.8L2162.4 1067.2L2163.1 1069.6L2163.8 1072L2164.4 1074.5L2165.1 1076.9L2165.8 1079.3L2166.5 1081.7L2167.1 1084.1L2167.8 1086.5L2168.5 1088.9L2169.2 1091.4L2169.8 1093.8L2170.5 1096.2L2171.2 1098.6L2171.8 1101L2172.5 1103.4L2173.1 1105.9L2173.7 1108.3L2174.3 1110.7L2174.9 1113.1L2175.5 1115.6L2176.1 1118L2176.7 1120.4L2177.3 1122.9L2177.9 1125.3L2178.5 1127.7L2179.1 1130.2L2179.7 1132.6L2180.2 1135.1L2180.8 1137.5L2181.3 1140L2181.9 1142.4L2182.6 1140L2183.3 1137.6L2184 1135.2L2184.8 1132.8L2185.5 1130.4L2186.2 1128L2186.9 1125.6L2187.6 1123.2L2188.3 1120.8L2189 1118.3L2189.7 1115.9L2190.4 1113.5L2191 1111.1L2191.7 1108.7L2192.4 1106.3L2193.1 1103.9L2193.8 1101.5L2194.4 1099.1L2195.1 1096.6L2195.8 1094.2L2196.4 1091.8L2197.1 1089.4L2197.8 1087L2198.4 1084.6L2199.1 1082.1L2199.8 1079.7L2200.4 1077.3L2201.1 1074.9L2201.7 1072.5L2202.4 1070.1L2203.1 1067.6L2203.7 1065.2L2204.4 1062.8L2205.1 1060.4L2205.8 1058L2206.4 1055.6L2207.1 1053.1L2207.8 1050.7L2208.5 1048.3L2209.2 1045.9L2209.8 1043.5L2210.5 1041.1L2211.2 1038.7L2211.9 1036.3L2212.6 1033.8L2213.2 1031.4L2213.9 1029L2214.6 1026.6L2215.3 1024.2L2215.9 1021.8L2216.6 1019.4L2217.3 1016.9L2217.9 1014.5L2218.6 1012.1L2219.2 1009.7L2219.9 1007.3L2220.5 1004.8L2221.2 1002.4L2221.8 1000L2222.5 997.6L2223.1 995.1L2223.7 992.7L2224.3 990.3L2224.9 987.9L2225.5 985.4L2226.1 983L2226.7 980.6L2227.3 978.1L2227.9 975.7L2228.4 973.2L2229 970.8L2229.6 968.4L2230.1 965.9L2230.7 963.5L2231.3 961L2231.8 958.6L2232.4 956.1L2232.9 953.7L2233.5 951.2L2234 948.8L2234.6 946.3L2235.1 943.9L2235.7 941.5L2236.3 939L2236.9 936.6L2237.4 934.1L2238 931.7L2238.6 929.3L2239.2 926.8L2239.8 924.4L2240.4 922L2241 919.5L2241.7 917.1L2242.3 914.7L2243 912.3L2243.6 909.9L2244.3 907.4L2245 905L2245.7 902.6L2246.4 900.2L2247.1 897.8L2247.8 895.4L2248.5 893.0"/>
<path stroke="#FF0000" stroke-width="8.9" d="M221.3 517.7L223.7 517L226.1 516.4L228.6 515.7L231 515.1L233.4 514.5L235.8 513.8L238.2 513.2L240.6 512.5L243.1 511.9L245.5 511.3L247.9 510.6L250.3 510L252.8 509.4L255.2 508.8L257.6 508.2L260 507.5L262.5 506.9L264.9 506.3L267.3 505.7L269.8 505.1L272.2 504.5L274.6 503.9L277 503.3L279.5 502.7L281.9 502.2L284.3 501.6L286.8 501L289.2 500.4L291.7 499.9L294.1 499.3L296.5 498.7L299 498.2L301.4 497.6L303.8 497L306.3 496.5L308.7 495.9L311.2 495.3L313.6 494.7L316 494.2L318.5 493.6L320.9 493L323.3 492.4L325.8 491.9L328.2 491.3L330.7 490.7L333.1 490.2L335.5 489.6L338 489L340.4 488.4L342.8 487.9L345.3 487.3L347.7 486.7L350.2 486.1L352.6 485.6L355 485L357.5 484.4L359.9 483.8L362.3 483.2L364.7 482.6L367.2 482L369.6 481.4L372 480.7L374.4 480.1L376.9 479.5L379.3 478.9L381.7 478.2L384.1 477.6L386.6 477L389 476.3L391.4 475.6L393.8 474.9L396.2 474.2L398.6 473.5L400.9 472.7L403.3 471.9L405.7 471L408 470.1L410.3 469.2L412.7 468.3L415 467.3L417.3 466.4L419.6 465.5L421.9 464.5L424.3 463.5L426.6 462.5L428.9 461.5L431.1 460.4L433.4 459.3L435.7 458.2L438 457L440.2 455.9L442.5 454.8L444.8 453.7L447.1 452.6L449.3 451.5L451.6 450.4L453.9 449.4L456.2 448.4L458.5 447.5L460.9 446.6L463.2 445.8L465.5 445.1L467.9 444.4L470.3 443.8L472.7 443.2L475.1 442.8L477.5 442.3L480 441.9L482.5 441.6L485 441.2L487.5 440.9L490 440.5L492.5 440.2L495 439.8L497.4 439.4L499.9 439L502.4 438.6L504.8 438.2L507.3 437.7L509.8 437.3L512.3 436.8L514.7 436.3L517.2 435.8L519.6 435.3L522 434.8L524.4 434.2L526.9 433.5L529.3 432.8L531.7 432.1L534 431.4L536.4 430.7L538.8 429.9L541.2 429.1L543.6 428.3L545.9 427.4L548.3 426.6L550.7 425.8L553 425L555.4 424.1L557.8 423.3L560.1 422.5L562.5 421.7L564.9 420.9L567.3 420.1L569.7 419.4L572.1 418.7L574.5 417.9L576.9 417L579.3 416.2L581.7 415.3L584.1 414.6L586.5 413.9L588.9 413.3L591.3 412.9L593.8 412.8L596.3 412.6L598.8 412.5L601.3 412.5L603.8 412.5L606.3 412.6L608.8 412.7L611.3 412.9L613.8 413.1L616.3 413.3L618.8 413.6L621.3 413.8L623.8 414.2L626.2 414.8L628.7 415.4L631.2 416L633.6 416.6L636.1 417L638.5 417.2L640.9 417.1L643.4 416.9L645.8 416.6L648.3 416.1L650.7 415.4L653.1 414.7L655.6 413.9L658 413.1L660.4 412.2L662.8 411.3L665.2 410.3L667.5 409.4L669.9 408.5L672.2 407.7L674.4 406.8L676.7 405.8L679 404.8L681.2 403.7L683.4 402.6L685.7 401.5L687.9 400.3L690.1 399.1L692.2 397.9L694.4 396.6L696.6 395.3L698.8 394L700.9 392.7L703.1 391.4L705.3 390.1L707.4 388.8L709.6 387.5L711.8 386.2L713.9 384.9L716.1 383.7L718.3 382.4L720.5 381.2L722.7 380L724.9 378.8L727 377.5L729.2 376.3L731.4 375L733.6 373.7L735.7 372.5L737.9 371.2L740.1 369.9L742.2 368.6L744.4 367.4L746.6 366.1L748.8 364.8L750.9 363.6L753.1 362.4L755.3 361.2L757.5 360L759.7 358.8L762 357.7L764.2 356.6L766.4 355.5L768.7 354.5L771 353.5L773.2 352.5L775.5 351.5L777.8 350.5L780.1 349.4L782.5 348.3L784.8 347.3L787.1 346.2L789.5 345.2L791.8 344.2L794.2 343.2L796.5 342.2L798.9 341.3L801.3 340.4L803.7 339.6L806.1 338.9L808.5 338.2L810.9 337.6L813.3 337.1L815.7 336.7L818.2 336.3L820.6 336.1L823.1 336L825.6 335.9L828.1 335.7L830.6 335.7L833.1 335.6L835.6 335.6L838 335.8L840.5 336.1L842.9 336.5L845.4 337.1L847.8 337.8L850.2 338.5L852.7 339.4L855.1 340.3L857.4 341.3L859.8 342.3L862.1 343.4L864.5 344.4L866.8 345.5L869 346.5L871.2 347.5L873.5 348.5L875.7 349.6L877.8 350.7L880 351.9L882.2 353.1L884.3 354.4L886.5 355.7L888.6 357.1L890.7 358.5L892.8 359.9L894.9 361.3L897 362.8L899 364.3L901.1 365.9L903.1 367.4L905.1 369L907.1 370.6L909.1 372.2L911 373.8L912.9 375.5L914.9 377.1L916.7 378.7L918.6 380.4L920.5 382L922.3 383.7L924 385.4L925.8 387.1L927.5 389L929.1 390.8L930.8 392.7L932.4 394.6L934 396.6L935.6 398.5L937.1 400.5L938.7 402.5L940.3 404.5L941.9 406.5L943.5 408.4L945.1 410.4L946.7 412.3L948.4 414.2L950 416L951.8 417.9L953.5 419.6L955.3 421.3L957.2 422.9L959.1 424.5L961.1 426.1L963.1 427.6L965.1 429.1L967.1 430.7L969 432.3L971 433.9L972.9 435.5L974.8 437.1L976.8 438.7L978.7 440.3L980.6 441.9L982.6 443.4L984.6 445L986.6 446.4L988.6 447.9L990.7 449.3L992.8 450.6L994.9 451.9L997.1 453.1L999.4 454.2L1001.6 455.4L1003.9 456.5L1006.2 457.6L1008.5 458.7L1010.7 459.8L1013 461L1015.2 462.2L1017.3 463.5L1019.3 464.8L1021.3 466.2L1023.2 467.7L1025.1 469.3L1026.9 471L1028.8 472.8L1030.5 474.5L1032.3 476.4L1034 478.3L1035.7 480.1L1037.4 482L1039 483.9L1040.7 485.8L1042.3 487.7L1043.9 489.6L1045.5 491.5L1047.1 493.4L1048.7 495.4L1050.3 497.3L1051.8 499.3L1053.4 501.3L1054.9 503.3L1056.4 505.3L1057.9 507.3L1059.4 509.3L1060.9 511.4L1062.3 513.4L1063.8 515.5L1065.2 517.5L1066.6 519.6L1068 521.7L1069.4 523.7L1070.7 525.8L1072 528L1073.3 530.1L1074.6 532.2L1075.9 534.4L1077.1 536.6L1078.4 538.8L1079.6 540.9L1080.9 543.1L1082.1 545.3L1083.4 547.4L1084.7 549.6L1086 551.7L1087.3 553.9L1088.6 556L1090 558.1L1091.3 560.2L1092.6 562.4L1094 564.5L1095.3 566.6L1096.6 568.8L1098 570.9L1099.3 573L1100.7 575.2L1102 577.3L1103.4 579.4L1104.8 581.5L1106.2 583.6L1107.6 585.7L1109 587.8L1110.4 589.8L1111.8 591.9L1113.3 593.9L1114.8 595.9L1116.3 597.9L1117.8 599.8L1119.4 601.8L1121 603.7L1122.6 605.5L1124.2 607.4L1125.9 609.2L1127.7 611L1129.5 612.7L1131.3 614.4L1133.1 616.2L1135 617.9L1136.9 619.5L1138.7 621.2L1140.6 622.9L1142.5 624.6L1144.4 626.2L1146.2 627.9L1148.1 629.5L1150.1 631.1L1152 632.7L1154 634.2L1156 635.7L1158 637.2L1160.1 638.6L1162.2 640L1164.3 641.3L1166.3 639.7L1168.2 638.1L1170.1 636.5L1172 634.9L1173.8 633.2L1175.6 631.4L1177.3 629.6L1179 627.8L1180.7 626L1182.4 624.1L1184.1 622.3L1185.7 620.4L1187.3 618.4L1188.9 616.5L1190.5 614.5L1192 612.6L1193.6 610.6L1195.1 608.6L1196.6 606.6L1198.1 604.6L1199.5 602.6L1200.9 600.5L1202.3 598.4L1203.6 596.2L1204.9 594L1206.2 591.8L1207.5 589.6L1208.7 587.3L1210 585L1211.2 582.8L1212.4 580.5L1213.7 578.3L1214.9 576L1216.2 573.8L1217.5 571.6L1218.8 569.5L1220.1 567.4L1221.5 565.3L1222.9 563.3L1224.3 561.4L1225.8 559.5L1227.4 557.7L1229 556L1230.7 554.3L1232.5 552.7L1234.4 551L1236.4 549.4L1238.4 547.8L1240.5 546.3L1242.7 544.9L1244.9 543.6L1247.2 542.5L1249.4 541.6L1251.7 540.9L1254.1 540.2L1256.6 539.6L1259.1 539.1L1261.6 538.8L1264.1 538.8L1266.6 539L1269.1 539.3L1271.6 539.7L1274.2 540.1L1276.6 540.7L1279.1 541.3L1281.4 541.9L1283.7 542.6L1285.9 543.4L1288.1 544.5L1290.2 545.8L1292.3 547.2L1294.4 548.8L1296.4 550.4L1298.4 552.1L1300.3 553.9L1302.2 555.6L1304 557.3L1305.8 559L1307.5 560.8L1309.2 562.6L1310.8 564.5L1312.5 566.4L1314.1 568.4L1315.6 570.4L1317.1 572.5L1318.5 574.6L1319.9 576.7L1321.2 578.8L1322.5 580.9L1323.7 583.1L1324.7 585.4L1325.8 587.6L1326.7 590L1327.7 592.3L1328.8 594.6L1329.9 596.8L1331 599L1332.2 601.2L1333.4 603.4L1334.6 605.6L1335.8 607.8L1337 610L1338.2 612.2L1339.3 614.5L1340.4 616.7L1341.4 619L1342.4 621.2L1343.4 623.5L1344.4 625.8L1345.4 628.1L1346.4 630.4L1347.3 632.7L1348.2 635.1L1349.2 637.4L1350.1 639.7L1351 642.1L1351.9 644.4L1352.8 646.7L1353.6 649.1L1354.5 651.4L1355.4 653.8L1356.2 656.2L1357 658.5L1357.9 660.9L1358.7 663.2L1359.5 665.6L1360.3 668L1361.1 670.3L1361.9 672.7L1362.7 675.1L1363.4 677.4L1364.2 679.8L1364.9 682.2L1365.6 684.6L1366.4 687L1367.1 689.4L1367.8 691.8L1368.5 694.2L1369.2 696.6L1369.9 699L1370.5 701.4L1371.2 703.8L1371.9 706.2L1372.6 708.6L1373.2 711L1373.9 713.5L1374.6 715.9L1375.3 718.3L1376 720.7L1376.6 723.1L1377.3 725.5L1378 727.9L1378.7 730.3L1379.4 732.7L1380.1 735.1L1380.8 737.5L1381.6 739.9L1382.3 742.3L1383 744.7L1383.7 747.1L1384.5 749.5L1385.2 751.9L1385.9 754.3L1386.6 756.7L1387.3 759.1L1388.1 761.5L1388.8 763.8L1389.5 766.2L1390.2 768.6L1391 771L1391.7 773.4L1392.4 775.8L1393.2 778.2L1393.9 780.6L1394.7 783L1395.4 785.4L1396.2 787.7L1397 790.1L1397.7 792.5L1398.5 794.9L1399.3 797.2L1400.1 799.6L1400.9 801.9L1401.8 804.3L1402.6 806.7L1403.4 809L1404.3 811.4L1405.1 813.7L1406 816L1406.9 818.4L1407.8 820.7L1408.7 823L1409.6 825.4L1410.5 827.7L1411.4 830L1412.3 832.3L1413.3 834.7L1414.2 837L1415.2 839.3L1416.1 841.6L1417.1 843.9L1418 846.2L1419 848.6L1419.9 850.9L1420.9 853.2L1421.8 855.5L1422.8 857.8L1423.8 860.1L1424.7 862.4L1425.7 864.7L1426.7 867L1427.6 869.3L1428.6 871.6L1429.6 874L1430.5 876.3L1431.5 878.6L1432.4 880.9L1433.4 883.2L1434.4 885.5L1435.3 887.8L1436.3 890.1L1437.3 892.4L1438.3 894.7L1439.2 897L1440.2 899.3L1441.2 901.6L1442.2 903.9L1443.2 906.2L1444.1 908.5L1445.1 910.8L1446.1 913.1L1447.1 915.4L1448.1 917.7L1449.1 920L1450.1 922.3L1451.1 924.6L1452.1 926.8L1453.1 929.1L1454.2 931.4L1455.2 933.7L1456.2 936L1457.2 938.3L1458.2 940.5L1459.3 942.8L1460.3 945.1L1461.4 947.4L1462.4 949.6L1463.5 951.9L1464.6 954.1L1465.6 956.4L1466.7 958.7L1467.8 960.9L1468.9 963.2L1470 965.4L1471 967.7L1472.1 969.9L1473.2 972.2L1474.3 974.4L1475.4 976.7L1476.5 978.9L1477.6 981.2L1478.7 983.4L1479.8 985.7L1480.9 987.9L1482 990.2L1483.1 992.4L1484.2 994.7L1485.3 996.9L1486.3 999.2L1487.4 1001.4L1488.5 1003.7L1489.6 1005.9L1490.6 1008.2L1491.7 1010.5L1492.7 1012.7L1493.8 1015L1494.8 1017.3L1495.8 1019.6L1496.8 1021.9L1497.8 1024.1L1498.8 1026.4L1499.8 1028.7L1500.8 1031L1501.8 1033.3L1502.7 1035.6L1503.7 1037.9L1504.7 1040.2L1505.6 1042.6L1506.6 1044.9L1507.5 1047.2L1508.5 1049.5L1509.4 1051.8L1510.4 1054.1L1511.3 1056.4L1512.3 1058.7L1513.2 1061.1L1514.2 1063.4L1515.2 1065.7L1516.1 1068L1517.1 1070.3L1518.1 1072.6L1519.1 1074.9L1520.1 1077.2L1521.1 1079.5L1522.1 1081.7L1523.1 1084L1524.1 1086.3L1525.2 1088.6L1526.2 1090.9L1527.2 1093.1L1528.3 1095.4L1529.3 1097.7L1530.4 1100.2L1531.5 1103.1L1532.5 1106L1533.6 1108.5L1534.7 1110.1L1535.8 1110.4L1537 1109.1L1538.1 1106.7L1539.3 1103.8L1540.5 1101L1541.7 1098.8L1542.9 1096.6L1544.1 1094.4L1545.3 1092.2L1546.5 1090L1536.4 1108.2L1537.3 1105.8L1538.2 1103.5L1539.1 1101.2L1540 1098.8L1540.9 1096.5L1541.8 1094.1L1542.6 1091.8L1543.4 1089.4L1544.2 1087L1545 1084.7L1545.8 1082.3L1546.5 1079.9L1547.3 1077.5L1548 1075.1L1548.6 1072.7L1549.3 1070.3L1550 1067.9L1550.6 1065.5L1551.3 1063.1L1551.9 1060.6L1552.5 1058.2L1553.1 1055.8L1553.7 1053.4L1554.3 1050.9L1554.9 1048.5L1555.5 1046L1556.1 1043.6L1556.7 1041.2L1557.3 1038.7L1557.9 1036.3L1558.4 1033.9L1559.1 1031.4L1559.7 1029L1560.3 1026.6L1560.9 1024.2L1561.5 1021.7L1562.2 1019.3L1562.8 1016.9L1563.5 1014.5L1564.2 1012.1L1564.8 1009.7L1565.5 1007.3L1566.2 1004.9L1566.9 1002.4L1567.6 1000L1568.3 997.6L1569 995.2L1569.7 992.8L1570.4 990.4L1571.1 988L1571.8 985.6L1572.5 983.2L1573.2 980.8L1573.9 978.4L1574.6 976L1575.3 973.6L1576 971.2L1576.7 968.8L1577.4 966.4L1578.1 964L1578.8 961.6L1579.4 959.2L1580.1 956.7L1580.8 954.3L1581.4 951.9L1582.1 949.5L1582.7 947.1L1583.3 944.7L1583.9 942.2L1584.5 939.8L1585.1 937.4L1585.7 935L1586.3 932.5L1586.9 930.1L1587.4 927.7L1588 925.2L1588.6 922.8L1589.1 920.3L1589.7 917.9L1590.2 915.5L1590.7 913L1591.3 910.6L1591.8 908.1L1592.3 905.7L1592.8 903.2L1593.4 900.8L1593.9 898.3L1594.4 895.9L1594.9 893.4L1595.5 891L1596 888.5L1596.5 886.1L1597 883.6L1597.6 881.2L1598.1 878.7L1598.6 876.3L1599.2 873.8L1599.7 871.4L1600.2 869L1600.8 866.5L1601.3 864.1L1601.9 861.6L1602.4 859.2L1603 856.7L1603.5 854.3L1604.1 851.9L1604.6 849.4L1605.1 847L1605.7 844.5L1606.2 842.1L1606.8 839.6L1607.3 837.2L1607.9 834.8L1608.4 832.3L1609 829.9L1609.5 827.4L1610.1 825L1610.6 822.6L1611.2 820.1L1611.7 817.7L1612.2 815.2L1612.8 812.8L1613.3 810.3L1613.9 807.9L1614.4 805.4L1614.9 803L1615.5 800.6L1616 798.1L1616.5 795.7L1617.1 793.2L1617.6 790.8L1618.1 788.3L1618.7 785.9L1619.2 783.4L1619.7 781L1620.2 778.5L1620.8 776.1L1621.3 773.6L1621.8 771.2L1622.3 768.8L1622.9 766.3L1623.4 763.9L1623.9 761.4L1624.4 759L1625 756.5L1625.5 754.1L1626 751.6L1626.6 749.2L1627.1 746.7L1627.6 744.3L1628.2 741.8L1628.7 739.4L1629.2 737L1629.8 734.5L1630.3 732.1L1630.9 729.6L1631.4 727.2L1631.9 724.7L1632.5 722.3L1633 719.9L1633.6 717.4L1634.1 715L1634.7 712.5L1635.2 710.1L1635.7 707.6L1636.3 705.2L1636.8 702.8L1637.4 700.3L1637.9 697.9L1638.5 695.4L1639.1 693L1639.6 690.6L1640.2 688.1L1640.7 685.7L1641.3 683.2L1641.8 680.8L1642.4 678.4L1642.9 675.9L1643.5 673.5L1644.1 671L1644.6 668.6L1645.2 666.2L1645.7 663.7L1646.3 661.3L1646.9 658.8L1647.4 656.4L1648 654L1648.5 651.5L1649.1 649.1L1649.7 646.6L1650.2 644.2L1650.8 641.8L1651.3 639.3L1651.9 636.9L1652.5 634.5L1653.1 632L1653.6 629.6L1654.2 627.1L1654.8 624.7L1655.3 622.3L1655.9 619.8L1656.5 617.4L1657.1 615L1657.7 612.5L1658.3 610.1L1658.9 607.7L1659.5 605.2L1660.1 602.8L1660.7 600.4L1661.3 598L1661.9 595.5L1662.6 593.1L1663.2 590.7L1663.9 588.3L1664.5 585.9L1665.2 583.5L1665.8 581L1666.5 578.6L1667.1 576.2L1667.8 573.8L1668.5 571.4L1669.1 569L1669.8 566.6L1670.5 564.2L1671.1 561.7L1671.8 559.3L1672.4 556.9L1673.1 554.5L1673.7 552.1L1674.4 549.7L1675 547.2L1675.7 544.8L1676.3 542.4L1677 540L1677.6 537.6L1678.2 535.1L1678.9 532.7L1679.5 530.3L1680.2 527.9L1680.8 525.5L1681.4 523L1682.1 520.6L1682.7 518.2L1683.3 515.8L1684 513.4L1684.6 510.9L1685.2 508.5L1685.9 506.1L1686.5 503.7L1687.1 501.2L1687.7 498.8L1688.4 496.4L1689 494L1689.6 491.5L1690.2 489.1L1690.8 486.7L1691.5 484.3L1692.1 481.8L1692.7 479.4L1693.3 477L1693.9 474.6L1694.5 472.1L1695.1 469.7L1695.7 467.3L1696.2 464.8L1696.8 462.4L1697.4 460L1697.9 457.5L1698.5 455.1L1699.1 452.6L1699.6 450.2L1700.2 447.8L1700.7 445.3L1701.3 442.9L1701.9 440.4L1702.4 438L1703 435.6L1703.6 433.1L1704.2 430.7L1704.8 428.3L1705.4 425.9L1706.1 423.4L1706.7 421L1707.3 418.6L1708 416.2L1708.6 413.8L1709.3 411.3L1709.9 408.9L1710.6 406.5L1711.2 404.1L1711.9 401.7L1712.6 399.3L1713.3 396.9L1714 394.5L1714.6 392.1L1715.3 389.7L1716.1 387.3L1716.8 384.9L1717.5 382.5L1718.2 380.1L1718.9 377.7L1719.7 375.3L1720.4 372.9L1721.2 370.5L1722 368.1L1722.8 365.7L1723.5 363.4L1724.4 361L1725.2 358.6L1726 356.3L1726.9 353.9L1727.7 351.6L1728.6 349.2L1729.5 346.9L1730.4 344.5L1731.3 342.2L1732.2 339.9L1733.2 337.6L1734.1 335.3L1735.1 333L1736.1 330.7L1737.1 328.4L1738.2 326.1L1739.2 323.8L1740.3 321.6L1741.4 319.3L1742.6 317.1L1743.7 314.9L1744.9 312.7L1746.2 310.5L1747.4 308.3L1748.7 306.2L1750.1 304.1L1751.5 302L1753 300L1754.5 298L1756.1 296L1757.7 294.1L1759.4 292.4L1761.2 290.6L1763.2 288.8L1765.2 287.3L1767.3 286.2L1769.5 285.2L1771.9 284.2L1774.4 283.5L1776.9 283.1L1779.3 283.1L1781.8 283.5L1784.2 284.3L1786.6 285.2L1788.9 286.2L1791 287.4L1793 289L1794.9 290.7L1796.7 292.5L1798.4 294.3L1800.1 296.2L1801.6 298.1L1803.2 300.1L1804.6 302.2L1806 304.3L1807.4 306.4L1808.7 308.5L1809.9 310.7L1811.2 312.8L1812.4 315.1L1813.5 317.3L1814.7 319.5L1815.8 321.7L1816.8 324L1817.9 326.3L1818.9 328.5L1820 330.8L1821 333.1L1821.9 335.4L1822.9 337.8L1823.8 340.1L1824.8 342.4L1825.7 344.7L1826.6 347.1L1827.5 349.4L1828.4 351.7L1829.2 354.1L1830.1 356.5L1830.9 358.8L1831.7 361.2L1832.5 363.6L1833.3 365.9L1834.1 368.3L1834.9 370.7L1835.6 373.1L1836.4 375.4L1837.1 377.8L1837.9 380.2L1838.6 382.6L1839.3 385L1840 387.4L1840.7 389.8L1841.4 392.2L1842.1 394.6L1842.8 397L1843.5 399.5L1844.1 401.9L1844.8 404.3L1845.5 406.7L1846.1 409.1L1846.8 411.5L1847.4 413.9L1848.1 416.4L1848.7 418.8L1849.4 421.2L1850 423.6L1850.6 426L1851.2 428.5L1851.8 430.9L1852.4 433.3L1853 435.8L1853.6 438.2L1854.2 440.6L1854.8 443.1L1855.4 445.5L1856 447.9L1856.5 450.4L1857.1 452.8L1857.7 455.2L1858.2 457.7L1858.8 460.1L1859.3 462.6L1859.9 465L1860.4 467.4L1861 469.9L1861.5 472.3L1862.1 474.8L1862.6 477.2L1863.1 479.7L1863.7 482.1L1864.2 484.5L1864.8 487L1865.3 489.4L1865.8 491.9L1866.4 494.3L1866.9 496.8L1867.4 499.2L1868 501.7L1868.5 504.1L1869 506.6L1869.5 509L1870 511.5L1870.6 513.9L1871.1 516.4L1871.6 518.8L1872.1 521.3L1872.6 523.7L1873.1 526.2L1873.5 528.6L1874 531.1L1874.5 533.5L1875 536L1875.4 538.5L1875.9 540.9L1876.3 543.4L1876.8 545.8L1877.2 548.3L1877.6 550.8L1878.1 553.2L1878.5 555.7L1878.9 558.2L1879.3 560.6L1879.7 563.1L1880.1 565.6L1880.5 568L1880.8 570.5L1881.2 573L1881.6 575.5L1882 577.9L1882.3 580.4L1882.7 582.9L1883.1 585.4L1883.4 587.8L1883.8 590.3L1884.1 592.8L1884.5 595.3L1884.8 597.8L1885.2 600.2L1885.5 602.7L1885.9 605.2L1886.2 607.7L1886.5 610.2L1886.9 612.6L1887.2 615.1L1887.6 617.6L1887.9 620.1L1888.3 622.6L1888.6 625L1889 627.5L1889.3 630L1889.7 632.5L1890 635L1890.4 637.4L1890.7 639.9L1891.1 642.4L1891.5 644.9L1891.8 647.3L1892.2 649.8L1892.6 652.3L1893 654.8L1893.3 657.2L1893.7 659.7L1894.1 662.2L1894.5 664.7L1894.8 667.1L1895.2 669.6L1895.6 672.1L1896 674.6L1896.3 677L1896.7 679.5L1897.1 682L1897.5 684.5L1897.8 686.9L1898.2 689.4L1898.6 691.9L1899 694.3L1899.3 696.8L1899.7 699.3L1900.1 701.8L1900.4 704.2L1900.8 706.7L1901.2 709.2L1901.5 711.7L1901.9 714.2L1902.3 716.6L1902.6 719.1L1903 721.6L1903.3 724.1L1903.7 726.5L1904.1 729L1904.4 731.5L1904.8 734L1905.1 736.4L1905.5 738.9L1905.8 741.4L1906.2 743.9L1906.5 746.4L1906.9 748.8L1907.2 751.3L1907.6 753.8L1907.9 756.3L1908.2 758.8L1908.6 761.2L1908.9 763.7L1909.2 766.2L1909.5 768.7L1909.8 771.2L1910.1 773.6L1910.4 776.1L1910.7 778.6L1911 781.1L1911.3 783.6L1911.6 786.1L1911.9 788.6L1912.2 791L1912.5 793.5L1912.8 796L1913.1 798.5L1913.4 801L1913.7 803.5L1914 805.9L1914.4 808.4L1914.7 810.9L1915 813.4L1915.3 815.9L1915.6 818.4L1915.9 820.8L1916.2 823.3L1916.5 825.8L1916.9 828.3L1917.2 830.8L1917.5 833.3L1917.8 835.7L1918.1 838.2L1918.4 840.7L1918.7 843.2L1919.1 845.7L1919.4 848.2L1919.7 850.6L1920 853.1L1920.3 855.6L1920.6 858.1L1921 860.6L1921.3 863L1921.6 865.5L1921.9 868L1922.2 870.5L1922.6 873L1922.9 875.5L1923.2 877.9L1923.5 880.4L1923.8 882.9L1924.2 885.4L1924.5 887.9L1924.8 890.4L1925.1 892.8L1925.4 895.3L1925.8 897.8L1926.1 900.3L1926.4 902.8L1926.7 905.2L1927.1 907.7L1927.4 910.2L1927.7 912.7L1928 915.2L1928.4 917.6L1928.7 920.1L1929 922.6L1929.3 925.1L1929.7 927.6L1930 930.1L1930.3 932.5L1930.6 935L1931 937.5L1931.3 940L1931.6 942.5L1932 944.9L1932.3 947.4L1932.6 949.9L1932.9 952.4L1933.3 954.9L1933.6 957.3L1933.9 959.8L1934.2 962.3L1934.6 964.8L1934.9 967.3L1935.2 969.8L1935.5 972.2L1935.9 974.7L1936.2 977.2L1936.5 979.7L1936.8 982.2L1937.1 984.7L1937.5 987.1L1937.8 989.6L1938.1 992.1L1938.4 994.6L1938.8 997.1L1939.1 999.5L1939.4 1002L1939.8 1004.5L1940.1 1007L1940.4 1009.5L1940.7 1011.9L1941.1 1014.4L1941.4 1016.9L1941.7 1019.4L1942.1 1021.9L1942.4 1024.4L1942.7 1026.8L1943.1 1029.3L1943.4 1031.8L1943.7 1034.3L1944.1 1036.8L1944.4 1039.2L1944.7 1041.7L1945.1 1044.2L1945.4 1046.7L1945.8 1049.2L1946.1 1051.6L1946.4 1054.1L1946.8 1056.6L1947.1 1059.1L1947.5 1061.5L1947.8 1064L1948.2 1066.5L1948.5 1069L1948.9 1071.5L1949.2 1073.9L1949.6 1076.4L1950 1078.9L1950.3 1081.4L1950.7 1083.8L1951.1 1086.3L1951.4 1088.8L1951.8 1091.3L1952.2 1093.7L1952.5 1096.2L1952.9 1098.7L1953.3 1101.2L1953.7 1103.6L1954 1106.1L1954.4 1108.6L1954.8 1111L1955.2 1113.5L1955.6 1116L1956 1118.5L1956.4 1120.9L1956.8 1123.4L1957.2 1125.9L1957.6 1128.3L1958.1 1130.8L1958.5 1133.3L1958.9 1135.7L1959.3 1138.2L1959.7 1140.7L1960.2 1143.1L1960.6 1145.6L1961 1148.1L1961.4 1150.5L1961.9 1153L1962.3 1155.5L1962.7 1157.9L1963.1 1160.4L1963.6 1162.9L1964 1165.3L1964.4 1167.8L1964.8 1170.3L1965.2 1172.7L1965.7 1175.2L1966.1 1177.7L1966.5 1180.2L1966.9 1182.6L1967.3 1185.1L1967.7 1187.6L1968.1 1190L1968.5 1192.5L1968.9 1195L1969.4 1197.5L1969.8 1199.9L1970.2 1202.4L1970.7 1204.8L1971.1 1207.3L1971.6 1209.8L1972 1212.2L1972.5 1214.7L1973 1217.1L1973.6 1219.6L1974.1 1222L1974.6 1224.4L1975.2 1226.9L1975.8 1229.3L1976.4 1231.7L1977 1234.2L1977.6 1236.6L1978.2 1239L1978.9 1241.4L1979.5 1243.8L1980.2 1246.3L1980.9 1248.7L1981.6 1251.1L1982.3 1253.5L1983 1255.9L1983.7 1258.3L1984.4 1260.7L1985 1258.3L1985.6 1255.8L1986.1 1253.4L1986.7 1250.9L1987.3 1248.5L1987.9 1246.1L1988.4 1243.6L1989 1241.2L1989.6 1238.7L1990.1 1236.3L1990.7 1233.9L1991.3 1231.4L1991.9 1229L1992.4 1226.5L1993 1224.1L1993.5 1221.6L1994.1 1219.2L1994.7 1216.8L1995.2 1214.3L1995.8 1211.9L1996.3 1209.4L1996.9 1207L1997.4 1204.5L1998 1202.1L1998.5 1199.6L1999.1 1197.2L1999.6 1194.8L2000.2 1192.3L2000.7 1189.9L2001.3 1187.4L2001.8 1185L2002.4 1182.5L2002.9 1180.1L2003.5 1177.6L2004 1175.2L2004.6 1172.7L2005.1 1170.3L2005.6 1167.8L2006.2 1165.4L2006.7 1162.9L2007.2 1160.5L2007.7 1158L2008.3 1155.6L2008.8 1153.1L2009.3 1150.7L2009.8 1148.2L2010.3 1145.8L2010.8 1143.3L2011.3 1140.8L2011.8 1138.4L2012.3 1135.9L2012.9 1133.5L2013.4 1131L2013.9 1128.6L2014.4 1126.1L2014.9 1123.7L2015.5 1121.2L2016 1118.8L2016.5 1116.3L2017.1 1113.9L2017.6 1111.4L2018.2 1109L2018.8 1106.5L2019.3 1104.1L2019.9 1101.7L2020.5 1099.2L2021.1 1096.8L2021.7 1094.4L2022.4 1091.9L2023 1089.5L2023.7 1087.1L2024.3 1084.7L2025 1082.3L2025.7 1079.8L2026.3 1077.4L2027 1075L2027.6 1072.6L2028.2 1070.1L2028.8 1067.7L2029.4 1065.3L2030 1062.8L2030.5 1060.4L2031.1 1057.9L2031.6 1055.5L2032.2 1053L2032.7 1050.6L2033.2 1048.1L2033.7 1045.7L2034.2 1043.2L2034.7 1040.7L2035.2 1038.3L2035.7 1035.8L2036.2 1033.4L2036.7 1030.9L2037.3 1028.4L2037.8 1026L2038.3 1023.5L2038.8 1021.1L2039.3 1018.6L2039.9 1016.2L2040.4 1013.7L2040.9 1011.3L2041.5 1008.8L2042.1 1006.4L2042.7 1004L2043.3 1001.5L2043.9 999.1L2044.5 996.7L2045.2 994.3L2045.8 991.9L2046.5 989.5L2047.2 987.1L2048 984.7L2048.7 982.3L2049.4 979.9L2050.2 977.5L2051 975.1L2051.8 972.7L2052.7 970.3L2053.5 968L2054.4 965.6L2055.3 963.3L2056.2 960.9L2057.2 958.6L2058.1 956.3L2059.1 954L2060.1 951.7L2061.2 949.4L2062.3 947L2063.4 944.7L2064.6 942.5L2065.9 940.3L2067.2 938.2L2068.6 936.2L2070.2 934.5L2071.9 932.7L2073.9 931L2075.9 929.4L2078.1 928L2080.3 926.8L2082.5 925.9L2084.9 925L2087.3 924.1L2089.8 923.4L2092.3 923.1L2094.7 923L2097.2 923.4L2099.6 924.1L2102.1 924.9L2104.5 925.8L2106.7 926.7L2109 927.7L2111.3 928.9L2113.4 930.3L2115.6 931.7L2117.6 933.2L2119.5 934.8L2121.3 936.4L2123.1 938.1L2124.8 939.9L2126.5 941.8L2128.1 943.8L2129.6 945.9L2131.1 948L2132.5 950.1L2133.9 952.2L2135.2 954.3L2136.4 956.4L2137.6 958.6L2138.8 960.8L2140 963L2141.1 965.2L2142.1 967.5L2143.2 969.8L2144.2 972.1L2145.2 974.4L2146.2 976.7L2147.1 979.1L2148.1 981.4L2149 983.8L2149.9 986.2L2150.8 988.5L2151.7 990.9L2152.6 993.2L2153.5 995.5L2154.3 997.9L2155.2 1000.2L2156 1002.6L2156.8 1005L2157.6 1007.4L2158.4 1009.7L2159.2 1012.1L2159.9 1014.5L2160.7 1016.9L2161.4 1019.3L2162.1 1021.7L2162.9 1024.1L2163.6 1026.5L2164.3 1029L2164.9 1031.4L2165.6 1033.8L2166.3 1036.2L2166.9 1038.6L2167.5 1041L2168.1 1043.5L2168.7 1045.9L2169.3 1048.3L2169.9 1050.8L2170.5 1053.2L2171.1 1055.7L2171.7 1058.1L2172.2 1060.5L2172.8 1063L2173.4 1065.4L2174 1067.9L2174.6 1070.3L2175.2 1072.7L2175.8 1075.2L2176.4 1077.6L2177 1080L2177.6 1082.5L2178.2 1084.9L2178.8 1087.3L2179.4 1089.8L2180 1092.2L2180.6 1094.6L2181.2 1097.1L2181.8 1099.5L2182.3 1102L2182.9 1104.4L2183.5 1106.8L2184.1 1109.3L2184.7 1111.7L2185.3 1109.3L2186 1106.8L2186.6 1104.4L2187.2 1101.9L2187.9 1099.5L2188.5 1097.1L2189.2 1094.6L2189.8 1092.2L2190.5 1089.7L2191.1 1087.3L2191.7 1084.9L2192.4 1082.4L2193 1080L2193.7 1077.6L2194.3 1075.1L2195 1072.7L2195.7 1070.3L2196.3 1067.8L2197 1065.4L2197.6 1063L2198.3 1060.5L2199 1058.1L2199.6 1055.7L2200.3 1053.2L2201 1050.8L2201.7 1048.4L2202.3 1045.9L2203 1043.5L2203.7 1041.1L2204.4 1038.7L2205.1 1036.2L2205.7 1033.8L2206.4 1031.4L2207.1 1029L2207.8 1026.5L2208.5 1024.1L2209.1 1021.7L2209.8 1019.2L2210.5 1016.8L2211.2 1014.4L2211.8 1011.9L2212.5 1009.5L2213.2 1007.1L2213.8 1004.6L2214.5 1002.2L2215.1 999.8L2215.8 997.3L2216.4 994.9L2217.1 992.5L2217.7 990L2218.3 987.6L2219 985.1L2219.6 982.7L2220.2 980.3L2220.8 977.8L2221.4 975.4L2222 972.9L2222.6 970.5L2223.2 968L2223.8 965.6L2224.4 963.1L2225 960.7L2225.6 958.2L2226.2 955.8L2226.8 953.3L2227.4 950.9L2228 948.4L2228.6 946L2229.2 943.5L2229.8 941.1L2230.4 938.6L2231 936.2L2231.6 933.7L2232.2 931.3L2232.8 928.8L2233.4 926.4L2234.1 923.9L2234.7 921.5L2235.3 919.1L2236 916.6L2236.6 914.2L2237.3 911.8L2238 909.3L2238.6 906.9L2239.3 904.5L2240 902L2240.7 899.6L2241.4 897.2L2242.1 894.8L2242.8 892.3L2243.5 889.9L2244.2 887.5L2244.9 885.1L2245.6 882.7L2246.3 880.2L2247.1 877.8L2247.8 875.4L2248.5 873.0"/>
</g>
<rect x="313.0" y="721.2" width="773.5" height="549.1" fill="#fff" stroke="#000" stroke-width="4.3"/>
<path d="M326.5 772.7H435" stroke="#000000" stroke-width="8.5" fill="none"/>
<path d="M326.5 862.5H435" stroke="#77AC30" stroke-width="8.5" fill="none"/>
<path d="M326.5 952.2H435" stroke="#0000FF" stroke-width="8.5" fill="none"/>
<path d="M326.5 1039.2H435" stroke="#FF00FF" stroke-width="4.2" fill="none"/>
<path d="M326.5 1131.7H435" stroke="#00FFFF" stroke-width="8.5" fill="none"/>
<path d="M326.5 1221.5H435" stroke="#FF0000" stroke-width="8.5" fill="none"/>
<g font-family="'Liberation Serif', 'Times New Roman', serif" fill="#000" style="font-kerning:none" font-kerning="none">
<g font-size="77.4">
<text x="447" y="799.2">Site record</text>
<text x="447" y="889.0">Trapezoidal integral</text>
<text x="447" y="978.7">ODE45</text>
<text x="447" y="1068.5">FFT cutoff</text>
<text x="447" y="1158.2">FFT attenuation</text>
<text x="447" y="1248.0">WATEBI</text>
</g>
<g font-size="79" fill="#262626">
<text x="221.2" y="1467.5" text-anchor="middle">0</text>
<text x="626.4" y="1467.5" text-anchor="middle">0.5</text>
<text x="1031.5" y="1467.5" text-anchor="middle">1</text>
<text x="1436.6" y="1467.5" text-anchor="middle">1.5</text>
<text x="1841.7" y="1467.5" text-anchor="middle">2</text>
<text x="2246.8" y="1467.5" text-anchor="middle">2.5</text>
<text x="195" y="60.3" text-anchor="end">30</text>
<text x="195" y="251.2" text-anchor="end">20</text>
<text x="195" y="442.2" text-anchor="end">10</text>
<text x="195" y="633.1" text-anchor="end">0</text>
<text x="195" y="824.0" text-anchor="end">-10</text>
<text x="195" y="1014.9" text-anchor="end">-20</text>
<text x="195" y="1205.9" text-anchor="end">-30</text>
<text x="195" y="1396.8" text-anchor="end">-40</text>
<text x="1234.5" y="1561" text-anchor="middle" font-size="78">Time (s)</text>
<text transform="translate(62.5 702) rotate(-90)" text-anchor="middle" font-size="78"><tspan letter-spacing="-0.4">Velocity</tspan> <tspan letter-spacing="0.3">(cm/s)</tspan></text>
</g>
<text x="1187.5" y="1728" text-anchor="middle" font-size="72">(<tspan font-weight="bold">b</tspan>)</text>
</g>
</svg>
</body>
</html>
